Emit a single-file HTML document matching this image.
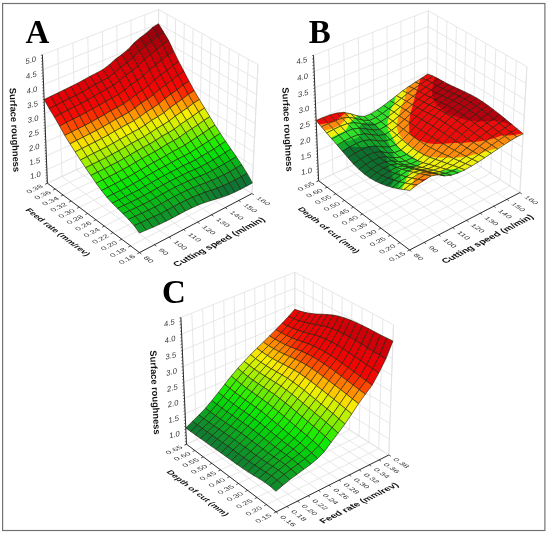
<!DOCTYPE html><html><head><meta charset="utf-8"><style>html,body{margin:0;padding:0;background:#fff;}svg{display:block;}</style></head><body><svg width="550" height="534" viewBox="0 0 550 534"><rect x="2.6" y="3.5" width="542.3" height="527" fill="#fff" stroke="#727272" stroke-width="1.2"/><g><line x1="47.4" y1="183.2" x2="42.4" y2="54.8" stroke="#e1e1e1" stroke-width="0.8"/><line x1="139.5" y1="252.6" x2="47.4" y2="183.2" stroke="#e1e1e1" stroke-width="0.8"/><line x1="62" y1="176.5" x2="57.8" y2="48.8" stroke="#e1e1e1" stroke-width="0.8"/><line x1="154.4" y1="244.8" x2="62" y2="176.5" stroke="#e1e1e1" stroke-width="0.8"/><line x1="76.3" y1="169.9" x2="72.9" y2="42.9" stroke="#e1e1e1" stroke-width="0.8"/><line x1="169.1" y1="237.1" x2="76.3" y2="169.9" stroke="#e1e1e1" stroke-width="0.8"/><line x1="90.4" y1="163.4" x2="87.8" y2="37.1" stroke="#e1e1e1" stroke-width="0.8"/><line x1="183.5" y1="229.5" x2="90.4" y2="163.4" stroke="#e1e1e1" stroke-width="0.8"/><line x1="104.3" y1="157" x2="102.4" y2="31.4" stroke="#e1e1e1" stroke-width="0.8"/><line x1="197.6" y1="222.1" x2="104.3" y2="157" stroke="#e1e1e1" stroke-width="0.8"/><line x1="118" y1="150.7" x2="116.8" y2="25.8" stroke="#e1e1e1" stroke-width="0.8"/><line x1="211.5" y1="214.8" x2="118" y2="150.7" stroke="#e1e1e1" stroke-width="0.8"/><line x1="131.4" y1="144.5" x2="131" y2="20.3" stroke="#e1e1e1" stroke-width="0.8"/><line x1="225.2" y1="207.6" x2="131.4" y2="144.5" stroke="#e1e1e1" stroke-width="0.8"/><line x1="144.7" y1="138.4" x2="144.9" y2="14.9" stroke="#e1e1e1" stroke-width="0.8"/><line x1="238.7" y1="200.6" x2="144.7" y2="138.4" stroke="#e1e1e1" stroke-width="0.8"/><line x1="157.7" y1="132.4" x2="158.6" y2="9.5" stroke="#e1e1e1" stroke-width="0.8"/><line x1="251.9" y1="193.6" x2="157.7" y2="132.4" stroke="#e1e1e1" stroke-width="0.8"/><line x1="251.9" y1="193.6" x2="258" y2="64.6" stroke="#e1e1e1" stroke-width="0.8"/><line x1="139.5" y1="252.6" x2="251.9" y2="193.6" stroke="#e1e1e1" stroke-width="0.8"/><line x1="242.8" y1="187.7" x2="248.4" y2="59.2" stroke="#e1e1e1" stroke-width="0.8"/><line x1="130.6" y1="245.9" x2="242.8" y2="187.7" stroke="#e1e1e1" stroke-width="0.8"/><line x1="233.8" y1="181.8" x2="238.8" y2="54" stroke="#e1e1e1" stroke-width="0.8"/><line x1="121.7" y1="239.2" x2="233.8" y2="181.8" stroke="#e1e1e1" stroke-width="0.8"/><line x1="224.9" y1="176" x2="229.4" y2="48.7" stroke="#e1e1e1" stroke-width="0.8"/><line x1="113" y1="232.6" x2="224.9" y2="176" stroke="#e1e1e1" stroke-width="0.8"/><line x1="216.1" y1="170.3" x2="220.2" y2="43.6" stroke="#e1e1e1" stroke-width="0.8"/><line x1="104.4" y1="226.1" x2="216.1" y2="170.3" stroke="#e1e1e1" stroke-width="0.8"/><line x1="207.5" y1="164.7" x2="211" y2="38.5" stroke="#e1e1e1" stroke-width="0.8"/><line x1="95.9" y1="219.8" x2="207.5" y2="164.7" stroke="#e1e1e1" stroke-width="0.8"/><line x1="198.9" y1="159.1" x2="202" y2="33.5" stroke="#e1e1e1" stroke-width="0.8"/><line x1="87.6" y1="213.5" x2="198.9" y2="159.1" stroke="#e1e1e1" stroke-width="0.8"/><line x1="190.5" y1="153.6" x2="193.1" y2="28.6" stroke="#e1e1e1" stroke-width="0.8"/><line x1="79.3" y1="207.2" x2="190.5" y2="153.6" stroke="#e1e1e1" stroke-width="0.8"/><line x1="182.1" y1="148.2" x2="184.3" y2="23.7" stroke="#e1e1e1" stroke-width="0.8"/><line x1="71.2" y1="201.1" x2="182.1" y2="148.2" stroke="#e1e1e1" stroke-width="0.8"/><line x1="173.9" y1="142.9" x2="175.6" y2="18.9" stroke="#e1e1e1" stroke-width="0.8"/><line x1="63.2" y1="195.1" x2="173.9" y2="142.9" stroke="#e1e1e1" stroke-width="0.8"/><line x1="165.8" y1="137.6" x2="167.1" y2="14.2" stroke="#e1e1e1" stroke-width="0.8"/><line x1="55.3" y1="189.1" x2="165.8" y2="137.6" stroke="#e1e1e1" stroke-width="0.8"/><line x1="157.7" y1="132.4" x2="158.6" y2="9.5" stroke="#e1e1e1" stroke-width="0.8"/><line x1="47.4" y1="183.2" x2="157.7" y2="132.4" stroke="#e1e1e1" stroke-width="0.8"/><line x1="47.4" y1="183.2" x2="157.7" y2="132.4" stroke="#e1e1e1" stroke-width="0.8"/><line x1="157.7" y1="132.4" x2="251.9" y2="193.6" stroke="#e1e1e1" stroke-width="0.8"/><line x1="46.9" y1="169.6" x2="157.8" y2="119.3" stroke="#e1e1e1" stroke-width="0.8"/><line x1="157.8" y1="119.3" x2="252.6" y2="179.9" stroke="#e1e1e1" stroke-width="0.8"/><line x1="46.4" y1="155.8" x2="157.9" y2="106.1" stroke="#e1e1e1" stroke-width="0.8"/><line x1="157.9" y1="106.1" x2="253.2" y2="166.1" stroke="#e1e1e1" stroke-width="0.8"/><line x1="45.8" y1="141.9" x2="158" y2="92.8" stroke="#e1e1e1" stroke-width="0.8"/><line x1="158" y1="92.8" x2="253.9" y2="152.1" stroke="#e1e1e1" stroke-width="0.8"/><line x1="45.3" y1="127.8" x2="158.1" y2="79.3" stroke="#e1e1e1" stroke-width="0.8"/><line x1="158.1" y1="79.3" x2="254.6" y2="137.9" stroke="#e1e1e1" stroke-width="0.8"/><line x1="44.7" y1="113.5" x2="158.2" y2="65.6" stroke="#e1e1e1" stroke-width="0.8"/><line x1="158.2" y1="65.6" x2="255.2" y2="123.6" stroke="#e1e1e1" stroke-width="0.8"/><line x1="44.2" y1="99.1" x2="158.3" y2="51.8" stroke="#e1e1e1" stroke-width="0.8"/><line x1="158.3" y1="51.8" x2="255.9" y2="109.1" stroke="#e1e1e1" stroke-width="0.8"/><line x1="43.6" y1="84.5" x2="158.4" y2="37.9" stroke="#e1e1e1" stroke-width="0.8"/><line x1="158.4" y1="37.9" x2="256.6" y2="94.5" stroke="#e1e1e1" stroke-width="0.8"/><line x1="43" y1="69.7" x2="158.5" y2="23.8" stroke="#e1e1e1" stroke-width="0.8"/><line x1="158.5" y1="23.8" x2="257.3" y2="79.6" stroke="#e1e1e1" stroke-width="0.8"/><line x1="42.4" y1="54.8" x2="158.6" y2="9.5" stroke="#e1e1e1" stroke-width="0.8"/><line x1="158.6" y1="9.5" x2="258" y2="64.6" stroke="#e1e1e1" stroke-width="0.8"/><line x1="251.9" y1="193.6" x2="258" y2="64.6" stroke="#e1e1e1" stroke-width="0.8"/></g><g><line x1="47.4" y1="183.2" x2="42.4" y2="54.8" stroke="#1a1a1a" stroke-width="0.9"/><line x1="47.4" y1="183.2" x2="139.5" y2="252.6" stroke="#1a1a1a" stroke-width="0.9"/><line x1="139.5" y1="252.6" x2="251.9" y2="193.6" stroke="#1a1a1a" stroke-width="0.9"/><line x1="47.4" y1="183.2" x2="45.9" y2="183.9" stroke="#1a1a1a" stroke-width="0.55"/><line x1="47.3" y1="180.5" x2="45.8" y2="181.2" stroke="#1a1a1a" stroke-width="0.55"/><line x1="47.2" y1="177.8" x2="45.7" y2="178.5" stroke="#1a1a1a" stroke-width="0.55"/><line x1="47.1" y1="175" x2="45.6" y2="175.7" stroke="#1a1a1a" stroke-width="0.55"/><line x1="47" y1="172.3" x2="45.5" y2="173" stroke="#1a1a1a" stroke-width="0.55"/><line x1="46.9" y1="169.6" x2="45.4" y2="170.3" stroke="#1a1a1a" stroke-width="0.55"/><line x1="46.8" y1="166.8" x2="45.3" y2="167.5" stroke="#1a1a1a" stroke-width="0.55"/><line x1="46.7" y1="164.1" x2="45.2" y2="164.8" stroke="#1a1a1a" stroke-width="0.55"/><line x1="46.6" y1="161.3" x2="45" y2="162" stroke="#1a1a1a" stroke-width="0.55"/><line x1="46.5" y1="158.6" x2="44.9" y2="159.3" stroke="#1a1a1a" stroke-width="0.55"/><line x1="46.4" y1="155.8" x2="44.8" y2="156.5" stroke="#1a1a1a" stroke-width="0.55"/><line x1="46.3" y1="153" x2="44.7" y2="153.7" stroke="#1a1a1a" stroke-width="0.55"/><line x1="46.2" y1="150.3" x2="44.6" y2="150.9" stroke="#1a1a1a" stroke-width="0.55"/><line x1="46" y1="147.5" x2="44.5" y2="148.2" stroke="#1a1a1a" stroke-width="0.55"/><line x1="45.9" y1="144.7" x2="44.4" y2="145.4" stroke="#1a1a1a" stroke-width="0.55"/><line x1="45.8" y1="141.9" x2="44.3" y2="142.6" stroke="#1a1a1a" stroke-width="0.55"/><line x1="45.7" y1="139.1" x2="44.2" y2="139.8" stroke="#1a1a1a" stroke-width="0.55"/><line x1="45.6" y1="136.3" x2="44.1" y2="136.9" stroke="#1a1a1a" stroke-width="0.55"/><line x1="45.5" y1="133.5" x2="43.9" y2="134.1" stroke="#1a1a1a" stroke-width="0.55"/><line x1="45.4" y1="130.6" x2="43.8" y2="131.3" stroke="#1a1a1a" stroke-width="0.55"/><line x1="45.3" y1="127.8" x2="43.7" y2="128.5" stroke="#1a1a1a" stroke-width="0.55"/><line x1="45.2" y1="125" x2="43.6" y2="125.6" stroke="#1a1a1a" stroke-width="0.55"/><line x1="45.1" y1="122.1" x2="43.5" y2="122.8" stroke="#1a1a1a" stroke-width="0.55"/><line x1="44.9" y1="119.3" x2="43.4" y2="119.9" stroke="#1a1a1a" stroke-width="0.55"/><line x1="44.8" y1="116.4" x2="43.3" y2="117.1" stroke="#1a1a1a" stroke-width="0.55"/><line x1="44.7" y1="113.5" x2="43.2" y2="114.2" stroke="#1a1a1a" stroke-width="0.55"/><line x1="44.6" y1="110.7" x2="43" y2="111.3" stroke="#1a1a1a" stroke-width="0.55"/><line x1="44.5" y1="107.8" x2="42.9" y2="108.4" stroke="#1a1a1a" stroke-width="0.55"/><line x1="44.4" y1="104.9" x2="42.8" y2="105.6" stroke="#1a1a1a" stroke-width="0.55"/><line x1="44.3" y1="102" x2="42.7" y2="102.7" stroke="#1a1a1a" stroke-width="0.55"/><line x1="44.2" y1="99.1" x2="42.6" y2="99.8" stroke="#1a1a1a" stroke-width="0.55"/><line x1="44" y1="96.2" x2="42.5" y2="96.9" stroke="#1a1a1a" stroke-width="0.55"/><line x1="43.9" y1="93.3" x2="42.3" y2="93.9" stroke="#1a1a1a" stroke-width="0.55"/><line x1="43.8" y1="90.4" x2="42.2" y2="91" stroke="#1a1a1a" stroke-width="0.55"/><line x1="43.7" y1="87.4" x2="42.1" y2="88.1" stroke="#1a1a1a" stroke-width="0.55"/><line x1="43.6" y1="84.5" x2="42" y2="85.2" stroke="#1a1a1a" stroke-width="0.55"/><line x1="43.5" y1="81.6" x2="41.9" y2="82.2" stroke="#1a1a1a" stroke-width="0.55"/><line x1="43.4" y1="78.6" x2="41.8" y2="79.3" stroke="#1a1a1a" stroke-width="0.55"/><line x1="43.2" y1="75.7" x2="41.6" y2="76.3" stroke="#1a1a1a" stroke-width="0.55"/><line x1="43.1" y1="72.7" x2="41.5" y2="73.4" stroke="#1a1a1a" stroke-width="0.55"/><line x1="43" y1="69.7" x2="41.4" y2="70.4" stroke="#1a1a1a" stroke-width="0.55"/><line x1="42.9" y1="66.8" x2="41.3" y2="67.4" stroke="#1a1a1a" stroke-width="0.55"/><line x1="42.8" y1="63.8" x2="41.2" y2="64.4" stroke="#1a1a1a" stroke-width="0.55"/><line x1="42.7" y1="60.8" x2="41.1" y2="61.4" stroke="#1a1a1a" stroke-width="0.55"/><line x1="42.6" y1="57.8" x2="40.9" y2="58.4" stroke="#1a1a1a" stroke-width="0.55"/><line x1="42.4" y1="54.8" x2="40.8" y2="55.4" stroke="#1a1a1a" stroke-width="0.55"/><line x1="139.5" y1="252.6" x2="137.2" y2="253.8" stroke="#1a1a1a" stroke-width="0.7"/><line x1="130.6" y1="245.9" x2="128.2" y2="247.1" stroke="#1a1a1a" stroke-width="0.7"/><line x1="121.7" y1="239.2" x2="119.4" y2="240.4" stroke="#1a1a1a" stroke-width="0.7"/><line x1="113" y1="232.6" x2="110.7" y2="233.8" stroke="#1a1a1a" stroke-width="0.7"/><line x1="104.4" y1="226.1" x2="102.1" y2="227.3" stroke="#1a1a1a" stroke-width="0.7"/><line x1="95.9" y1="219.8" x2="93.6" y2="220.9" stroke="#1a1a1a" stroke-width="0.7"/><line x1="87.6" y1="213.5" x2="85.3" y2="214.6" stroke="#1a1a1a" stroke-width="0.7"/><line x1="79.3" y1="207.2" x2="77" y2="208.4" stroke="#1a1a1a" stroke-width="0.7"/><line x1="71.2" y1="201.1" x2="68.9" y2="202.2" stroke="#1a1a1a" stroke-width="0.7"/><line x1="63.2" y1="195.1" x2="60.9" y2="196.1" stroke="#1a1a1a" stroke-width="0.7"/><line x1="55.3" y1="189.1" x2="53" y2="190.2" stroke="#1a1a1a" stroke-width="0.7"/><line x1="47.4" y1="183.2" x2="45.2" y2="184.3" stroke="#1a1a1a" stroke-width="0.7"/><line x1="139.5" y1="252.6" x2="141.5" y2="254.1" stroke="#1a1a1a" stroke-width="0.7"/><line x1="154.4" y1="244.8" x2="156.4" y2="246.2" stroke="#1a1a1a" stroke-width="0.7"/><line x1="169.1" y1="237.1" x2="171" y2="238.5" stroke="#1a1a1a" stroke-width="0.7"/><line x1="183.5" y1="229.5" x2="185.4" y2="230.9" stroke="#1a1a1a" stroke-width="0.7"/><line x1="197.6" y1="222.1" x2="199.6" y2="223.5" stroke="#1a1a1a" stroke-width="0.7"/><line x1="211.5" y1="214.8" x2="213.5" y2="216.2" stroke="#1a1a1a" stroke-width="0.7"/><line x1="225.2" y1="207.6" x2="227.2" y2="208.9" stroke="#1a1a1a" stroke-width="0.7"/><line x1="238.7" y1="200.6" x2="240.7" y2="201.9" stroke="#1a1a1a" stroke-width="0.7"/><line x1="251.9" y1="193.6" x2="253.9" y2="194.9" stroke="#1a1a1a" stroke-width="0.7"/></g><g><text transform="matrix(0.969,-0.248,0.000,1.000,40.8,174)" font-family="Liberation Sans, sans-serif" font-size="7.9" font-weight="normal" fill="#333" text-anchor="end" dominant-baseline="central">1.0</text><text transform="matrix(0.969,-0.248,0.000,1.000,40.2,160.2)" font-family="Liberation Sans, sans-serif" font-size="7.9" font-weight="normal" fill="#333" text-anchor="end" dominant-baseline="central">1.5</text><text transform="matrix(0.969,-0.248,0.000,1.000,39.6,146.2)" font-family="Liberation Sans, sans-serif" font-size="7.9" font-weight="normal" fill="#333" text-anchor="end" dominant-baseline="central">2.0</text><text transform="matrix(0.969,-0.248,0.000,1.000,39.1,132.1)" font-family="Liberation Sans, sans-serif" font-size="7.9" font-weight="normal" fill="#333" text-anchor="end" dominant-baseline="central">2.5</text><text transform="matrix(0.969,-0.248,0.000,1.000,38.5,117.8)" font-family="Liberation Sans, sans-serif" font-size="7.9" font-weight="normal" fill="#333" text-anchor="end" dominant-baseline="central">3.0</text><text transform="matrix(0.969,-0.248,0.000,1.000,37.9,103.4)" font-family="Liberation Sans, sans-serif" font-size="7.9" font-weight="normal" fill="#333" text-anchor="end" dominant-baseline="central">3.5</text><text transform="matrix(0.969,-0.248,0.000,1.000,37.3,88.8)" font-family="Liberation Sans, sans-serif" font-size="7.9" font-weight="normal" fill="#333" text-anchor="end" dominant-baseline="central">4.0</text><text transform="matrix(0.969,-0.248,0.000,1.000,36.7,74)" font-family="Liberation Sans, sans-serif" font-size="7.9" font-weight="normal" fill="#333" text-anchor="end" dominant-baseline="central">4.5</text><text transform="matrix(0.969,-0.248,0.000,1.000,36.1,59)" font-family="Liberation Sans, sans-serif" font-size="7.9" font-weight="normal" fill="#333" text-anchor="end" dominant-baseline="central">5.0</text><text transform="matrix(0.885,-0.465,0.623,0.470,134.1,255.5)" font-family="Liberation Sans, sans-serif" font-size="8.4" font-weight="normal" fill="#333" text-anchor="end" dominant-baseline="central">0.16</text><text transform="matrix(0.888,-0.460,0.623,0.470,125.2,248.7)" font-family="Liberation Sans, sans-serif" font-size="8.4" font-weight="normal" fill="#333" text-anchor="end" dominant-baseline="central">0.18</text><text transform="matrix(0.890,-0.456,0.623,0.470,116.3,242)" font-family="Liberation Sans, sans-serif" font-size="8.4" font-weight="normal" fill="#333" text-anchor="end" dominant-baseline="central">0.20</text><text transform="matrix(0.892,-0.451,0.623,0.470,107.6,235.4)" font-family="Liberation Sans, sans-serif" font-size="8.4" font-weight="normal" fill="#333" text-anchor="end" dominant-baseline="central">0.22</text><text transform="matrix(0.895,-0.447,0.623,0.470,99,228.8)" font-family="Liberation Sans, sans-serif" font-size="8.4" font-weight="normal" fill="#333" text-anchor="end" dominant-baseline="central">0.24</text><text transform="matrix(0.897,-0.443,0.623,0.470,90.6,222.4)" font-family="Liberation Sans, sans-serif" font-size="8.4" font-weight="normal" fill="#333" text-anchor="end" dominant-baseline="central">0.26</text><text transform="matrix(0.899,-0.439,0.623,0.470,82.2,216.1)" font-family="Liberation Sans, sans-serif" font-size="8.4" font-weight="normal" fill="#333" text-anchor="end" dominant-baseline="central">0.28</text><text transform="matrix(0.901,-0.434,0.623,0.470,74,209.8)" font-family="Liberation Sans, sans-serif" font-size="8.4" font-weight="normal" fill="#333" text-anchor="end" dominant-baseline="central">0.30</text><text transform="matrix(0.903,-0.430,0.623,0.470,65.9,203.7)" font-family="Liberation Sans, sans-serif" font-size="8.4" font-weight="normal" fill="#333" text-anchor="end" dominant-baseline="central">0.32</text><text transform="matrix(0.905,-0.426,0.623,0.470,57.9,197.6)" font-family="Liberation Sans, sans-serif" font-size="8.4" font-weight="normal" fill="#333" text-anchor="end" dominant-baseline="central">0.34</text><text transform="matrix(0.906,-0.422,0.623,0.470,50,191.6)" font-family="Liberation Sans, sans-serif" font-size="8.4" font-weight="normal" fill="#333" text-anchor="end" dominant-baseline="central">0.36</text><text transform="matrix(0.908,-0.419,0.623,0.470,42.1,185.6)" font-family="Liberation Sans, sans-serif" font-size="8.4" font-weight="normal" fill="#333" text-anchor="end" dominant-baseline="central">0.38</text><text transform="matrix(0.799,0.602,-0.664,0.349,145,256.7)" font-family="Liberation Sans, sans-serif" font-size="8.4" font-weight="normal" fill="#333" text-anchor="start" dominant-baseline="central">80</text><text transform="matrix(0.804,0.594,-0.664,0.349,159.9,248.9)" font-family="Liberation Sans, sans-serif" font-size="8.4" font-weight="normal" fill="#333" text-anchor="start" dominant-baseline="central">90</text><text transform="matrix(0.810,0.587,-0.664,0.349,174.6,241.1)" font-family="Liberation Sans, sans-serif" font-size="8.4" font-weight="normal" fill="#333" text-anchor="start" dominant-baseline="central">100</text><text transform="matrix(0.815,0.579,-0.664,0.349,189,233.5)" font-family="Liberation Sans, sans-serif" font-size="8.4" font-weight="normal" fill="#333" text-anchor="start" dominant-baseline="central">110</text><text transform="matrix(0.820,0.572,-0.664,0.349,203.1,226)" font-family="Liberation Sans, sans-serif" font-size="8.4" font-weight="normal" fill="#333" text-anchor="start" dominant-baseline="central">120</text><text transform="matrix(0.825,0.565,-0.664,0.349,217.1,218.6)" font-family="Liberation Sans, sans-serif" font-size="8.4" font-weight="normal" fill="#333" text-anchor="start" dominant-baseline="central">130</text><text transform="matrix(0.830,0.558,-0.664,0.349,230.8,211.4)" font-family="Liberation Sans, sans-serif" font-size="8.4" font-weight="normal" fill="#333" text-anchor="start" dominant-baseline="central">140</text><text transform="matrix(0.834,0.552,-0.664,0.349,244.3,204.2)" font-family="Liberation Sans, sans-serif" font-size="8.4" font-weight="normal" fill="#333" text-anchor="start" dominant-baseline="central">150</text><text transform="matrix(0.839,0.545,-0.664,0.349,257.5,197.2)" font-family="Liberation Sans, sans-serif" font-size="8.4" font-weight="normal" fill="#333" text-anchor="start" dominant-baseline="central">160</text><text transform="matrix(0.799,0.602,-0.853,0.419,58,232)" font-family="Liberation Sans, sans-serif" font-size="8.6" font-weight="bold" fill="#111" text-anchor="middle" dominant-baseline="central">Feed rate (mm/rev)</text><text transform="matrix(0.885,-0.465,0.779,0.544,219,242)" font-family="Liberation Sans, sans-serif" font-size="9.5" font-weight="bold" fill="#111" text-anchor="middle" dominant-baseline="central">Cutting speed (m/min)</text><text transform="matrix(0.050,1.000,-1.000,0.050,14.5,130)" font-family="Liberation Sans, sans-serif" font-size="9.3" font-weight="bold" fill="#111" text-anchor="middle" dominant-baseline="central">Surface roughness</text></g><g stroke="#1c1c08" stroke-width="0.6" stroke-linejoin="round"><polygon points="157.5,36 163.6,32.1 158.5,23.7 152.5,27.4" fill="#96000e"/><polygon points="162.6,44.5 168.7,40.6 163.6,32.1 157.5,36" fill="#a5000c"/><polygon points="151.5,41.5 157.5,36 152.5,27.4 146.4,32.9" fill="#9c000d"/><polygon points="167.7,55.2 173.7,51.3 168.7,40.6 162.6,44.5" fill="#b9000a"/><polygon points="172.8,65.6 178.8,61.7 173.7,51.3 167.7,55.2" fill="#d50008"/><polygon points="156.6,49.9 162.6,44.5 157.5,36 151.5,41.5" fill="#ac000b"/><polygon points="145.4,46.2 151.5,41.5 146.4,32.9 140.3,37.6" fill="#a3000c"/><polygon points="177.9,75.1 183.9,71.3 178.8,61.7 172.8,65.6" fill="#e40207"/><polygon points="161.6,60.5 167.7,55.2 162.6,44.5 156.6,49.9" fill="#c10009"/><polygon points="183.1,85 189.1,81.2 183.9,71.3 177.9,75.1" fill="#ee0406"/><polygon points="166.8,70.7 172.8,65.6 167.7,55.2 161.6,60.5" fill="#dd0008"/><polygon points="150.5,54.6 156.6,49.9 151.5,41.5 145.4,46.2" fill="#b3000a"/><polygon points="139.2,51.3 145.4,46.2 140.3,37.6 134.1,42.8" fill="#aa000b"/><polygon points="188.2,94.5 194.2,90.7 189.1,81.2 183.1,85" fill="#f81b01"/><polygon points="171.9,80.2 177.9,75.1 172.8,65.6 166.8,70.7" fill="#e70207"/><polygon points="155.6,65 161.6,60.5 156.6,49.9 150.5,54.6" fill="#ca0009"/><polygon points="160.7,75.2 166.8,70.7 161.6,60.5 155.6,65" fill="#e10108"/><polygon points="177,89.9 183.1,85 177.9,75.1 171.9,80.2" fill="#f10505"/><polygon points="144.3,59.7 150.5,54.6 145.4,46.2 139.2,51.3" fill="#bb000a"/><polygon points="193.4,103.2 199.4,99.5 194.2,90.7 188.2,94.5" fill="#ff7400"/><polygon points="133.1,57.9 139.2,51.3 134.1,42.8 128,49.5" fill="#b4000a"/><polygon points="165.8,84.6 171.9,80.2 166.8,70.7 160.7,75.2" fill="#ea0306"/><polygon points="182.2,99.2 188.2,94.5 183.1,85 177,89.9" fill="#fa2900"/><polygon points="149.4,69.9 155.6,65 150.5,54.6 144.3,59.7" fill="#d30009"/><polygon points="198.6,111.9 204.6,108.1 199.4,99.5 193.4,103.2" fill="#fbc700"/><polygon points="138.1,66.1 144.3,59.7 139.2,51.3 133.1,57.9" fill="#c70009"/><polygon points="126.9,62.9 133.1,57.9 128,49.5 121.8,54.5" fill="#c00009"/><polygon points="154.5,80 160.7,75.2 155.6,65 149.4,69.9" fill="#e40107"/><polygon points="170.9,94.2 177,89.9 171.9,80.2 165.8,84.6" fill="#f40b04"/><polygon points="187.4,107.9 193.4,103.2 188.2,94.5 182.2,99.2" fill="#ff8c00"/><polygon points="203.8,120.5 209.8,116.7 204.6,108.1 198.6,111.9" fill="#def000"/><polygon points="143.3,76 149.4,69.9 144.3,59.7 138.1,66.1" fill="#de0008"/><polygon points="159.7,89.2 165.8,84.6 160.7,75.2 154.5,80" fill="#ed0406"/><polygon points="176.1,103.4 182.2,99.2 177,89.9 170.9,94.2" fill="#fd4a00"/><polygon points="131.9,70.9 138.1,66.1 133.1,57.9 126.9,62.9" fill="#d30009"/><polygon points="192.6,116.4 198.6,111.9 193.4,103.2 187.4,107.9" fill="#f8da00"/><polygon points="148.4,85.8 154.5,80 149.4,69.9 143.3,76" fill="#e80207"/><polygon points="120.6,67.4 126.9,62.9 121.8,54.5 115.5,59.1" fill="#c80009"/><polygon points="164.8,98.7 170.9,94.2 165.8,84.6 159.7,89.2" fill="#f61502"/><polygon points="209.1,128.9 215,125.2 209.8,116.7 203.8,120.5" fill="#a4ef00"/><polygon points="181.3,112 187.4,107.9 182.2,99.2 176.1,103.4" fill="#ffa700"/><polygon points="137.1,80.7 143.3,76 138.1,66.1 131.9,70.9" fill="#e20107"/><polygon points="153.5,94.8 159.7,89.2 154.5,80 148.4,85.8" fill="#f10505"/><polygon points="197.8,124.9 203.8,120.5 198.6,111.9 192.6,116.4" fill="#d1f000"/><polygon points="170,107.7 176.1,103.4 170.9,94.2 164.8,98.7" fill="#ff6600"/><polygon points="125.7,75.4 131.9,70.9 126.9,62.9 120.6,67.4" fill="#db0008"/><polygon points="142.2,90.4 148.4,85.8 143.3,76 137.1,80.7" fill="#eb0306"/><polygon points="214.4,137.1 220.3,133.4 215,125.2 209.1,128.9" fill="#63eb00"/><polygon points="186.5,120.4 192.6,116.4 187.4,107.9 181.3,112" fill="#f5f000"/><polygon points="114.4,73 120.6,67.4 115.5,59.1 109.3,64.7" fill="#d10009"/><polygon points="158.7,104 164.8,98.7 159.7,89.2 153.5,94.8" fill="#fa2300"/><polygon points="203.1,133.2 209.1,128.9 203.8,120.5 197.8,124.9" fill="#94ee00"/><polygon points="175.2,116.2 181.3,112 176.1,103.4 170,107.7" fill="#fdbc00"/><polygon points="130.8,84.9 137.1,80.7 131.9,70.9 125.7,75.4" fill="#e50207"/><polygon points="147.3,99.2 153.5,94.8 148.4,85.8 142.2,90.4" fill="#f40e04"/><polygon points="219.7,145 225.6,141.4 220.3,133.4 214.4,137.1" fill="#29ed01"/><polygon points="191.8,128.8 197.8,124.9 192.6,116.4 186.5,120.4" fill="#c2f000"/><polygon points="163.9,112.8 170,107.7 164.8,98.7 158.7,104" fill="#ff8700"/><polygon points="119.5,80.8 125.7,75.4 120.6,67.4 114.4,73" fill="#e00108"/><polygon points="108.1,77.7 114.4,73 109.3,64.7 103,69.5" fill="#db0008"/><polygon points="136,94.5 142.2,90.4 137.1,80.7 130.8,84.9" fill="#ee0406"/><polygon points="208.4,141.3 214.4,137.1 209.1,128.9 203.1,133.2" fill="#54ec00"/><polygon points="180.4,124.5 186.5,120.4 181.3,112 175.2,116.2" fill="#e8f000"/><polygon points="152.5,108.2 158.7,104 153.5,94.8 147.3,99.2" fill="#fd4a00"/><polygon points="169.1,121 175.2,116.2 170,107.7 163.9,112.8" fill="#f9d500"/><polygon points="124.6,90.2 130.8,84.9 125.7,75.4 119.5,80.8" fill="#e80207"/><polygon points="197,137.1 203.1,133.2 197.8,124.9 191.8,128.8" fill="#83ed00"/><polygon points="225,152.7 231,149.1 225.6,141.4 219.7,145" fill="#09e505"/><polygon points="141.1,103.2 147.3,99.2 142.2,90.4 136,94.5" fill="#f71702"/><polygon points="113.2,85.5 119.5,80.8 114.4,73 108.1,77.7" fill="#e40107"/><polygon points="157.7,116.8 163.9,112.8 158.7,104 152.5,108.2" fill="#ffa500"/><polygon points="185.7,132.8 191.8,128.8 186.5,120.4 180.4,124.5" fill="#b4ef00"/><polygon points="213.7,149.1 219.7,145 214.4,137.1 208.4,141.3" fill="#21eb01"/><polygon points="129.7,99.6 136,94.5 130.8,84.9 124.6,90.2" fill="#f10505"/><polygon points="101.7,81.2 108.1,77.7 103,69.5 96.6,72.9" fill="#df0008"/><polygon points="174.3,129.2 180.4,124.5 175.2,116.2 169.1,121" fill="#d8f000"/><polygon points="202.3,145.1 208.4,141.3 203.1,133.2 197,137.1" fill="#44ed00"/><polygon points="146.3,112 152.5,108.2 147.3,99.2 141.1,103.2" fill="#ff6200"/><polygon points="230.4,160.3 236.3,156.8 231,149.1 225,152.7" fill="#05d00e"/><polygon points="118.3,94.7 124.6,90.2 119.5,80.8 113.2,85.5" fill="#eb0306"/><polygon points="162.9,124.9 169.1,121 163.9,112.8 157.7,116.8" fill="#f6ec00"/><polygon points="191,141 197,137.1 191.8,128.8 185.7,132.8" fill="#75ec00"/><polygon points="134.9,108.1 141.1,103.2 136,94.5 129.7,99.6" fill="#fa2200"/><polygon points="219,156.5 225,152.7 219.7,145 213.7,149.1" fill="#05e206"/><polygon points="106.8,89.1 113.2,85.5 108.1,77.7 101.7,81.2" fill="#e60207"/><polygon points="151.5,120.5 157.7,116.8 152.5,108.2 146.3,112" fill="#feb600"/><polygon points="179.6,137.2 185.7,132.8 180.4,124.5 174.3,129.2" fill="#a1ee00"/><polygon points="123.4,104 129.7,99.6 124.6,90.2 118.3,94.7" fill="#f40c04"/><polygon points="207.7,152.7 213.7,149.1 208.4,141.3 202.3,145.1" fill="#1ae902"/><polygon points="235.8,168.2 241.7,164.8 236.3,156.8 230.4,160.3" fill="#09b41b"/><polygon points="95.3,84.6 101.7,81.2 96.6,72.9 90.2,76.2" fill="#e00008"/><polygon points="168.1,132.9 174.3,129.2 169.1,121 162.9,124.9" fill="#c9f000"/><polygon points="140,116.6 146.3,112 141.1,103.2 134.9,108.1" fill="#ff7b00"/><polygon points="196.3,148.8 202.3,145.1 197,137.1 191,141" fill="#38ed00"/><polygon points="111.9,98.2 118.3,94.7 113.2,85.5 106.8,89.1" fill="#ed0406"/><polygon points="224.4,163.9 230.4,160.3 225,152.7 219,156.5" fill="#05cc0f"/><polygon points="128.6,112.4 134.9,108.1 129.7,99.6 123.4,104" fill="#fc4100"/><polygon points="156.7,128.5 162.9,124.9 157.7,116.8 151.5,120.5" fill="#eef000"/><polygon points="184.8,145.2 191,141 185.7,132.8 179.6,137.2" fill="#65eb00"/><polygon points="213,160 219,156.5 213.7,149.1 207.7,152.7" fill="#05de08"/><polygon points="241.2,176.7 247.1,173.4 241.7,164.8 235.8,168.2" fill="#0f942a"/><polygon points="100.4,92.5 106.8,89.1 101.7,81.2 95.3,84.6" fill="#e70207"/><polygon points="145.2,124.9 151.5,120.5 146.3,112 140,116.6" fill="#fbc800"/><polygon points="173.4,140.8 179.6,137.2 174.3,129.2 168.1,132.9" fill="#91ee00"/><polygon points="117.1,107.5 123.4,104 118.3,94.7 111.9,98.2" fill="#f61303"/><polygon points="201.6,156.2 207.7,152.7 202.3,145.1 196.3,148.8" fill="#15e803"/><polygon points="133.8,120.8 140,116.6 134.9,108.1 128.6,112.4" fill="#ff9600"/><polygon points="88.9,88.3 95.3,84.6 90.2,76.2 83.8,79.8" fill="#e10108"/><polygon points="229.8,171.7 235.8,168.2 230.4,160.3 224.4,163.9" fill="#0ab11d"/><polygon points="161.9,136.3 168.1,132.9 162.9,124.9 156.7,128.5" fill="#c2f000"/><polygon points="190.1,152.7 196.3,148.8 191,141 184.8,145.2" fill="#2cee00"/><polygon points="246.5,186.2 252.4,182.9 247.1,173.4 241.2,176.7" fill="#0e7634"/><polygon points="105.5,101.6 111.9,98.2 106.8,89.1 100.4,92.5" fill="#ee0406"/><polygon points="122.2,115.9 128.6,112.4 123.4,104 117.1,107.5" fill="#fe5600"/><polygon points="150.5,132.7 156.7,128.5 151.5,120.5 145.2,124.9" fill="#e3f000"/><polygon points="218.4,167.2 224.4,163.9 219,156.5 213,160" fill="#05c911"/><polygon points="178.7,148.6 184.8,145.2 179.6,137.2 173.4,140.8" fill="#57ec00"/><polygon points="139,128.9 145.2,124.9 140,116.6 133.8,120.8" fill="#f8dc00"/><polygon points="207,163.3 213,160 207.7,152.7 201.6,156.2" fill="#05db09"/><polygon points="94,96.3 100.4,92.5 95.3,84.6 88.9,88.3" fill="#e80207"/><polygon points="235.2,180 241.2,176.7 235.8,168.2 229.8,171.7" fill="#0f922a"/><polygon points="167.2,144.1 173.4,140.8 168.1,132.9 161.9,136.3" fill="#89ed00"/><polygon points="110.7,110.9 117.1,107.5 111.9,98.2 105.5,101.6" fill="#f71702"/><polygon points="195.5,159.9 201.6,156.2 196.3,148.8 190.1,152.7" fill="#0fe704"/><polygon points="127.4,124.2 133.8,120.8 128.6,112.4 122.2,115.9" fill="#ffa500"/><polygon points="82.4,92 88.9,88.3 83.8,79.8 77.3,83.3" fill="#e20107"/><polygon points="155.7,140.4 161.9,136.3 156.7,128.5 150.5,132.7" fill="#b6f000"/><polygon points="223.8,174.8 229.8,171.7 224.4,163.9 218.4,167.2" fill="#0bae1e"/><polygon points="184,156 190.1,152.7 184.8,145.2 178.7,148.6" fill="#26ec01"/><polygon points="99.1,105.3 105.5,101.6 100.4,92.5 94,96.3" fill="#ef0405"/><polygon points="240.6,189.3 246.5,186.2 241.2,176.7 235.2,180" fill="#0e7535"/><polygon points="144.2,136.6 150.5,132.7 145.2,124.9 139,128.9" fill="#d7f000"/><polygon points="115.9,119.3 122.2,115.9 117.1,107.5 110.7,110.9" fill="#fe6100"/><polygon points="212.4,170.4 218.4,167.2 213,160 207,163.3" fill="#05c711"/><polygon points="172.5,151.7 178.7,148.6 173.4,140.8 167.2,144.1" fill="#51ec00"/><polygon points="132.6,132.3 139,128.9 133.8,120.8 127.4,124.2" fill="#f6e800"/><polygon points="87.5,100 94,96.3 88.9,88.3 82.4,92" fill="#e90306"/><polygon points="200.9,166.7 207,163.3 201.6,156.2 195.5,159.9" fill="#05d80a"/><polygon points="161,148 167.2,144.1 161.9,136.3 155.7,140.4" fill="#7fed00"/><polygon points="229.2,183 235.2,180 229.8,171.7 223.8,174.8" fill="#0f912b"/><polygon points="104.3,114.7 110.7,110.9 105.5,101.6 99.1,105.3" fill="#f81c01"/><polygon points="189.4,162.9 195.5,159.9 190.1,152.7 184,156" fill="#0be604"/><polygon points="121.1,127.6 127.4,124.2 122.2,115.9 115.9,119.3" fill="#ffaf00"/><polygon points="149.4,144.2 155.7,140.4 150.5,132.7 144.2,136.6" fill="#a8ef00"/><polygon points="75.9,95.4 82.4,92 77.3,83.3 70.8,86.6" fill="#e30107"/><polygon points="217.8,177.8 223.8,174.8 218.4,167.2 212.4,170.4" fill="#0bad1f"/><polygon points="177.8,159 184,156 178.7,148.6 172.5,151.7" fill="#24ec01"/><polygon points="92.7,109 99.1,105.3 94,96.3 87.5,100" fill="#f10505"/><polygon points="137.9,140 144.2,136.6 139,128.9 132.6,132.3" fill="#cff000"/><polygon points="109.5,123.1 115.9,119.3 110.7,110.9 104.3,114.7" fill="#ff6e00"/><polygon points="234.6,192.2 240.6,189.3 235.2,180 229.2,183" fill="#0e7535"/><polygon points="166.3,155.5 172.5,151.7 167.2,144.1 161,148" fill="#4aec00"/><polygon points="206.3,173.5 212.4,170.4 207,163.3 200.9,166.7" fill="#05c612"/><polygon points="126.3,135.7 132.6,132.3 127.4,124.2 121.1,127.6" fill="#f5f000"/><polygon points="81,103.5 87.5,100 82.4,92 75.9,95.4" fill="#ea0306"/><polygon points="154.7,151.7 161,148 155.7,140.4 149.4,144.2" fill="#73ec00"/><polygon points="194.8,169.5 200.9,166.7 195.5,159.9 189.4,162.9" fill="#05d70b"/><polygon points="97.8,118.4 104.3,114.7 99.1,105.3 92.7,109" fill="#fa2200"/><polygon points="223.2,185.8 229.2,183 223.8,174.8 217.8,177.8" fill="#0f912b"/><polygon points="114.6,131.3 121.1,127.6 115.9,119.3 109.5,123.1" fill="#fdb900"/><polygon points="183.2,165.7 189.4,162.9 184,156 177.8,159" fill="#0be604"/><polygon points="143.1,147.5 149.4,144.2 144.2,136.6 137.9,140" fill="#9fee00"/><polygon points="69.3,98.7 75.9,95.4 70.8,86.6 64.2,89.8" fill="#e40207"/><polygon points="171.6,162.5 177.8,159 172.5,151.7 166.3,155.5" fill="#22eb01"/><polygon points="86.1,112.5 92.7,109 87.5,100 81,103.5" fill="#f20505"/><polygon points="211.7,180.5 217.8,177.8 212.4,170.4 206.3,173.5" fill="#0bad1e"/><polygon points="131.5,143.4 137.9,140 132.6,132.3 126.3,135.7" fill="#caf000"/><polygon points="103,126.8 109.5,123.1 104.3,114.7 97.8,118.4" fill="#ff7c00"/><polygon points="160,159 166.3,155.5 161,148 154.7,151.7" fill="#40ed00"/><polygon points="228.7,194.8 234.6,192.2 229.2,183 223.2,185.8" fill="#0e7634"/><polygon points="200.2,176 206.3,173.5 200.9,166.7 194.8,169.5" fill="#05c712"/><polygon points="119.8,139.4 126.3,135.7 121.1,127.6 114.6,131.3" fill="#eff000"/><polygon points="74.4,106.9 81,103.5 75.9,95.4 69.3,98.7" fill="#eb0306"/><polygon points="148.4,155.1 154.7,151.7 149.4,144.2 143.1,147.5" fill="#6ceb00"/><polygon points="91.3,122 97.8,118.4 92.7,109 86.1,112.5" fill="#fb2d00"/><polygon points="188.6,172.1 194.8,169.5 189.4,162.9 183.2,165.7" fill="#05d80a"/><polygon points="108.2,135 114.6,131.3 109.5,123.1 103,126.8" fill="#fcc400"/><polygon points="217.2,188.3 223.2,185.8 217.8,177.8 211.7,180.5" fill="#0f932a"/><polygon points="136.7,151 143.1,147.5 137.9,140 131.5,143.4" fill="#99ee00"/><polygon points="177,169 183.2,165.7 177.8,159 171.6,162.5" fill="#0ae504"/><polygon points="62.7,101.9 69.3,98.7 64.2,89.8 57.6,93" fill="#e50207"/><polygon points="79.6,115.9 86.1,112.5 81,103.5 74.4,106.9" fill="#f30805"/><polygon points="165.3,165.9 171.6,162.5 166.3,155.5 160,159" fill="#1eea02"/><polygon points="125.1,147.1 131.5,143.4 126.3,135.7 119.8,139.4" fill="#c4f000"/><polygon points="96.5,130.4 103,126.8 97.8,118.4 91.3,122" fill="#ff8800"/><polygon points="205.6,182.9 211.7,180.5 206.3,173.5 200.2,176" fill="#0bb01d"/><polygon points="153.7,162.4 160,159 154.7,151.7 148.4,155.1" fill="#39ed00"/><polygon points="113.4,143.1 119.8,139.4 114.6,131.3 108.2,135" fill="#e7f000"/><polygon points="222.6,197 228.7,194.8 223.2,185.8 217.2,188.3" fill="#0e7833"/><polygon points="67.8,110.2 74.4,106.9 69.3,98.7 62.7,101.9" fill="#ec0406"/><polygon points="194,178.5 200.2,176 194.8,169.5 188.6,172.1" fill="#05c911"/><polygon points="142,158.6 148.4,155.1 143.1,147.5 136.7,151" fill="#66eb00"/><polygon points="84.8,125.4 91.3,122 86.1,112.5 79.6,115.9" fill="#fb3700"/><polygon points="182.4,175.1 188.6,172.1 183.2,165.7 177,169" fill="#05d90a"/><polygon points="101.7,138.6 108.2,135 103,126.8 96.5,130.4" fill="#face00"/><polygon points="130.3,154.7 136.7,151 131.5,143.4 125.1,147.1" fill="#91ee00"/><polygon points="170.7,172.2 177,169 171.6,162.5 165.3,165.9" fill="#08e505"/><polygon points="56,105.3 62.7,101.9 57.6,93 50.9,96.2" fill="#e50207"/><polygon points="211.1,190.4 217.2,188.3 211.7,180.5 205.6,182.9" fill="#0f9728"/><polygon points="73,119.2 79.6,115.9 74.4,106.9 67.8,110.2" fill="#f40b04"/><polygon points="159,169.2 165.3,165.9 160,159 153.7,162.4" fill="#1be902"/><polygon points="118.6,150.9 125.1,147.1 119.8,139.4 113.4,143.1" fill="#bcf000"/><polygon points="89.9,133.7 96.5,130.4 91.3,122 84.8,125.4" fill="#ff9100"/><polygon points="147.3,165.9 153.7,162.4 148.4,155.1 142,158.6" fill="#34ee00"/><polygon points="199.5,185.1 205.6,182.9 200.2,176 194,178.5" fill="#09b51b"/><polygon points="106.9,146.7 113.4,143.1 108.2,135 101.7,138.6" fill="#e0f000"/><polygon points="61.1,113.6 67.8,110.2 62.7,101.9 56,105.3" fill="#ed0406"/><polygon points="135.6,162.3 142,158.6 136.7,151 130.3,154.7" fill="#5eeb00"/><polygon points="78.1,128.7 84.8,125.4 79.6,115.9 73,119.2" fill="#fc3f00"/><polygon points="187.8,181.2 194,178.5 188.6,172.1 182.4,175.1" fill="#05cb10"/><polygon points="216.6,198.9 222.6,197 217.2,188.3 211.1,190.4" fill="#0f7c32"/><polygon points="95.1,141.9 101.7,138.6 96.5,130.4 89.9,133.7" fill="#f9d500"/><polygon points="176.1,178.2 182.4,175.1 177,169 170.7,172.2" fill="#05d80a"/><polygon points="123.9,158.5 130.3,154.7 125.1,147.1 118.6,150.9" fill="#88ed00"/><polygon points="49.3,108.8 56,105.3 50.9,96.2 44.2,99.6" fill="#e60207"/><polygon points="164.4,175.5 170.7,172.2 165.3,165.9 159,169.2" fill="#06e405"/><polygon points="66.3,122.5 73,119.2 67.8,110.2 61.1,113.6" fill="#f40d04"/><polygon points="112.1,154.4 118.6,150.9 113.4,143.1 106.9,146.7" fill="#b3ef00"/><polygon points="152.7,172.7 159,169.2 153.7,162.4 147.3,165.9" fill="#18e903"/><polygon points="83.3,137.1 89.9,133.7 84.8,125.4 78.1,128.7" fill="#ff9800"/><polygon points="205,192.4 211.1,190.4 205.6,182.9 199.5,185.1" fill="#0f9d26"/><polygon points="140.9,169.7 147.3,165.9 142,158.6 135.6,162.3" fill="#2cee00"/><polygon points="100.3,150 106.9,146.7 101.7,138.6 95.1,141.9" fill="#dcf000"/><polygon points="54.4,117.1 61.1,113.6 56,105.3 49.3,108.8" fill="#ee0406"/><polygon points="193.3,187.6 199.5,185.1 194,178.5 187.8,181.2" fill="#08b918"/><polygon points="129.2,166.1 135.6,162.3 130.3,154.7 123.9,158.5" fill="#54ec00"/><polygon points="71.5,132 78.1,128.7 73,119.2 66.3,122.5" fill="#fd4700"/><polygon points="181.5,184.1 187.8,181.2 182.4,175.1 176.1,178.2" fill="#05cc0f"/><polygon points="88.5,145.2 95.1,141.9 89.9,133.7 83.3,137.1" fill="#f8da00"/><polygon points="117.4,162.1 123.9,158.5 118.6,150.9 112.1,154.4" fill="#7fed00"/><polygon points="169.8,181.3 176.1,178.2 170.7,172.2 164.4,175.5" fill="#05d80a"/><polygon points="210.4,200.7 216.6,198.9 211.1,190.4 205,192.4" fill="#0f842f"/><polygon points="158,178.9 164.4,175.5 159,169.2 152.7,172.7" fill="#05e305"/><polygon points="59.6,126 66.3,122.5 61.1,113.6 54.4,117.1" fill="#f51103"/><polygon points="105.6,157.8 112.1,154.4 106.9,146.7 100.3,150" fill="#aeef00"/><polygon points="146.2,176.4 152.7,172.7 147.3,165.9 140.9,169.7" fill="#14e803"/><polygon points="76.7,140.4 83.3,137.1 78.1,128.7 71.5,132" fill="#ff9e00"/><polygon points="134.5,173.4 140.9,169.7 135.6,162.3 129.2,166.1" fill="#27ed01"/><polygon points="198.8,194.7 205,192.4 199.5,185.1 193.3,187.6" fill="#0ea323"/><polygon points="93.7,153.3 100.3,150 95.1,141.9 88.5,145.2" fill="#d8f000"/><polygon points="122.7,169.7 129.2,166.1 123.9,158.5 117.4,162.1" fill="#4cec00"/><polygon points="64.8,135.5 71.5,132 66.3,122.5 59.6,126" fill="#fd4f00"/><polygon points="187,190.3 193.3,187.6 187.8,181.2 181.5,184.1" fill="#07bc17"/><polygon points="175.2,187.1 181.5,184.1 176.1,178.2 169.8,181.3" fill="#05cc0f"/><polygon points="81.9,148.5 88.5,145.2 83.3,137.1 76.7,140.4" fill="#f8df00"/><polygon points="110.8,165.5 117.4,162.1 112.1,154.4 105.6,157.8" fill="#7aec00"/><polygon points="163.4,184.7 169.8,181.3 164.4,175.5 158,178.9" fill="#05d70b"/><polygon points="151.6,182.6 158,178.9 152.7,172.7 146.2,176.4" fill="#05e107"/><polygon points="204.3,202.7 210.4,200.7 205,192.4 198.8,194.7" fill="#0f8b2d"/><polygon points="139.8,180.2 146.2,176.4 140.9,169.7 134.5,173.4" fill="#0fe704"/><polygon points="99,161.1 105.6,157.8 100.3,150 93.7,153.3" fill="#aaef00"/><polygon points="70,143.9 76.7,140.4 71.5,132 64.8,135.5" fill="#ffa500"/><polygon points="128,177.1 134.5,173.4 129.2,166.1 122.7,169.7" fill="#23ec01"/><polygon points="87.1,156.6 93.7,153.3 88.5,145.2 81.9,148.5" fill="#d6f000"/><polygon points="192.5,197.2 198.8,194.7 193.3,187.6 187,190.3" fill="#0da821"/><polygon points="116.1,173.1 122.7,169.7 117.4,162.1 110.8,165.5" fill="#46ed00"/><polygon points="180.7,193.3 187,190.3 181.5,184.1 175.2,187.1" fill="#07be16"/><polygon points="75.2,151.9 81.9,148.5 76.7,140.4 70,143.9" fill="#f7e500"/><polygon points="168.9,190.5 175.2,187.1 169.8,181.3 163.4,184.7" fill="#05cc10"/><polygon points="104.2,168.8 110.8,165.5 105.6,157.8 99,161.1" fill="#76ec00"/><polygon points="157,188.3 163.4,184.7 158,178.9 151.6,182.6" fill="#05d50c"/><polygon points="145.2,186.3 151.6,182.6 146.2,176.4 139.8,180.2" fill="#05dd08"/><polygon points="133.3,183.8 139.8,180.2 134.5,173.4 128,177.1" fill="#0be604"/><polygon points="92.3,164.4 99,161.1 93.7,153.3 87.1,156.6" fill="#a7ef00"/><polygon points="198,205.1 204.3,202.7 198.8,194.7 192.5,197.2" fill="#0f902b"/><polygon points="121.4,180.5 128,177.1 122.7,169.7 116.1,173.1" fill="#20eb02"/><polygon points="80.4,160 87.1,156.6 81.9,148.5 75.2,151.9" fill="#d2f000"/><polygon points="109.5,176.5 116.1,173.1 110.8,165.5 104.2,168.8" fill="#43ed00"/><polygon points="186.2,200.1 192.5,197.2 187,190.3 180.7,193.3" fill="#0cab20"/><polygon points="174.4,196.5 180.7,193.3 175.2,187.1 168.9,190.5" fill="#07be16"/><polygon points="162.5,194 168.9,190.5 163.4,184.7 157,188.3" fill="#05ca10"/><polygon points="97.6,172.1 104.2,168.8 99,161.1 92.3,164.4" fill="#73ec00"/><polygon points="150.6,192 157,188.3 151.6,182.6 145.2,186.3" fill="#05d20d"/><polygon points="138.7,189.9 145.2,186.3 139.8,180.2 133.3,183.8" fill="#05db09"/><polygon points="126.8,187.3 133.3,183.8 128,177.1 121.4,180.5" fill="#09e505"/><polygon points="85.6,167.8 92.3,164.4 87.1,156.6 80.4,160" fill="#a3ef00"/><polygon points="114.8,183.8 121.4,180.5 116.1,173.1 109.5,176.5" fill="#1eea02"/><polygon points="191.7,207.9 198,205.1 192.5,197.2 186.2,200.1" fill="#0f942a"/><polygon points="102.9,179.8 109.5,176.5 104.2,168.8 97.6,172.1" fill="#40ed00"/><polygon points="179.9,203.3 186.2,200.1 180.7,193.3 174.4,196.5" fill="#0cac1f"/><polygon points="167.9,200 174.4,196.5 168.9,190.5 162.5,194" fill="#07bd17"/><polygon points="156,197.6 162.5,194 157,188.3 150.6,192" fill="#05c811"/><polygon points="144.1,195.5 150.6,192 145.2,186.3 138.7,189.9" fill="#05cf0e"/><polygon points="90.9,175.5 97.6,172.1 92.3,164.4 85.6,167.8" fill="#70ec00"/><polygon points="132.1,193.3 138.7,189.9 133.3,183.8 126.8,187.3" fill="#05d90a"/><polygon points="120.2,190.6 126.8,187.3 121.4,180.5 114.8,183.8" fill="#07e505"/><polygon points="108.2,187.2 114.8,183.8 109.5,176.5 102.9,179.8" fill="#1dea02"/><polygon points="185.4,211 191.7,207.9 186.2,200.1 179.9,203.3" fill="#0f9529"/><polygon points="96.2,183.2 102.9,179.8 97.6,172.1 90.9,175.5" fill="#3ded00"/><polygon points="173.5,206.7 179.9,203.3 174.4,196.5 167.9,200" fill="#0cab20"/><polygon points="161.5,203.6 167.9,200 162.5,194 156,197.6" fill="#08ba18"/><polygon points="149.5,201.1 156,197.6 150.6,192 144.1,195.5" fill="#05c612"/><polygon points="137.5,198.9 144.1,195.5 138.7,189.9 132.1,193.3" fill="#05ce0e"/><polygon points="125.5,196.6 132.1,193.3 126.8,187.3 120.2,190.6" fill="#05d80a"/><polygon points="113.5,193.9 120.2,190.6 114.8,183.8 108.2,187.2" fill="#06e405"/><polygon points="101.5,190.5 108.2,187.2 102.9,179.8 96.2,183.2" fill="#1cea02"/><polygon points="179,214.4 185.4,211 179.9,203.3 173.5,206.7" fill="#0f9529"/><polygon points="167,210.2 173.5,206.7 167.9,200 161.5,203.6" fill="#0ca920"/><polygon points="155,207 161.5,203.6 156,197.6 149.5,201.1" fill="#08b819"/><polygon points="143,204.4 149.5,201.1 144.1,195.5 137.5,198.9" fill="#05c513"/><polygon points="130.9,202.1 137.5,198.9 132.1,193.3 125.5,196.6" fill="#05ce0f"/><polygon points="118.9,199.8 125.5,196.6 120.2,190.6 113.5,193.9" fill="#05d80a"/><polygon points="106.8,197.2 113.5,193.9 108.2,187.2 101.5,190.5" fill="#05e405"/><polygon points="172.5,217.9 179,214.4 173.5,206.7 167,210.2" fill="#0f942a"/><polygon points="160.5,213.6 167,210.2 161.5,203.6 155,207" fill="#0da821"/><polygon points="148.4,210.2 155,207 149.5,201.1 143,204.4" fill="#09b819"/><polygon points="136.4,207.5 143,204.4 137.5,198.9 130.9,202.1" fill="#05c513"/><polygon points="124.3,205.2 130.9,202.1 125.5,196.6 118.9,199.8" fill="#05ce0f"/><polygon points="112.2,203.1 118.9,199.8 113.5,193.9 106.8,197.2" fill="#05d70a"/><polygon points="166,221.2 172.5,217.9 167,210.2 160.5,213.6" fill="#0f932a"/><polygon points="153.9,216.7 160.5,213.6 155,207 148.4,210.2" fill="#0da821"/><polygon points="141.8,213.3 148.4,210.2 143,204.4 136.4,207.5" fill="#08b919"/><polygon points="129.7,210.6 136.4,207.5 130.9,202.1 124.3,205.2" fill="#05c612"/><polygon points="117.6,208.4 124.3,205.2 118.9,199.8 112.2,203.1" fill="#05ce0e"/><polygon points="159.5,224.3 166,221.2 160.5,213.6 153.9,216.7" fill="#0f942a"/><polygon points="147.3,219.7 153.9,216.7 148.4,210.2 141.8,213.3" fill="#0ca920"/><polygon points="135.2,216.3 141.8,213.3 136.4,207.5 129.7,210.6" fill="#08ba18"/><polygon points="123,213.7 129.7,210.6 124.3,205.2 117.6,208.4" fill="#05c712"/><polygon points="152.9,227.3 159.5,224.3 153.9,216.7 147.3,219.7" fill="#0f9629"/><polygon points="140.7,222.7 147.3,219.7 141.8,213.3 135.2,216.3" fill="#0cac1f"/><polygon points="128.5,219.3 135.2,216.3 129.7,210.6 123,213.7" fill="#07bc17"/><polygon points="146.2,230.1 152.9,227.3 147.3,219.7 140.7,222.7" fill="#0f9828"/><polygon points="134,225.6 140.7,222.7 135.2,216.3 128.5,219.3" fill="#0baf1e"/><polygon points="139.5,233 146.2,230.1 140.7,222.7 134,225.6" fill="#0f9b27"/></g><g><line x1="318.6" y1="180.7" x2="313.5" y2="55.2" stroke="#e1e1e1" stroke-width="0.8"/><line x1="409.6" y1="250" x2="318.6" y2="180.7" stroke="#e1e1e1" stroke-width="0.8"/><line x1="332.9" y1="174.2" x2="328.7" y2="49.3" stroke="#e1e1e1" stroke-width="0.8"/><line x1="424.2" y1="242.4" x2="332.9" y2="174.2" stroke="#e1e1e1" stroke-width="0.8"/><line x1="347" y1="167.8" x2="343.6" y2="43.5" stroke="#e1e1e1" stroke-width="0.8"/><line x1="438.6" y1="234.9" x2="347" y2="167.8" stroke="#e1e1e1" stroke-width="0.8"/><line x1="360.8" y1="161.4" x2="358.3" y2="37.8" stroke="#e1e1e1" stroke-width="0.8"/><line x1="452.7" y1="227.6" x2="360.8" y2="161.4" stroke="#e1e1e1" stroke-width="0.8"/><line x1="374.5" y1="155.2" x2="372.8" y2="32.2" stroke="#e1e1e1" stroke-width="0.8"/><line x1="466.6" y1="220.3" x2="374.5" y2="155.2" stroke="#e1e1e1" stroke-width="0.8"/><line x1="387.9" y1="149.1" x2="387" y2="26.7" stroke="#e1e1e1" stroke-width="0.8"/><line x1="480.2" y1="213.2" x2="387.9" y2="149.1" stroke="#e1e1e1" stroke-width="0.8"/><line x1="401.1" y1="143" x2="401" y2="21.3" stroke="#e1e1e1" stroke-width="0.8"/><line x1="493.7" y1="206.2" x2="401.1" y2="143" stroke="#e1e1e1" stroke-width="0.8"/><line x1="414.2" y1="137.1" x2="414.7" y2="16" stroke="#e1e1e1" stroke-width="0.8"/><line x1="506.9" y1="199.3" x2="414.2" y2="137.1" stroke="#e1e1e1" stroke-width="0.8"/><line x1="427" y1="131.2" x2="428.3" y2="10.7" stroke="#e1e1e1" stroke-width="0.8"/><line x1="519.9" y1="192.6" x2="427" y2="131.2" stroke="#e1e1e1" stroke-width="0.8"/><line x1="519.9" y1="192.6" x2="526.9" y2="66.7" stroke="#e1e1e1" stroke-width="0.8"/><line x1="409.6" y1="250" x2="519.9" y2="192.6" stroke="#e1e1e1" stroke-width="0.8"/><line x1="510" y1="186" x2="516.4" y2="60.7" stroke="#e1e1e1" stroke-width="0.8"/><line x1="399.9" y1="242.6" x2="510" y2="186" stroke="#e1e1e1" stroke-width="0.8"/><line x1="500.3" y1="179.6" x2="506" y2="54.9" stroke="#e1e1e1" stroke-width="0.8"/><line x1="390.3" y1="235.3" x2="500.3" y2="179.6" stroke="#e1e1e1" stroke-width="0.8"/><line x1="490.7" y1="173.3" x2="495.8" y2="49.1" stroke="#e1e1e1" stroke-width="0.8"/><line x1="380.9" y1="228.2" x2="490.7" y2="173.3" stroke="#e1e1e1" stroke-width="0.8"/><line x1="481.2" y1="167" x2="485.7" y2="43.3" stroke="#e1e1e1" stroke-width="0.8"/><line x1="371.6" y1="221.1" x2="481.2" y2="167" stroke="#e1e1e1" stroke-width="0.8"/><line x1="471.9" y1="160.8" x2="475.8" y2="37.7" stroke="#e1e1e1" stroke-width="0.8"/><line x1="362.4" y1="214.1" x2="471.9" y2="160.8" stroke="#e1e1e1" stroke-width="0.8"/><line x1="462.6" y1="154.7" x2="466" y2="32.1" stroke="#e1e1e1" stroke-width="0.8"/><line x1="353.4" y1="207.2" x2="462.6" y2="154.7" stroke="#e1e1e1" stroke-width="0.8"/><line x1="453.5" y1="148.7" x2="456.4" y2="26.7" stroke="#e1e1e1" stroke-width="0.8"/><line x1="344.5" y1="200.5" x2="453.5" y2="148.7" stroke="#e1e1e1" stroke-width="0.8"/><line x1="444.6" y1="142.8" x2="446.9" y2="21.3" stroke="#e1e1e1" stroke-width="0.8"/><line x1="335.8" y1="193.8" x2="444.6" y2="142.8" stroke="#e1e1e1" stroke-width="0.8"/><line x1="435.7" y1="137" x2="437.5" y2="16" stroke="#e1e1e1" stroke-width="0.8"/><line x1="327.1" y1="187.2" x2="435.7" y2="137" stroke="#e1e1e1" stroke-width="0.8"/><line x1="427" y1="131.2" x2="428.3" y2="10.7" stroke="#e1e1e1" stroke-width="0.8"/><line x1="318.6" y1="180.7" x2="427" y2="131.2" stroke="#e1e1e1" stroke-width="0.8"/><line x1="318.6" y1="180.7" x2="427" y2="131.2" stroke="#e1e1e1" stroke-width="0.8"/><line x1="427" y1="131.2" x2="519.9" y2="192.6" stroke="#e1e1e1" stroke-width="0.8"/><line x1="318" y1="165.8" x2="427.2" y2="116.8" stroke="#e1e1e1" stroke-width="0.8"/><line x1="427.2" y1="116.8" x2="520.7" y2="177.6" stroke="#e1e1e1" stroke-width="0.8"/><line x1="317.4" y1="150.7" x2="427.3" y2="102.3" stroke="#e1e1e1" stroke-width="0.8"/><line x1="427.3" y1="102.3" x2="521.6" y2="162.5" stroke="#e1e1e1" stroke-width="0.8"/><line x1="316.8" y1="135.3" x2="427.5" y2="87.5" stroke="#e1e1e1" stroke-width="0.8"/><line x1="427.5" y1="87.5" x2="522.4" y2="147.1" stroke="#e1e1e1" stroke-width="0.8"/><line x1="316.1" y1="119.8" x2="427.6" y2="72.6" stroke="#e1e1e1" stroke-width="0.8"/><line x1="427.6" y1="72.6" x2="523.3" y2="131.5" stroke="#e1e1e1" stroke-width="0.8"/><line x1="315.5" y1="104" x2="427.8" y2="57.4" stroke="#e1e1e1" stroke-width="0.8"/><line x1="427.8" y1="57.4" x2="524.2" y2="115.7" stroke="#e1e1e1" stroke-width="0.8"/><line x1="314.8" y1="87.9" x2="428" y2="42.1" stroke="#e1e1e1" stroke-width="0.8"/><line x1="428" y1="42.1" x2="525.1" y2="99.6" stroke="#e1e1e1" stroke-width="0.8"/><line x1="314.2" y1="71.7" x2="428.1" y2="26.5" stroke="#e1e1e1" stroke-width="0.8"/><line x1="428.1" y1="26.5" x2="526" y2="83.3" stroke="#e1e1e1" stroke-width="0.8"/><line x1="313.5" y1="55.2" x2="428.3" y2="10.7" stroke="#e1e1e1" stroke-width="0.8"/><line x1="428.3" y1="10.7" x2="526.9" y2="66.7" stroke="#e1e1e1" stroke-width="0.8"/><line x1="519.9" y1="192.6" x2="526.9" y2="66.7" stroke="#e1e1e1" stroke-width="0.8"/></g><g><line x1="318.6" y1="180.7" x2="313.5" y2="55.2" stroke="#1a1a1a" stroke-width="0.9"/><line x1="318.6" y1="180.7" x2="409.6" y2="250" stroke="#1a1a1a" stroke-width="0.9"/><line x1="409.6" y1="250" x2="519.9" y2="192.6" stroke="#1a1a1a" stroke-width="0.9"/><line x1="318.6" y1="180.7" x2="317.1" y2="181.4" stroke="#1a1a1a" stroke-width="0.55"/><line x1="318.5" y1="177.8" x2="317" y2="178.5" stroke="#1a1a1a" stroke-width="0.55"/><line x1="318.4" y1="174.8" x2="316.9" y2="175.5" stroke="#1a1a1a" stroke-width="0.55"/><line x1="318.2" y1="171.8" x2="316.7" y2="172.5" stroke="#1a1a1a" stroke-width="0.55"/><line x1="318.1" y1="168.8" x2="316.6" y2="169.5" stroke="#1a1a1a" stroke-width="0.55"/><line x1="318" y1="165.8" x2="316.5" y2="166.5" stroke="#1a1a1a" stroke-width="0.55"/><line x1="317.9" y1="162.8" x2="316.4" y2="163.5" stroke="#1a1a1a" stroke-width="0.55"/><line x1="317.8" y1="159.8" x2="316.2" y2="160.5" stroke="#1a1a1a" stroke-width="0.55"/><line x1="317.6" y1="156.8" x2="316.1" y2="157.4" stroke="#1a1a1a" stroke-width="0.55"/><line x1="317.5" y1="153.7" x2="316" y2="154.4" stroke="#1a1a1a" stroke-width="0.55"/><line x1="317.4" y1="150.7" x2="315.9" y2="151.4" stroke="#1a1a1a" stroke-width="0.55"/><line x1="317.3" y1="147.6" x2="315.7" y2="148.3" stroke="#1a1a1a" stroke-width="0.55"/><line x1="317.1" y1="144.6" x2="315.6" y2="145.2" stroke="#1a1a1a" stroke-width="0.55"/><line x1="317" y1="141.5" x2="315.5" y2="142.2" stroke="#1a1a1a" stroke-width="0.55"/><line x1="316.9" y1="138.4" x2="315.4" y2="139.1" stroke="#1a1a1a" stroke-width="0.55"/><line x1="316.8" y1="135.3" x2="315.2" y2="136" stroke="#1a1a1a" stroke-width="0.55"/><line x1="316.6" y1="132.2" x2="315.1" y2="132.9" stroke="#1a1a1a" stroke-width="0.55"/><line x1="316.5" y1="129.1" x2="315" y2="129.8" stroke="#1a1a1a" stroke-width="0.55"/><line x1="316.4" y1="126" x2="314.8" y2="126.7" stroke="#1a1a1a" stroke-width="0.55"/><line x1="316.3" y1="122.9" x2="314.7" y2="123.6" stroke="#1a1a1a" stroke-width="0.55"/><line x1="316.1" y1="119.8" x2="314.6" y2="120.4" stroke="#1a1a1a" stroke-width="0.55"/><line x1="316" y1="116.6" x2="314.4" y2="117.3" stroke="#1a1a1a" stroke-width="0.55"/><line x1="315.9" y1="113.5" x2="314.3" y2="114.1" stroke="#1a1a1a" stroke-width="0.55"/><line x1="315.7" y1="110.3" x2="314.2" y2="111" stroke="#1a1a1a" stroke-width="0.55"/><line x1="315.6" y1="107.2" x2="314.1" y2="107.8" stroke="#1a1a1a" stroke-width="0.55"/><line x1="315.5" y1="104" x2="313.9" y2="104.6" stroke="#1a1a1a" stroke-width="0.55"/><line x1="315.4" y1="100.8" x2="313.8" y2="101.4" stroke="#1a1a1a" stroke-width="0.55"/><line x1="315.2" y1="97.6" x2="313.7" y2="98.2" stroke="#1a1a1a" stroke-width="0.55"/><line x1="315.1" y1="94.4" x2="313.5" y2="95" stroke="#1a1a1a" stroke-width="0.55"/><line x1="315" y1="91.2" x2="313.4" y2="91.8" stroke="#1a1a1a" stroke-width="0.55"/><line x1="314.8" y1="87.9" x2="313.3" y2="88.6" stroke="#1a1a1a" stroke-width="0.55"/><line x1="314.7" y1="84.7" x2="313.1" y2="85.3" stroke="#1a1a1a" stroke-width="0.55"/><line x1="314.6" y1="81.5" x2="313" y2="82.1" stroke="#1a1a1a" stroke-width="0.55"/><line x1="314.4" y1="78.2" x2="312.9" y2="78.8" stroke="#1a1a1a" stroke-width="0.55"/><line x1="314.3" y1="74.9" x2="312.7" y2="75.6" stroke="#1a1a1a" stroke-width="0.55"/><line x1="314.2" y1="71.7" x2="312.6" y2="72.3" stroke="#1a1a1a" stroke-width="0.55"/><line x1="314" y1="68.4" x2="312.4" y2="69" stroke="#1a1a1a" stroke-width="0.55"/><line x1="313.9" y1="65.1" x2="312.3" y2="65.7" stroke="#1a1a1a" stroke-width="0.55"/><line x1="313.8" y1="61.8" x2="312.2" y2="62.4" stroke="#1a1a1a" stroke-width="0.55"/><line x1="313.6" y1="58.5" x2="312" y2="59.1" stroke="#1a1a1a" stroke-width="0.55"/><line x1="313.5" y1="55.2" x2="311.9" y2="55.8" stroke="#1a1a1a" stroke-width="0.55"/><line x1="409.6" y1="250" x2="407.3" y2="251.2" stroke="#1a1a1a" stroke-width="0.7"/><line x1="399.9" y1="242.6" x2="397.6" y2="243.8" stroke="#1a1a1a" stroke-width="0.7"/><line x1="390.3" y1="235.3" x2="388" y2="236.5" stroke="#1a1a1a" stroke-width="0.7"/><line x1="380.9" y1="228.2" x2="378.6" y2="229.3" stroke="#1a1a1a" stroke-width="0.7"/><line x1="371.6" y1="221.1" x2="369.3" y2="222.2" stroke="#1a1a1a" stroke-width="0.7"/><line x1="362.4" y1="214.1" x2="360.2" y2="215.2" stroke="#1a1a1a" stroke-width="0.7"/><line x1="353.4" y1="207.2" x2="351.2" y2="208.3" stroke="#1a1a1a" stroke-width="0.7"/><line x1="344.5" y1="200.5" x2="342.3" y2="201.5" stroke="#1a1a1a" stroke-width="0.7"/><line x1="335.8" y1="193.8" x2="333.5" y2="194.9" stroke="#1a1a1a" stroke-width="0.7"/><line x1="327.1" y1="187.2" x2="324.9" y2="188.3" stroke="#1a1a1a" stroke-width="0.7"/><line x1="318.6" y1="180.7" x2="316.4" y2="181.8" stroke="#1a1a1a" stroke-width="0.7"/><line x1="409.6" y1="250" x2="411.5" y2="251.5" stroke="#1a1a1a" stroke-width="0.7"/><line x1="424.2" y1="242.4" x2="426.1" y2="243.8" stroke="#1a1a1a" stroke-width="0.7"/><line x1="438.6" y1="234.9" x2="440.5" y2="236.3" stroke="#1a1a1a" stroke-width="0.7"/><line x1="452.7" y1="227.6" x2="454.6" y2="229" stroke="#1a1a1a" stroke-width="0.7"/><line x1="466.6" y1="220.3" x2="468.5" y2="221.7" stroke="#1a1a1a" stroke-width="0.7"/><line x1="480.2" y1="213.2" x2="482.2" y2="214.6" stroke="#1a1a1a" stroke-width="0.7"/><line x1="493.7" y1="206.2" x2="495.6" y2="207.5" stroke="#1a1a1a" stroke-width="0.7"/><line x1="506.9" y1="199.3" x2="508.8" y2="200.6" stroke="#1a1a1a" stroke-width="0.7"/><line x1="519.9" y1="192.6" x2="521.8" y2="193.8" stroke="#1a1a1a" stroke-width="0.7"/></g><g><text transform="matrix(0.969,-0.246,0.000,1.000,311.9,170.1)" font-family="Liberation Sans, sans-serif" font-size="7.9" font-weight="normal" fill="#333" text-anchor="end" dominant-baseline="central">1.0</text><text transform="matrix(0.969,-0.246,0.000,1.000,311.3,155)" font-family="Liberation Sans, sans-serif" font-size="7.9" font-weight="normal" fill="#333" text-anchor="end" dominant-baseline="central">1.5</text><text transform="matrix(0.969,-0.246,0.000,1.000,310.6,139.6)" font-family="Liberation Sans, sans-serif" font-size="7.9" font-weight="normal" fill="#333" text-anchor="end" dominant-baseline="central">2.0</text><text transform="matrix(0.969,-0.246,0.000,1.000,310,124)" font-family="Liberation Sans, sans-serif" font-size="7.9" font-weight="normal" fill="#333" text-anchor="end" dominant-baseline="central">2.5</text><text transform="matrix(0.969,-0.246,0.000,1.000,309.3,108.2)" font-family="Liberation Sans, sans-serif" font-size="7.9" font-weight="normal" fill="#333" text-anchor="end" dominant-baseline="central">3.0</text><text transform="matrix(0.969,-0.246,0.000,1.000,308.6,92.2)" font-family="Liberation Sans, sans-serif" font-size="7.9" font-weight="normal" fill="#333" text-anchor="end" dominant-baseline="central">3.5</text><text transform="matrix(0.969,-0.246,0.000,1.000,307.9,75.9)" font-family="Liberation Sans, sans-serif" font-size="7.9" font-weight="normal" fill="#333" text-anchor="end" dominant-baseline="central">4.0</text><text transform="matrix(0.969,-0.246,0.000,1.000,307.2,59.3)" font-family="Liberation Sans, sans-serif" font-size="7.9" font-weight="normal" fill="#333" text-anchor="end" dominant-baseline="central">4.5</text><text transform="matrix(0.887,-0.462,0.621,0.472,404.3,252.8)" font-family="Liberation Sans, sans-serif" font-size="8.4" font-weight="normal" fill="#333" text-anchor="end" dominant-baseline="central">0.15</text><text transform="matrix(0.889,-0.457,0.621,0.472,394.6,245.3)" font-family="Liberation Sans, sans-serif" font-size="8.4" font-weight="normal" fill="#333" text-anchor="end" dominant-baseline="central">0.20</text><text transform="matrix(0.892,-0.452,0.621,0.472,385,238)" font-family="Liberation Sans, sans-serif" font-size="8.4" font-weight="normal" fill="#333" text-anchor="end" dominant-baseline="central">0.25</text><text transform="matrix(0.894,-0.447,0.621,0.472,375.6,230.8)" font-family="Liberation Sans, sans-serif" font-size="8.4" font-weight="normal" fill="#333" text-anchor="end" dominant-baseline="central">0.30</text><text transform="matrix(0.897,-0.443,0.621,0.472,366.3,223.7)" font-family="Liberation Sans, sans-serif" font-size="8.4" font-weight="normal" fill="#333" text-anchor="end" dominant-baseline="central">0.35</text><text transform="matrix(0.899,-0.438,0.621,0.472,357.2,216.7)" font-family="Liberation Sans, sans-serif" font-size="8.4" font-weight="normal" fill="#333" text-anchor="end" dominant-baseline="central">0.40</text><text transform="matrix(0.901,-0.433,0.621,0.472,348.2,209.8)" font-family="Liberation Sans, sans-serif" font-size="8.4" font-weight="normal" fill="#333" text-anchor="end" dominant-baseline="central">0.45</text><text transform="matrix(0.903,-0.429,0.621,0.472,339.3,203)" font-family="Liberation Sans, sans-serif" font-size="8.4" font-weight="normal" fill="#333" text-anchor="end" dominant-baseline="central">0.50</text><text transform="matrix(0.905,-0.424,0.621,0.472,330.5,196.2)" font-family="Liberation Sans, sans-serif" font-size="8.4" font-weight="normal" fill="#333" text-anchor="end" dominant-baseline="central">0.55</text><text transform="matrix(0.908,-0.420,0.621,0.472,321.9,189.6)" font-family="Liberation Sans, sans-serif" font-size="8.4" font-weight="normal" fill="#333" text-anchor="end" dominant-baseline="central">0.60</text><text transform="matrix(0.910,-0.416,0.621,0.472,313.4,183.1)" font-family="Liberation Sans, sans-serif" font-size="8.4" font-weight="normal" fill="#333" text-anchor="end" dominant-baseline="central">0.65</text><text transform="matrix(0.796,0.606,-0.665,0.347,415,254.1)" font-family="Liberation Sans, sans-serif" font-size="8.4" font-weight="normal" fill="#333" text-anchor="start" dominant-baseline="central">80</text><text transform="matrix(0.801,0.598,-0.665,0.347,429.6,246.5)" font-family="Liberation Sans, sans-serif" font-size="8.4" font-weight="normal" fill="#333" text-anchor="start" dominant-baseline="central">90</text><text transform="matrix(0.806,0.591,-0.665,0.347,444,238.9)" font-family="Liberation Sans, sans-serif" font-size="8.4" font-weight="normal" fill="#333" text-anchor="start" dominant-baseline="central">100</text><text transform="matrix(0.812,0.584,-0.665,0.347,458.1,231.5)" font-family="Liberation Sans, sans-serif" font-size="8.4" font-weight="normal" fill="#333" text-anchor="start" dominant-baseline="central">110</text><text transform="matrix(0.816,0.577,-0.665,0.347,472,224.2)" font-family="Liberation Sans, sans-serif" font-size="8.4" font-weight="normal" fill="#333" text-anchor="start" dominant-baseline="central">120</text><text transform="matrix(0.821,0.571,-0.665,0.347,485.7,217)" font-family="Liberation Sans, sans-serif" font-size="8.4" font-weight="normal" fill="#333" text-anchor="start" dominant-baseline="central">130</text><text transform="matrix(0.826,0.564,-0.665,0.347,499.1,210)" font-family="Liberation Sans, sans-serif" font-size="8.4" font-weight="normal" fill="#333" text-anchor="start" dominant-baseline="central">140</text><text transform="matrix(0.830,0.558,-0.665,0.347,512.4,203)" font-family="Liberation Sans, sans-serif" font-size="8.4" font-weight="normal" fill="#333" text-anchor="start" dominant-baseline="central">150</text><text transform="matrix(0.834,0.551,-0.665,0.347,525.4,196.2)" font-family="Liberation Sans, sans-serif" font-size="8.4" font-weight="normal" fill="#333" text-anchor="start" dominant-baseline="central">160</text><text transform="matrix(0.796,0.606,-0.854,0.416,329,230)" font-family="Liberation Sans, sans-serif" font-size="8.6" font-weight="bold" fill="#111" text-anchor="middle" dominant-baseline="central">Depth of cut (mm)</text><text transform="matrix(0.887,-0.462,0.776,0.549,487.5,239)" font-family="Liberation Sans, sans-serif" font-size="9.5" font-weight="bold" fill="#111" text-anchor="middle" dominant-baseline="central">Cutting speed (m/min)</text><text transform="matrix(0.050,1.000,-1.000,0.050,287.3,129.5)" font-family="Liberation Sans, sans-serif" font-size="9.3" font-weight="bold" fill="#111" text-anchor="middle" dominant-baseline="central">Surface roughness</text></g><g stroke="#1c1c08" stroke-width="0.6" stroke-linejoin="round"><polygon points="426.7,80.1 432.9,76 427.6,74.1 421.4,78.2" fill="#ec0c0c"/><polygon points="420.5,84.3 426.7,80.1 421.4,78.2 415.2,82.2" fill="#ff8a10" stroke="none"/><polygon points="420.5,84.3 426.7,80.1 421.4,78.2 420.2,79 419.1,83.8" fill="#ec0c0c" stroke="none"/><polygon points="420.5,84.3 426.7,80.1 421.4,78.2 415.2,82.2" fill="none"/><polygon points="432,82.9 438.2,78.7 432.9,76 426.7,80.1" fill="#ec0c0c" stroke="none"/><polygon points="434.1,81.5 438.2,78.7 434.9,77" fill="#b4000f" stroke="none"/><polygon points="432,82.9 438.2,78.7 432.9,76 426.7,80.1" fill="none"/><polygon points="414.2,88.7 420.5,84.3 415.2,82.2 408.9,86.4" fill="#ff8a10" stroke="none"/><polygon points="418.6,85.6 420.5,84.3 419.1,83.8" fill="#ec0c0c" stroke="none"/><polygon points="414.2,88.7 420.5,84.3 415.2,82.2 408.9,86.4" fill="none"/><polygon points="425.7,87.1 432,82.9 426.7,80.1 420.5,84.3" fill="#ec0c0c"/><polygon points="437.3,85.9 443.6,81.7 438.2,78.7 432,82.9" fill="#ec0c0c" stroke="none"/><polygon points="437.3,85.9 443.6,81.7 438.2,78.7 434.1,81.5 433.5,83.7" fill="#b4000f" stroke="none"/><polygon points="437.3,85.9 443.6,81.7 438.2,78.7 432,82.9" fill="none"/><polygon points="407.9,93.3 414.2,88.7 408.9,86.4 402.6,90.8" fill="#f0f00f" stroke="none"/><polygon points="407.9,93.3 414.2,88.7 408.9,86.4 406.5,88.1 405.9,92.4" fill="#ff8a10" stroke="none"/><polygon points="407.9,93.3 414.2,88.7 408.9,86.4 402.6,90.8" fill="none"/><polygon points="419.5,91.6 425.7,87.1 420.5,84.3 414.2,88.7" fill="#ff8a10" stroke="none"/><polygon points="419.5,91.6 425.7,87.1 420.5,84.3 418.6,85.6 417,90.2" fill="#ec0c0c" stroke="none"/><polygon points="419.5,91.6 425.7,87.1 420.5,84.3 414.2,88.7" fill="none"/><polygon points="401.5,98.4 407.9,93.3 402.6,90.8 396.3,95.7" fill="#f0f00f" stroke="none"/><polygon points="405.6,95.1 407.9,93.3 405.9,92.4" fill="#ff8a10" stroke="none"/><polygon points="401.5,98.4 407.9,93.3 402.6,90.8 396.3,95.7" fill="none"/><polygon points="431.1,90.2 437.3,85.9 432,82.9 425.7,87.1" fill="#ec0c0c" stroke="none"/><polygon points="432,89.5 437.3,85.9 433.5,83.7" fill="#b4000f" stroke="none"/><polygon points="431.1,90.2 437.3,85.9 432,82.9 425.7,87.1" fill="none"/><polygon points="442.7,88.7 449,84.5 443.6,81.7 437.3,85.9" fill="#b4000f"/><polygon points="413.1,96.3 419.5,91.6 414.2,88.7 407.9,93.3" fill="#ff8a10" stroke="none"/><polygon points="415.5,94.5 419.5,91.6 417,90.2" fill="#ec0c0c" stroke="none"/><polygon points="413.1,96.3 419.5,91.6 414.2,88.7 407.9,93.3" fill="none"/><polygon points="395.1,103.6 401.5,98.4 396.3,95.7 389.9,100.7" fill="#2ee02a" stroke="none"/><polygon points="395.1,103.6 401.5,98.4 396.3,95.7 396,95.9 394.1,103" fill="#f0f00f" stroke="none"/><polygon points="395.1,103.6 401.5,98.4 396.3,95.7 389.9,100.7" fill="none"/><polygon points="424.8,94.6 431.1,90.2 425.7,87.1 419.5,91.6" fill="#ec0c0c"/><polygon points="406.8,101.5 413.1,96.3 407.9,93.3 401.5,98.4" fill="#f0f00f" stroke="none"/><polygon points="406.8,101.5 413.1,96.3 407.9,93.3 405.6,95.1 404.2,100" fill="#ff8a10" stroke="none"/><polygon points="406.8,101.5 413.1,96.3 407.9,93.3 401.5,98.4" fill="none"/><polygon points="436.5,93 442.7,88.7 437.3,85.9 431.1,90.2" fill="#ec0c0c" stroke="none"/><polygon points="436.5,93 442.7,88.7 437.3,85.9 432,89.5 432.1,90.7" fill="#b4000f" stroke="none"/><polygon points="436.5,93 442.7,88.7 437.3,85.9 431.1,90.2" fill="none"/><polygon points="388.7,108.7 395.1,103.6 389.9,100.7 383.5,105.6" fill="#2ee02a" stroke="none"/><polygon points="393.2,105.1 395.1,103.6 394.1,103" fill="#f0f00f" stroke="none"/><polygon points="388.7,108.7 395.1,103.6 389.9,100.7 383.5,105.6" fill="none"/><polygon points="448.2,91.3 454.4,87.1 449,84.5 442.7,88.7" fill="#b4000f"/><polygon points="418.4,99.4 424.8,94.6 419.5,91.6 413.1,96.3" fill="#ff8a10" stroke="none"/><polygon points="418.4,99.4 424.8,94.6 419.5,91.6 415.5,94.5 414.9,97.3" fill="#ec0c0c" stroke="none"/><polygon points="418.4,99.4 424.8,94.6 419.5,91.6 413.1,96.3" fill="none"/><polygon points="400.4,106.9 406.8,101.5 401.5,98.4 395.1,103.6" fill="#f0f00f" stroke="none"/><polygon points="402,105.5 406.8,101.5 404.2,100" fill="#ff8a10" stroke="none"/><polygon points="400.4,106.9 406.8,101.5 401.5,98.4 395.1,103.6" fill="none"/><polygon points="430.2,97.4 436.5,93 431.1,90.2 424.8,94.6" fill="#ec0c0c" stroke="none"/><polygon points="432.2,96 436.5,93 432.1,90.7" fill="#b4000f" stroke="none"/><polygon points="430.2,97.4 436.5,93 431.1,90.2 424.8,94.6" fill="none"/><polygon points="382.3,113.5 388.7,108.7 383.5,105.6 377.1,110" fill="#2ee02a"/><polygon points="412.1,104.7 418.4,99.4 413.1,96.3 406.8,101.5" fill="#ff8a10" stroke="none"/><polygon points="412.9,104 418.4,99.4 414.9,97.3" fill="#ec0c0c" stroke="none"/><polygon points="412.1,104.7 418.4,99.4 413.1,96.3 406.8,101.5" fill="none"/><polygon points="441.9,95.6 448.2,91.3 442.7,88.7 436.5,93" fill="#b4000f"/><polygon points="394,112.2 400.4,106.9 395.1,103.6 388.7,108.7" fill="#2ee02a" stroke="none"/><polygon points="394,112.2 400.4,106.9 395.1,103.6 393.2,105.1 390.6,110" fill="#f0f00f" stroke="none"/><polygon points="394,112.2 400.4,106.9 395.1,103.6 388.7,108.7" fill="none"/><polygon points="423.8,102.2 430.2,97.4 424.8,94.6 418.4,99.4" fill="#ec0c0c"/><polygon points="453.7,93.8 459.9,89.6 454.4,87.1 448.2,91.3" fill="#b4000f"/><polygon points="375.8,117.6 382.3,113.5 377.1,110 370.6,113.9" fill="#2ee02a"/><polygon points="405.7,110.2 412.1,104.7 406.8,101.5 400.4,106.9" fill="#f0f00f" stroke="none"/><polygon points="405.7,110.2 412.1,104.7 406.8,101.5 402,105.5 401.3,107.5" fill="#ff8a10" stroke="none"/><polygon points="405.7,110.2 412.1,104.7 406.8,101.5 400.4,106.9" fill="none"/><polygon points="435.6,100 441.9,95.6 436.5,93 430.2,97.4" fill="#ec0c0c" stroke="none"/><polygon points="435.6,100 441.9,95.6 436.5,93 432.2,96 433.5,99" fill="#b4000f" stroke="none"/><polygon points="435.6,100 441.9,95.6 436.5,93 430.2,97.4" fill="none"/><polygon points="387.5,117.2 394,112.2 388.7,108.7 382.3,113.5" fill="#2ee02a" stroke="none"/><polygon points="389.1,116 394,112.2 390.6,110" fill="#f0f00f" stroke="none"/><polygon points="387.5,117.2 394,112.2 388.7,108.7 382.3,113.5" fill="none"/><polygon points="417.4,107.6 423.8,102.2 418.4,99.4 412.1,104.7" fill="#ff8a10" stroke="none"/><polygon points="417.4,107.6 423.8,102.2 418.4,99.4 412.9,104 412.8,105.1" fill="#ec0c0c" stroke="none"/><polygon points="417.4,107.6 423.8,102.2 418.4,99.4 412.1,104.7" fill="none"/><polygon points="447.4,98.1 453.7,93.8 448.2,91.3 441.9,95.6" fill="#b4000f"/><polygon points="399.2,115.9 405.7,110.2 400.4,106.9 394,112.2" fill="#f0f00f" stroke="none"/><polygon points="399.2,115.9 405.7,110.2 401.3,107.5 398.7,115.5" fill="#ff8a10" stroke="none"/><polygon points="399.2,115.9 405.7,110.2 400.4,106.9 394,112.2" fill="none"/><polygon points="369.2,120.6 375.8,117.6 370.6,113.9 364.1,116.6" fill="#2ee02a"/><polygon points="429.2,104.9 435.6,100 430.2,97.4 423.8,102.2" fill="#ec0c0c" stroke="none"/><polygon points="434.3,101 435.6,100 433.5,99" fill="#b4000f" stroke="none"/><polygon points="429.2,104.9 435.6,100 430.2,97.4 423.8,102.2" fill="none"/><polygon points="459.2,96.4 465.5,92.2 459.9,89.6 453.7,93.8" fill="#b4000f"/><polygon points="381,121.7 387.5,117.2 382.3,113.5 375.8,117.6" fill="#2ee02a"/><polygon points="411,113.5 417.4,107.6 412.1,104.7 405.7,110.2" fill="#ff8a10" stroke="none"/><polygon points="411,113.5 417.4,107.6 412.8,105.1 410.5,113.2" fill="#ec0c0c" stroke="none"/><polygon points="411,113.5 417.4,107.6 412.1,104.7 405.7,110.2" fill="none"/><polygon points="392.8,121.2 399.2,115.9 394,112.2 387.5,117.2" fill="#2ee02a" stroke="none"/><polygon points="392.8,121.2 399.2,115.9 394,112.2 389.1,116 388.5,118" fill="#f0f00f" stroke="none"/><polygon points="398.4,116.5 399.2,115.9 398.7,115.5" fill="#ff8a10" stroke="none"/><polygon points="392.8,121.2 399.2,115.9 394,112.2 387.5,117.2" fill="none"/><polygon points="441.1,102.6 447.4,98.1 441.9,95.6 435.6,100" fill="#b4000f"/><polygon points="422.8,110.5 429.2,104.9 423.8,102.2 417.4,107.6" fill="#ec0c0c"/><polygon points="404.5,119.4 411,113.5 405.7,110.2 399.2,115.9" fill="#ff8a10" stroke="none"/><polygon points="410.3,114.1 411,113.5 410.5,113.2" fill="#ec0c0c" stroke="none"/><polygon points="404.5,119.4 411,113.5 405.7,110.2 399.2,115.9" fill="none"/><polygon points="452.9,100.7 459.2,96.4 453.7,93.8 447.4,98.1" fill="#b4000f"/><polygon points="374.4,124.9 381,121.7 375.8,117.6 369.2,120.6" fill="#12a52c" stroke="none"/><polygon points="375.7,124.3 381,121.7 375.8,117.6 369.2,120.6 371.1,122.1" fill="#2ee02a" stroke="none"/><polygon points="374.4,124.9 381,121.7 375.8,117.6 369.2,120.6" fill="none"/><polygon points="386.2,126 392.8,121.2 387.5,117.2 381,121.7" fill="#2ee02a" stroke="none"/><polygon points="387.1,125.4 392.8,121.2 388.5,118" fill="#f0f00f" stroke="none"/><polygon points="386.2,126 392.8,121.2 387.5,117.2 381,121.7" fill="none"/><polygon points="362.6,120.2 369.2,120.6 364.1,116.6 357.4,115.8" fill="#2ee02a"/><polygon points="434.7,107.6 441.1,102.6 435.6,100 429.2,104.9" fill="#ec0c0c" stroke="none"/><polygon points="437.5,105.4 441.1,102.6 435.6,100 434.3,101" fill="#b4000f" stroke="none"/><polygon points="434.7,107.6 441.1,102.6 435.6,100 429.2,104.9" fill="none"/><polygon points="464.8,99.2 471.1,94.9 465.5,92.2 459.2,96.4" fill="#b4000f"/><polygon points="416.4,116.5 422.8,110.5 417.4,107.6 411,113.5" fill="#ec0c0c"/><polygon points="398.1,125.2 404.5,119.4 399.2,115.9 392.8,121.2" fill="#f0f00f" stroke="none"/><polygon points="398.1,125.2 404.5,119.4 399.2,115.9 398.4,116.5 397,124.3" fill="#ff8a10" stroke="none"/><polygon points="398.1,125.2 404.5,119.4 399.2,115.9 392.8,121.2" fill="none"/><polygon points="446.6,105.3 452.9,100.7 447.4,98.1 441.1,102.6" fill="#b4000f"/><polygon points="428.3,113.3 434.7,107.6 429.2,104.9 422.8,110.5" fill="#ec0c0c"/><polygon points="409.9,122.9 416.4,116.5 411,113.5 404.5,119.4" fill="#ff8a10" stroke="none"/><polygon points="409.9,122.9 416.4,116.5 411,113.5 410.3,114.1 409,122.4" fill="#ec0c0c" stroke="none"/><polygon points="409.9,122.9 416.4,116.5 411,113.5 404.5,119.4" fill="none"/><polygon points="379.7,129.6 386.2,126 381,121.7 374.4,124.9" fill="#12a52c" stroke="none"/><polygon points="379.7,129.6 386.2,126 381,121.7 375.7,124.3 379.6,129.6" fill="#2ee02a" stroke="none"/><polygon points="379.7,129.6 386.2,126 381,121.7 374.4,124.9" fill="none"/><polygon points="458.5,103.6 464.8,99.2 459.2,96.4 452.9,100.7" fill="#b4000f"/><polygon points="367.8,125 374.4,124.9 369.2,120.6 362.6,120.2" fill="#12a52c" stroke="none"/><polygon points="371.1,122.1 369.2,120.6 362.6,120.2 365.2,122.6" fill="#2ee02a" stroke="none"/><polygon points="367.8,125 374.4,124.9 369.2,120.6 362.6,120.2" fill="none"/><polygon points="391.5,130.4 398.1,125.2 392.8,121.2 386.2,126" fill="#2ee02a" stroke="none"/><polygon points="391.5,130.4 398.1,125.2 392.8,121.2 387.1,125.4 386.8,126.5" fill="#f0f00f" stroke="none"/><polygon points="396.4,126.5 398.1,125.2 397,124.3" fill="#ff8a10" stroke="none"/><polygon points="391.5,130.4 398.1,125.2 392.8,121.2 386.2,126" fill="none"/><polygon points="440.2,110.4 446.6,105.3 441.1,102.6 434.7,107.6" fill="#ec0c0c" stroke="none"/><polygon points="441.5,109.3 446.6,105.3 441.1,102.6 437.5,105.4" fill="#b4000f" stroke="none"/><polygon points="440.2,110.4 446.6,105.3 441.1,102.6 434.7,107.6" fill="none"/><polygon points="470.5,102.4 476.8,98.1 471.1,94.9 464.8,99.2" fill="#b4000f"/><polygon points="421.8,119.7 428.3,113.3 422.8,110.5 416.4,116.5" fill="#ec0c0c"/><polygon points="403.4,129.2 409.9,122.9 404.5,119.4 398.1,125.2" fill="#ff8a10" stroke="none"/><polygon points="409,123.8 409.9,122.9 409,122.4" fill="#ec0c0c" stroke="none"/><polygon points="403.4,129.2 409.9,122.9 404.5,119.4 398.1,125.2" fill="none"/><polygon points="355.8,118.5 362.6,120.2 357.4,115.8 350.6,113.7" fill="#2ee02a" stroke="none"/><polygon points="357.4,115.8 350.6,113.7 354.9,117.7" fill="#f0f00f" stroke="none"/><polygon points="355.8,118.5 362.6,120.2 357.4,115.8 350.6,113.7" fill="none"/><polygon points="452.1,108.2 458.5,103.6 452.9,100.7 446.6,105.3" fill="#b4000f"/><polygon points="385,134.5 391.5,130.4 386.2,126 379.7,129.6" fill="#12a52c" stroke="none"/><polygon points="385.3,134.3 391.5,130.4 386.2,126 379.7,129.6 379.7,129.7" fill="#2ee02a" stroke="none"/><polygon points="389.2,131.9 391.5,130.4 386.8,126.5" fill="#f0f00f" stroke="none"/><polygon points="385,134.5 391.5,130.4 386.2,126 379.7,129.6" fill="none"/><polygon points="415.3,126.5 421.8,119.7 416.4,116.5 409.9,122.9" fill="#ec0c0c"/><polygon points="373,130.1 379.7,129.6 374.4,124.9 367.8,125" fill="#12a52c" stroke="none"/><polygon points="379.7,129.6 379.7,129.6 379.6,129.6" fill="#2ee02a" stroke="none"/><polygon points="373,130.1 379.7,129.6 374.4,124.9 367.8,125" fill="none"/><polygon points="433.7,116.3 440.2,110.4 434.7,107.6 428.3,113.3" fill="#ec0c0c"/><polygon points="396.9,135.1 403.4,129.2 398.1,125.2 391.5,130.4" fill="#f0f00f" stroke="none"/><polygon points="398.7,133.4 403.4,129.2 398.1,125.2 396.4,126.5" fill="#ff8a10" stroke="none"/><polygon points="396.9,135.1 403.4,129.2 398.1,125.2 391.5,130.4" fill="none"/><polygon points="464.1,106.8 470.5,102.4 464.8,99.2 458.5,103.6" fill="#b4000f"/><polygon points="476.1,106 482.4,101.6 476.8,98.1 470.5,102.4" fill="#b4000f"/><polygon points="361,123.6 367.8,125 362.6,120.2 355.8,118.5" fill="#12a52c" stroke="none"/><polygon points="361,123.6 361.8,123.8 365.2,122.6 362.6,120.2 355.8,118.5" fill="#2ee02a" stroke="none"/><polygon points="361,123.6 367.8,125 362.6,120.2 355.8,118.5" fill="none"/><polygon points="445.7,113.4 452.1,108.2 446.6,105.3 440.2,110.4" fill="#ec0c0c" stroke="none"/><polygon points="446.5,112.8 452.1,108.2 446.6,105.3 441.5,109.3" fill="#b4000f" stroke="none"/><polygon points="445.7,113.4 452.1,108.2 446.6,105.3 440.2,110.4" fill="none"/><polygon points="408.8,133.4 415.3,126.5 409.9,122.9 403.4,129.2" fill="#ff8a10" stroke="none"/><polygon points="409.3,132.8 415.3,126.5 409.9,122.9 409,123.8" fill="#ec0c0c" stroke="none"/><polygon points="408.8,133.4 415.3,126.5 409.9,122.9 403.4,129.2" fill="none"/><polygon points="427.3,122.9 433.7,116.3 428.3,113.3 421.8,119.7" fill="#ec0c0c"/><polygon points="390.3,139.7 396.9,135.1 391.5,130.4 385,134.5" fill="#12a52c" stroke="none"/><polygon points="390.3,139.7 396.9,135.1 391.5,130.4 385.3,134.3 385.8,135.3" fill="#2ee02a" stroke="none"/><polygon points="392.9,137.9 396.9,135.1 391.5,130.4 389.2,131.9" fill="#f0f00f" stroke="none"/><polygon points="390.3,139.7 396.9,135.1 391.5,130.4 385,134.5" fill="none"/><polygon points="457.8,111.5 464.1,106.8 458.5,103.6 452.1,108.2" fill="#b4000f"/><polygon points="378.3,135.5 385,134.5 379.7,129.6 373,130.1" fill="#12a52c" stroke="none"/><polygon points="379.7,129.7 379.7,129.6 379.7,129.6" fill="#2ee02a" stroke="none"/><polygon points="378.3,135.5 385,134.5 379.7,129.6 373,130.1" fill="none"/><polygon points="349,117.4 355.8,118.5 350.6,113.7 343.8,112.4" fill="#2ee02a" stroke="none"/><polygon points="349,117.4 354.4,118.3 354.9,117.7 350.6,113.7 343.8,112.4" fill="#f0f00f" stroke="none"/><polygon points="349.1,113.4 343.8,112.4 347.5,116" fill="#ff8a10" stroke="none"/><polygon points="345.2,112.7 343.8,112.4 344.8,113.4" fill="#ec0c0c" stroke="none"/><polygon points="349,117.4 355.8,118.5 350.6,113.7 343.8,112.4" fill="none"/><polygon points="402.3,139.8 408.8,133.4 403.4,129.2 396.9,135.1" fill="#f0f00f" stroke="none"/><polygon points="402.9,139.2 408.8,133.4 403.4,129.2 398.7,133.4" fill="#ff8a10" stroke="none"/><polygon points="402.3,139.8 408.8,133.4 403.4,129.2 396.9,135.1" fill="none"/><polygon points="420.8,130.1 427.3,122.9 421.8,119.7 415.3,126.5" fill="#ec0c0c"/><polygon points="439.3,119.4 445.7,113.4 440.2,110.4 433.7,116.3" fill="#ec0c0c"/><polygon points="469.8,110.5 476.1,106 470.5,102.4 464.1,106.8" fill="#b4000f"/><polygon points="366.3,129 373,130.1 367.8,125 361,123.6" fill="#12a52c" stroke="none"/><polygon points="361.8,123.8 361,123.6 361.4,124" fill="#2ee02a" stroke="none"/><polygon points="366.3,129 373,130.1 367.8,125 361,123.6" fill="none"/><polygon points="481.8,109.9 488.1,105.6 482.4,101.6 476.1,106" fill="#b4000f"/><polygon points="414.2,137.4 420.8,130.1 415.3,126.5 408.8,133.4" fill="#ff8a10" stroke="none"/><polygon points="414.2,137.4 420.8,130.1 415.3,126.5 409.3,132.8 411.3,135.2" fill="#ec0c0c" stroke="none"/><polygon points="414.2,137.4 420.8,130.1 415.3,126.5 408.8,133.4" fill="none"/><polygon points="451.3,116.8 457.8,111.5 452.1,108.2 445.7,113.4" fill="#ec0c0c" stroke="none"/><polygon points="452.7,115.7 457.8,111.5 452.1,108.2 446.5,112.8" fill="#b4000f" stroke="none"/><polygon points="451.3,116.8 457.8,111.5 452.1,108.2 445.7,113.4" fill="none"/><polygon points="432.8,126.2 439.3,119.4 433.7,116.3 427.3,122.9" fill="#ec0c0c"/><polygon points="395.7,145 402.3,139.8 396.9,135.1 390.3,139.7" fill="#2ee02a" stroke="none"/><polygon points="396.3,144.6 402.3,139.8 396.9,135.1 392.9,137.9" fill="#f0f00f" stroke="none"/><polygon points="395.7,145 402.3,139.8 396.9,135.1 390.3,139.7" fill="none"/><polygon points="383.7,141.2 390.3,139.7 385,134.5 378.3,135.5" fill="#12a52c" stroke="none"/><polygon points="387.4,140.4 390.3,139.7 385.8,135.3" fill="#2ee02a" stroke="none"/><polygon points="383.7,141.2 390.3,139.7 385,134.5 378.3,135.5" fill="none"/><polygon points="354.2,122.7 361,123.6 355.8,118.5 349,117.4" fill="#2ee02a" stroke="none"/><polygon points="354.4,118.3 349,117.4 351.9,120.4" fill="#f0f00f" stroke="none"/><polygon points="354.2,122.7 361,123.6 355.8,118.5 349,117.4" fill="none"/><polygon points="463.4,115.3 469.8,110.5 464.1,106.8 457.8,111.5" fill="#b4000f"/><polygon points="407.7,144.4 414.2,137.4 408.8,133.4 402.3,139.8" fill="#f0f00f" stroke="none"/><polygon points="407.8,144.2 414.2,137.4 408.8,133.4 402.9,139.2" fill="#ff8a10" stroke="none"/><polygon points="414,137.7 414.2,137.4 411.3,135.2" fill="#ec0c0c" stroke="none"/><polygon points="407.7,144.4 414.2,137.4 408.8,133.4 402.3,139.8" fill="none"/><polygon points="426.3,133.6 432.8,126.2 427.3,122.9 420.8,130.1" fill="#ec0c0c"/><polygon points="371.6,134.7 378.3,135.5 373,130.1 366.3,129" fill="#12a52c"/><polygon points="444.9,122.9 451.3,116.8 445.7,113.4 439.3,119.4" fill="#ec0c0c"/><polygon points="475.5,114.5 481.8,109.9 476.1,106 469.8,110.5" fill="#b4000f"/><polygon points="342.1,118.3 349,117.4 343.8,112.4 336.9,113" fill="#f0f00f" stroke="none"/><polygon points="342.1,118.3 345.9,117.8 347.5,116 343.8,112.4 336.9,113" fill="#ff8a10" stroke="none"/><polygon points="344.8,113.4 343.8,112.4 336.9,113 340.6,116.7" fill="#ec0c0c" stroke="none"/><polygon points="342.1,118.3 349,117.4 343.8,112.4 336.9,113" fill="none"/><polygon points="487.6,114.2 493.9,109.9 488.1,105.6 481.8,109.9" fill="#b4000f"/><polygon points="419.7,141.2 426.3,133.6 420.8,130.1 414.2,137.4" fill="#ff8a10" stroke="none"/><polygon points="420.1,140.7 426.3,133.6 420.8,130.1 414.2,137.4 417.3,139.6" fill="#ec0c0c" stroke="none"/><polygon points="419.7,141.2 426.3,133.6 420.8,130.1 414.2,137.4" fill="none"/><polygon points="389.1,147.1 395.7,145 390.3,139.7 383.7,141.2" fill="#12a52c" stroke="none"/><polygon points="390.2,146.8 395.7,145 390.3,139.7 387.4,140.4" fill="#2ee02a" stroke="none"/><polygon points="389.1,147.1 395.7,145 390.3,139.7 383.7,141.2" fill="none"/><polygon points="401.1,150.1 407.7,144.4 402.3,139.8 395.7,145" fill="#2ee02a" stroke="none"/><polygon points="401.2,150 407.7,144.4 402.3,139.8 396.3,144.6" fill="#f0f00f" stroke="none"/><polygon points="401.1,150.1 407.7,144.4 402.3,139.8 395.7,145" fill="none"/><polygon points="457,120.6 463.4,115.3 457.8,111.5 451.3,116.8" fill="#ec0c0c" stroke="none"/><polygon points="459.9,118.2 463.4,115.3 457.8,111.5 452.7,115.7" fill="#b4000f" stroke="none"/><polygon points="457,120.6 463.4,115.3 457.8,111.5 451.3,116.8" fill="none"/><polygon points="438.3,129.7 444.9,122.9 439.3,119.4 432.8,126.2" fill="#ec0c0c"/><polygon points="359.5,128.2 366.3,129 361,123.6 354.2,122.7" fill="#12a52c" stroke="none"/><polygon points="361.4,124 361,123.6 354.2,122.7 358.9,127.5" fill="#2ee02a" stroke="none"/><polygon points="359.5,128.2 366.3,129 361,123.6 354.2,122.7" fill="none"/><polygon points="469.1,119.3 475.5,114.5 469.8,110.5 463.4,115.3" fill="#b4000f"/><polygon points="377,140.8 383.7,141.2 378.3,135.5 371.6,134.7" fill="#12a52c"/><polygon points="413.1,148.5 419.7,141.2 414.2,137.4 407.7,144.4" fill="#f0f00f" stroke="none"/><polygon points="413.8,147.7 419.7,141.2 414.2,137.4 407.8,144.2" fill="#ff8a10" stroke="none"/><polygon points="417.3,139.6 414.2,137.4 414,137.7" fill="#ec0c0c" stroke="none"/><polygon points="413.1,148.5 419.7,141.2 414.2,137.4 407.7,144.4" fill="none"/><polygon points="347.4,123.6 354.2,122.7 349,117.4 342.1,118.3" fill="#2ee02a" stroke="none"/><polygon points="347.4,123.6 349.7,123.3 351.9,120.4 349,117.4 342.1,118.3" fill="#f0f00f" stroke="none"/><polygon points="345.9,117.8 342.1,118.3 344.5,120.7" fill="#ff8a10" stroke="none"/><polygon points="347.4,123.6 354.2,122.7 349,117.4 342.1,118.3" fill="none"/><polygon points="481.2,118.7 487.6,114.2 481.8,109.9 475.5,114.5" fill="#b4000f"/><polygon points="431.8,137.1 438.3,129.7 432.8,126.2 426.3,133.6" fill="#ec0c0c"/><polygon points="450.5,126.6 457,120.6 451.3,116.8 444.9,122.9" fill="#ec0c0c"/><polygon points="493.4,118.6 499.7,114.4 493.9,109.9 487.6,114.2" fill="#b4000f"/><polygon points="394.5,152.7 401.1,150.1 395.7,145 389.1,147.1" fill="#12a52c" stroke="none"/><polygon points="394.5,152.7 401.1,150.1 395.7,145 390.2,146.8 391.6,149.7" fill="#2ee02a" stroke="none"/><polygon points="394.5,152.7 401.1,150.1 395.7,145 389.1,147.1" fill="none"/><polygon points="335.2,120.6 342.1,118.3 336.9,113 330,114.9" fill="#ff8a10" stroke="none"/><polygon points="335.2,120.6 337.8,119.7 340.6,116.7 336.9,113 330,114.9" fill="#ec0c0c" stroke="none"/><polygon points="335.2,120.6 342.1,118.3 336.9,113 330,114.9" fill="none"/><polygon points="406.5,154.5 413.1,148.5 407.7,144.4 401.1,150.1" fill="#2ee02a" stroke="none"/><polygon points="407.3,153.7 413.1,148.5 407.7,144.4 401.2,150" fill="#f0f00f" stroke="none"/><polygon points="406.5,154.5 413.1,148.5 407.7,144.4 401.1,150.1" fill="none"/><polygon points="364.8,133.9 371.6,134.7 366.3,129 359.5,128.2" fill="#12a52c"/><polygon points="425.2,144.7 431.8,137.1 426.3,133.6 419.7,141.2" fill="#ff8a10" stroke="none"/><polygon points="426.7,143 431.8,137.1 426.3,133.6 420.1,140.7" fill="#ec0c0c" stroke="none"/><polygon points="425.2,144.7 431.8,137.1 426.3,133.6 419.7,141.2" fill="none"/><polygon points="462.6,124.6 469.1,119.3 463.4,115.3 457,120.6" fill="#ec0c0c" stroke="none"/><polygon points="468,120.2 469.1,119.3 463.4,115.3 459.9,118.2" fill="#b4000f" stroke="none"/><polygon points="462.6,124.6 469.1,119.3 463.4,115.3 457,120.6" fill="none"/><polygon points="382.3,147 389.1,147.1 383.7,141.2 377,140.8" fill="#12a52c"/><polygon points="444,133.3 450.5,126.6 444.9,122.9 438.3,129.7" fill="#ec0c0c"/><polygon points="474.8,123.6 481.2,118.7 475.5,114.5 469.1,119.3" fill="#ec0c0c" stroke="none"/><polygon points="477.6,121.4 481.2,118.7 475.5,114.5 469.1,119.3 470.6,120.5" fill="#b4000f" stroke="none"/><polygon points="474.8,123.6 481.2,118.7 475.5,114.5 469.1,119.3" fill="none"/><polygon points="352.6,129.1 359.5,128.2 354.2,122.7 347.4,123.6" fill="#12a52c" stroke="none"/><polygon points="352.6,129.1 358.6,128.3 358.9,127.5 354.2,122.7 347.4,123.6" fill="#2ee02a" stroke="none"/><polygon points="349.7,123.3 347.4,123.6 348.9,125.2" fill="#f0f00f" stroke="none"/><polygon points="352.6,129.1 359.5,128.2 354.2,122.7 347.4,123.6" fill="none"/><polygon points="418.6,151.9 425.2,144.7 419.7,141.2 413.1,148.5" fill="#f0f00f" stroke="none"/><polygon points="419.1,151.5 425.2,144.7 419.7,141.2 413.8,147.7" fill="#ff8a10" stroke="none"/><polygon points="418.6,151.9 425.2,144.7 419.7,141.2 413.1,148.5" fill="none"/><polygon points="487,123.1 493.4,118.6 487.6,114.2 481.2,118.7" fill="#ec0c0c" stroke="none"/><polygon points="489.7,121.2 493.4,118.6 487.6,114.2 481.2,118.7 484.5,121.2" fill="#b4000f" stroke="none"/><polygon points="487,123.1 493.4,118.6 487.6,114.2 481.2,118.7" fill="none"/><polygon points="340.5,126.2 347.4,123.6 342.1,118.3 335.2,120.6" fill="#f0f00f" stroke="none"/><polygon points="344.5,120.7 342.1,118.3 335.2,120.6 339.7,125.4" fill="#ff8a10" stroke="none"/><polygon points="337.8,119.7 335.2,120.6 336,121.3" fill="#ec0c0c" stroke="none"/><polygon points="340.5,126.2 347.4,123.6 342.1,118.3 335.2,120.6" fill="none"/><polygon points="437.4,140.5 444,133.3 438.3,129.7 431.8,137.1" fill="#ec0c0c"/><polygon points="456.2,130.5 462.6,124.6 457,120.6 450.5,126.6" fill="#ec0c0c"/><polygon points="499.2,123.2 505.5,119.2 499.7,114.4 493.4,118.6" fill="#ec0c0c" stroke="none"/><polygon points="501.6,121.6 505.5,119.2 499.7,114.4 493.4,118.6 496,120.7" fill="#b4000f" stroke="none"/><polygon points="499.2,123.2 505.5,119.2 499.7,114.4 493.4,118.6" fill="none"/><polygon points="399.9,157.4 406.5,154.5 401.1,150.1 394.5,152.7" fill="#2ee02a"/><polygon points="370.2,139.9 377,140.8 371.6,134.7 364.8,133.9" fill="#12a52c"/><polygon points="328.3,123.6 335.2,120.6 330,114.9 323.1,117.6" fill="#ff8a10" stroke="none"/><polygon points="330.1,122.8 335.2,120.6 330,114.9 323.1,117.6 327.8,123" fill="#ec0c0c" stroke="none"/><polygon points="328.3,123.6 335.2,120.6 330,114.9 323.1,117.6" fill="none"/><polygon points="412,158 418.6,151.9 413.1,148.5 406.5,154.5" fill="#2ee02a" stroke="none"/><polygon points="413.1,157 418.6,151.9 413.1,148.5 407.3,153.7" fill="#f0f00f" stroke="none"/><polygon points="412,158 418.6,151.9 413.1,148.5 406.5,154.5" fill="none"/><polygon points="387.8,152.8 394.5,152.7 389.1,147.1 382.3,147" fill="#12a52c" stroke="none"/><polygon points="393,152.7 394.5,152.7 391.6,149.7" fill="#2ee02a" stroke="none"/><polygon points="387.8,152.8 394.5,152.7 389.1,147.1 382.3,147" fill="none"/><polygon points="468.4,128.8 474.8,123.6 469.1,119.3 462.6,124.6" fill="#ec0c0c" stroke="none"/><polygon points="470.6,120.5 469.1,119.3 468,120.2" fill="#b4000f" stroke="none"/><polygon points="468.4,128.8 474.8,123.6 469.1,119.3 462.6,124.6" fill="none"/><polygon points="430.8,147.8 437.4,140.5 431.8,137.1 425.2,144.7" fill="#ff8a10" stroke="none"/><polygon points="434.3,143.9 437.4,140.5 431.8,137.1 426.7,143" fill="#ec0c0c" stroke="none"/><polygon points="430.8,147.8 437.4,140.5 431.8,137.1 425.2,144.7" fill="none"/><polygon points="449.6,137 456.2,130.5 450.5,126.6 444,133.3" fill="#ec0c0c"/><polygon points="358,134.8 364.8,133.9 359.5,128.2 352.6,129.1" fill="#12a52c" stroke="none"/><polygon points="358,134.8 360.7,134.4 358.6,128.3 352.6,129.1" fill="#2ee02a" stroke="none"/><polygon points="358,134.8 364.8,133.9 359.5,128.2 352.6,129.1" fill="none"/><polygon points="480.6,127.9 487,123.1 481.2,118.7 474.8,123.6" fill="#ec0c0c" stroke="none"/><polygon points="484.5,121.2 481.2,118.7 477.6,121.4" fill="#b4000f" stroke="none"/><polygon points="480.6,127.9 487,123.1 481.2,118.7 474.8,123.6" fill="none"/><polygon points="345.8,131.8 352.6,129.1 347.4,123.6 340.5,126.2" fill="#2ee02a" stroke="none"/><polygon points="348.9,125.2 347.4,123.6 340.5,126.2 344.9,130.9" fill="#f0f00f" stroke="none"/><polygon points="345.8,131.8 352.6,129.1 347.4,123.6 340.5,126.2" fill="none"/><polygon points="492.8,127.5 499.2,123.2 493.4,118.6 487,123.1" fill="#ec0c0c" stroke="none"/><polygon points="496,120.7 493.4,118.6 489.7,121.2" fill="#b4000f" stroke="none"/><polygon points="492.8,127.5 499.2,123.2 493.4,118.6 487,123.1" fill="none"/><polygon points="375.6,146.1 382.3,147 377,140.8 370.2,139.9" fill="#12a52c"/><polygon points="424.2,154.8 430.8,147.8 425.2,144.7 418.6,151.9" fill="#f0f00f" stroke="none"/><polygon points="424.2,154.8 430.8,147.8 425.2,144.7 419.1,151.5 420.8,153.1" fill="#ff8a10" stroke="none"/><polygon points="424.2,154.8 430.8,147.8 425.2,144.7 418.6,151.9" fill="none"/><polygon points="333.6,129.5 340.5,126.2 335.2,120.6 328.3,123.6" fill="#f0f00f" stroke="none"/><polygon points="339.7,125.4 335.2,120.6 328.3,123.6 332.7,128.4" fill="#ff8a10" stroke="none"/><polygon points="336,121.3 335.2,120.6 330.1,122.8" fill="#ec0c0c" stroke="none"/><polygon points="333.6,129.5 340.5,126.2 335.2,120.6 328.3,123.6" fill="none"/><polygon points="505,127.8 511.3,124 505.5,119.2 499.2,123.2" fill="#ec0c0c" stroke="none"/><polygon points="509.9,124.9 511.3,124 505.5,119.2 501.6,121.6" fill="#b4000f" stroke="none"/><polygon points="505,127.8 511.3,124 505.5,119.2 499.2,123.2" fill="none"/><polygon points="461.9,134.6 468.4,128.8 462.6,124.6 456.2,130.5" fill="#ec0c0c"/><polygon points="405.4,161.2 412,158 406.5,154.5 399.9,157.4" fill="#2ee02a"/><polygon points="443,143.8 449.6,137 444,133.3 437.4,140.5" fill="#ff8a10" stroke="none"/><polygon points="443.1,143.8 449.6,137 444,133.3 437.4,140.5 443,143.8" fill="#ec0c0c" stroke="none"/><polygon points="443,143.8 449.6,137 444,133.3 437.4,140.5" fill="none"/><polygon points="321.4,126.8 328.3,123.6 323.1,117.6 316.2,120.5" fill="#ff8a10" stroke="none"/><polygon points="327.8,123 323.1,117.6 316.2,120.5 319.6,124.6" fill="#ec0c0c" stroke="none"/><polygon points="321.4,126.8 328.3,123.6 323.1,117.6 316.2,120.5" fill="none"/><polygon points="393.2,157.8 399.9,157.4 394.5,152.7 387.8,152.8" fill="#12a52c" stroke="none"/><polygon points="395,157.7 399.9,157.4 394.5,152.7 393,152.7" fill="#2ee02a" stroke="none"/><polygon points="393.2,157.8 399.9,157.4 394.5,152.7 387.8,152.8" fill="none"/><polygon points="474.1,133.1 480.6,127.9 474.8,123.6 468.4,128.8" fill="#ec0c0c"/><polygon points="363.3,140.7 370.2,139.9 364.8,133.9 358,134.8" fill="#12a52c" stroke="none"/><polygon points="360.7,134.4 358,134.8 359.5,136.5" fill="#2ee02a" stroke="none"/><polygon points="363.3,140.7 370.2,139.9 364.8,133.9 358,134.8" fill="none"/><polygon points="417.6,160.7 424.2,154.8 418.6,151.9 412,158" fill="#2ee02a" stroke="none"/><polygon points="417.7,160.6 424.2,154.8 418.6,151.9 413.1,157" fill="#f0f00f" stroke="none"/><polygon points="423.6,155.4 424.2,154.8 420.8,153.1" fill="#ff8a10" stroke="none"/><polygon points="417.6,160.7 424.2,154.8 418.6,151.9 412,158" fill="none"/><polygon points="436.4,150.7 443,143.8 437.4,140.5 430.8,147.8" fill="#ff8a10" stroke="none"/><polygon points="443,143.8 437.4,140.5 434.3,143.9" fill="#ec0c0c" stroke="none"/><polygon points="436.4,150.7 443,143.8 437.4,140.5 430.8,147.8" fill="none"/><polygon points="455.3,140.7 461.9,134.6 456.2,130.5 449.6,137" fill="#ec0c0c"/><polygon points="486.4,132.2 492.8,127.5 487,123.1 480.6,127.9" fill="#ec0c0c"/><polygon points="351.1,137.6 358,134.8 352.6,129.1 345.8,131.8" fill="#2ee02a"/><polygon points="381,151.9 387.8,152.8 382.3,147 375.6,146.1" fill="#0d6e30" stroke="none"/><polygon points="383.6,152.2 387.8,152.8 382.3,147 375.6,146.1 375.9,146.5" fill="#12a52c" stroke="none"/><polygon points="381,151.9 387.8,152.8 382.3,147 375.6,146.1" fill="none"/><polygon points="338.9,135.3 345.8,131.8 340.5,126.2 333.6,129.5" fill="#2ee02a" stroke="none"/><polygon points="344.9,130.9 340.5,126.2 333.6,129.5 338,134.3" fill="#f0f00f" stroke="none"/><polygon points="338.9,135.3 345.8,131.8 340.5,126.2 333.6,129.5" fill="none"/><polygon points="498.7,132 505,127.8 499.2,123.2 492.8,127.5" fill="#ec0c0c"/><polygon points="326.6,133 333.6,129.5 328.3,123.6 321.4,126.8" fill="#f0f00f" stroke="none"/><polygon points="332.7,128.4 328.3,123.6 321.4,126.8 324.8,130.8" fill="#ff8a10" stroke="none"/><polygon points="326.6,133 333.6,129.5 328.3,123.6 321.4,126.8" fill="none"/><polygon points="510.9,132.4 517.2,128.9 511.3,124 505,127.8" fill="#ec0c0c" stroke="none"/><polygon points="512.6,125.1 511.3,124 509.9,124.9" fill="#b4000f" stroke="none"/><polygon points="510.9,132.4 517.2,128.9 511.3,124 505,127.8" fill="none"/><polygon points="467.6,138.6 474.1,133.1 468.4,128.8 461.9,134.6" fill="#ec0c0c"/><polygon points="429.8,157.3 436.4,150.7 430.8,147.8 424.2,154.8" fill="#f0f00f" stroke="none"/><polygon points="430.3,156.7 436.4,150.7 430.8,147.8 424.2,154.8 428,156.5" fill="#ff8a10" stroke="none"/><polygon points="429.8,157.3 436.4,150.7 430.8,147.8 424.2,154.8" fill="none"/><polygon points="448.7,147.1 455.3,140.7 449.6,137 443,143.8" fill="#ff8a10" stroke="none"/><polygon points="452.9,143.1 455.3,140.7 449.6,137 443.1,143.8" fill="#ec0c0c" stroke="none"/><polygon points="448.7,147.1 455.3,140.7 449.6,137 443,143.8" fill="none"/><polygon points="398.7,161.8 405.4,161.2 399.9,157.4 393.2,157.8" fill="#12a52c" stroke="none"/><polygon points="398.7,161.8 405.4,161.2 399.9,157.4 395,157.7 395.4,159.4" fill="#2ee02a" stroke="none"/><polygon points="398.7,161.8 405.4,161.2 399.9,157.4 393.2,157.8" fill="none"/><polygon points="368.7,146.8 375.6,146.1 370.2,139.9 363.3,140.7" fill="#0d6e30" stroke="none"/><polygon points="374,146.2 375.6,146.1 370.2,139.9 363.3,140.7 368.3,146.4" fill="#12a52c" stroke="none"/><polygon points="368.7,146.8 375.6,146.1 370.2,139.9 363.3,140.7" fill="none"/><polygon points="410.9,163.9 417.6,160.7 412,158 405.4,161.2" fill="#2ee02a"/><polygon points="479.9,137.2 486.4,132.2 480.6,127.9 474.1,133.1" fill="#ec0c0c"/><polygon points="356.4,143.5 363.3,140.7 358,134.8 351.1,137.6" fill="#12a52c" stroke="none"/><polygon points="359.5,136.5 358,134.8 351.1,137.6 353,139.7" fill="#2ee02a" stroke="none"/><polygon points="356.4,143.5 363.3,140.7 358,134.8 351.1,137.6" fill="none"/><polygon points="386.4,156.9 393.2,157.8 387.8,152.8 381,151.9" fill="#0d6e30" stroke="none"/><polygon points="386.6,156.9 393.2,157.8 387.8,152.8 383.6,152.2" fill="#12a52c" stroke="none"/><polygon points="386.4,156.9 393.2,157.8 387.8,152.8 381,151.9" fill="none"/><polygon points="492.3,136.5 498.7,132 492.8,127.5 486.4,132.2" fill="#ec0c0c"/><polygon points="344.2,141.1 351.1,137.6 345.8,131.8 338.9,135.3" fill="#2ee02a"/><polygon points="423.2,162.8 429.8,157.3 424.2,154.8 417.6,160.7" fill="#2ee02a" stroke="none"/><polygon points="423.2,162.8 429.8,157.3 424.2,154.8 417.7,160.6 419.5,161.4" fill="#f0f00f" stroke="none"/><polygon points="428,156.5 424.2,154.8 423.6,155.4" fill="#ff8a10" stroke="none"/><polygon points="423.2,162.8 429.8,157.3 424.2,154.8 417.6,160.7" fill="none"/><polygon points="461.1,144.4 467.6,138.6 461.9,134.6 455.3,140.7" fill="#ff8a10" stroke="none"/><polygon points="462.9,142.8 467.6,138.6 461.9,134.6 455.3,140.7 458.7,142.9" fill="#ec0c0c" stroke="none"/><polygon points="461.1,144.4 467.6,138.6 461.9,134.6 455.3,140.7" fill="none"/><polygon points="331.9,139 338.9,135.3 333.6,129.5 326.6,133" fill="#2ee02a" stroke="none"/><polygon points="338,134.3 333.6,129.5 326.6,133 330.9,137.8" fill="#f0f00f" stroke="none"/><polygon points="331.9,139 338.9,135.3 333.6,129.5 326.6,133" fill="none"/><polygon points="442.1,153.4 448.7,147.1 443,143.8 436.4,150.7" fill="#ff8a10"/><polygon points="504.6,136.3 510.9,132.4 505,127.8 498.7,132" fill="#ff8a10" stroke="none"/><polygon points="505.8,135.6 510.9,132.4 505,127.8 498.7,132 503,135.1" fill="#ec0c0c" stroke="none"/><polygon points="504.6,136.3 510.9,132.4 505,127.8 498.7,132" fill="none"/><polygon points="516.9,136.9 523.2,133.8 517.2,128.9 510.9,132.4" fill="#ff8a10" stroke="none"/><polygon points="522.6,133.3 517.2,128.9 510.9,132.4 514.4,135" fill="#ec0c0c" stroke="none"/><polygon points="516.9,136.9 523.2,133.8 517.2,128.9 510.9,132.4" fill="none"/><polygon points="374.1,152.6 381,151.9 375.6,146.1 368.7,146.8" fill="#0d6e30" stroke="none"/><polygon points="375.9,146.5 375.6,146.1 374,146.2" fill="#12a52c" stroke="none"/><polygon points="374.1,152.6 381,151.9 375.6,146.1 368.7,146.8" fill="none"/><polygon points="473.4,142.5 479.9,137.2 474.1,133.1 467.6,138.6" fill="#ff8a10" stroke="none"/><polygon points="474.2,141.9 479.9,137.2 474.1,133.1 467.6,138.6 472.8,142.1" fill="#ec0c0c" stroke="none"/><polygon points="473.4,142.5 479.9,137.2 474.1,133.1 467.6,138.6" fill="none"/><polygon points="454.5,150.3 461.1,144.4 455.3,140.7 448.7,147.1" fill="#ff8a10" stroke="none"/><polygon points="458.7,142.9 455.3,140.7 452.9,143.1" fill="#ec0c0c" stroke="none"/><polygon points="454.5,150.3 461.1,144.4 455.3,140.7 448.7,147.1" fill="none"/><polygon points="435.5,159.4 442.1,153.4 436.4,150.7 429.8,157.3" fill="#f0f00f" stroke="none"/><polygon points="437.5,157.6 442.1,153.4 436.4,150.7 430.3,156.7" fill="#ff8a10" stroke="none"/><polygon points="435.5,159.4 442.1,153.4 436.4,150.7 429.8,157.3" fill="none"/><polygon points="361.8,149.7 368.7,146.8 363.3,140.7 356.4,143.5" fill="#0d6e30" stroke="none"/><polygon points="368.3,146.4 363.3,140.7 356.4,143.5 359.7,147.3" fill="#12a52c" stroke="none"/><polygon points="361.8,149.7 368.7,146.8 363.3,140.7 356.4,143.5" fill="none"/><polygon points="404.2,164.7 410.9,163.9 405.4,161.2 398.7,161.8" fill="#2ee02a"/><polygon points="485.8,141.3 492.3,136.5 486.4,132.2 479.9,137.2" fill="#ff8a10" stroke="none"/><polygon points="487.5,140 492.3,136.5 486.4,132.2 479.9,137.2 484.4,140.4" fill="#ec0c0c" stroke="none"/><polygon points="485.8,141.3 492.3,136.5 486.4,132.2 479.9,137.2" fill="none"/><polygon points="349.5,147.2 356.4,143.5 351.1,137.6 344.2,141.1" fill="#0d6e30" stroke="none"/><polygon points="350.7,146.6 356.4,143.5 351.1,137.6 344.2,141.1 349.1,146.7" fill="#12a52c" stroke="none"/><polygon points="353,139.7 351.1,137.6 344.2,141.1 344.4,141.4" fill="#2ee02a" stroke="none"/><polygon points="349.5,147.2 356.4,143.5 351.1,137.6 344.2,141.1" fill="none"/><polygon points="416.5,166 423.2,162.8 417.6,160.7 410.9,163.9" fill="#2ee02a" stroke="none"/><polygon points="420.3,164.2 423.2,162.8 419.5,161.4" fill="#f0f00f" stroke="none"/><polygon points="416.5,166 423.2,162.8 417.6,160.7 410.9,163.9" fill="none"/><polygon points="337.2,145.1 344.2,141.1 338.9,135.3 331.9,139" fill="#2ee02a"/><polygon points="391.9,160.9 398.7,161.8 393.2,157.8 386.4,156.9" fill="#0d6e30" stroke="none"/><polygon points="391.9,160.9 398.7,161.8 393.2,157.8 386.6,156.9 386.6,157" fill="#12a52c" stroke="none"/><polygon points="396.2,161.5 398.7,161.8 395.4,159.4" fill="#2ee02a" stroke="none"/><polygon points="391.9,160.9 398.7,161.8 393.2,157.8 386.4,156.9" fill="none"/><polygon points="498.2,140.6 504.6,136.3 498.7,132 492.3,136.5" fill="#ff8a10" stroke="none"/><polygon points="503,135.1 498.7,132 492.3,136.5 494.6,138.1" fill="#ec0c0c" stroke="none"/><polygon points="498.2,140.6 504.6,136.3 498.7,132 492.3,136.5" fill="none"/><polygon points="466.9,148 473.4,142.5 467.6,138.6 461.1,144.4" fill="#ff8a10" stroke="none"/><polygon points="472.8,142.1 467.6,138.6 462.9,142.8" fill="#ec0c0c" stroke="none"/><polygon points="466.9,148 473.4,142.5 467.6,138.6 461.1,144.4" fill="none"/><polygon points="510.6,140.6 516.9,136.9 510.9,132.4 504.6,136.3" fill="#ff8a10" stroke="none"/><polygon points="514.4,135 510.9,132.4 505.8,135.6" fill="#ec0c0c" stroke="none"/><polygon points="510.6,140.6 516.9,136.9 510.9,132.4 504.6,136.3" fill="none"/><polygon points="447.9,156 454.5,150.3 448.7,147.1 442.1,153.4" fill="#ff8a10"/><polygon points="379.6,157.6 386.4,156.9 381,151.9 374.1,152.6" fill="#0d6e30"/><polygon points="428.9,164.4 435.5,159.4 429.8,157.3 423.2,162.8" fill="#f0f00f"/><polygon points="479.3,146.3 485.8,141.3 479.9,137.2 473.4,142.5" fill="#ff8a10" stroke="none"/><polygon points="484.4,140.4 479.9,137.2 474.2,141.9" fill="#ec0c0c" stroke="none"/><polygon points="479.3,146.3 485.8,141.3 479.9,137.2 473.4,142.5" fill="none"/><polygon points="367.3,155.4 374.1,152.6 368.7,146.8 361.8,149.7" fill="#0d6e30"/><polygon points="354.9,153.4 361.8,149.7 356.4,143.5 349.5,147.2" fill="#0d6e30" stroke="none"/><polygon points="359.7,147.3 356.4,143.5 350.7,146.6" fill="#12a52c" stroke="none"/><polygon points="354.9,153.4 361.8,149.7 356.4,143.5 349.5,147.2" fill="none"/><polygon points="342.6,151.4 349.5,147.2 344.2,141.1 337.2,145.1" fill="#0d6e30" stroke="none"/><polygon points="349.1,146.7 344.2,141.1 337.2,145.1 342.1,150.7" fill="#12a52c" stroke="none"/><polygon points="344.4,141.4 344.2,141.1 337.2,145.1 337.6,145.5" fill="#2ee02a" stroke="none"/><polygon points="342.6,151.4 349.5,147.2 344.2,141.1 337.2,145.1" fill="none"/><polygon points="460.3,153.4 466.9,148 461.1,144.4 454.5,150.3" fill="#ff8a10"/><polygon points="491.7,145.2 498.2,140.6 492.3,136.5 485.8,141.3" fill="#ff8a10" stroke="none"/><polygon points="494.6,138.1 492.3,136.5 487.5,140" fill="#ec0c0c" stroke="none"/><polygon points="491.7,145.2 498.2,140.6 492.3,136.5 485.8,141.3" fill="none"/><polygon points="441.2,161.4 447.9,156 442.1,153.4 435.5,159.4" fill="#f0f00f" stroke="none"/><polygon points="445.8,157.8 447.9,156 442.1,153.4 437.5,157.6" fill="#ff8a10" stroke="none"/><polygon points="441.2,161.4 447.9,156 442.1,153.4 435.5,159.4" fill="none"/><polygon points="409.8,166.8 416.5,166 410.9,163.9 404.2,164.7" fill="#2ee02a"/><polygon points="504.2,144.7 510.6,140.6 504.6,136.3 498.2,140.6" fill="#f0f00f" stroke="none"/><polygon points="507.3,142.7 510.6,140.6 504.6,136.3 498.2,140.6 503.6,144.3" fill="#ff8a10" stroke="none"/><polygon points="504.2,144.7 510.6,140.6 504.6,136.3 498.2,140.6" fill="none"/><polygon points="397.4,164 404.2,164.7 398.7,161.8 391.9,160.9" fill="#12a52c" stroke="none"/><polygon points="397.4,164 404.2,164.7 398.7,161.8 396.2,161.5 396.2,163.3" fill="#2ee02a" stroke="none"/><polygon points="397.4,164 404.2,164.7 398.7,161.8 391.9,160.9" fill="none"/><polygon points="422.2,167.5 428.9,164.4 423.2,162.8 416.5,166" fill="#2ee02a" stroke="none"/><polygon points="422.2,167.5 428.9,164.4 423.2,162.8 420.3,164.2 417.9,166.3" fill="#f0f00f" stroke="none"/><polygon points="422.2,167.5 428.9,164.4 423.2,162.8 416.5,166" fill="none"/><polygon points="472.8,151.4 479.3,146.3 473.4,142.5 466.9,148" fill="#ff8a10"/><polygon points="385.1,161.7 391.9,160.9 386.4,156.9 379.6,157.6" fill="#0d6e30" stroke="none"/><polygon points="387,161.5 391.9,160.9 386.6,157" fill="#12a52c" stroke="none"/><polygon points="385.1,161.7 391.9,160.9 386.4,156.9 379.6,157.6" fill="none"/><polygon points="372.7,160.5 379.6,157.6 374.1,152.6 367.3,155.4" fill="#0d6e30"/><polygon points="360.4,159.3 367.3,155.4 361.8,149.7 354.9,153.4" fill="#0d6e30"/><polygon points="453.7,158.6 460.3,153.4 454.5,150.3 447.9,156" fill="#f0f00f" stroke="none"/><polygon points="454.9,157.7 460.3,153.4 454.5,150.3 447.9,156 451.8,157.8" fill="#ff8a10" stroke="none"/><polygon points="453.7,158.6 460.3,153.4 454.5,150.3 447.9,156" fill="none"/><polygon points="348,157.8 354.9,153.4 349.5,147.2 342.6,151.4" fill="#0d6e30"/><polygon points="485.2,149.9 491.7,145.2 485.8,141.3 479.3,146.3" fill="#ff8a10"/><polygon points="434.6,166 441.2,161.4 435.5,159.4 428.9,164.4" fill="#f0f00f"/><polygon points="497.7,149 504.2,144.7 498.2,140.6 491.7,145.2" fill="#f0f00f" stroke="none"/><polygon points="503.6,144.3 498.2,140.6 491.7,145.2 496.8,148.4" fill="#ff8a10" stroke="none"/><polygon points="497.7,149 504.2,144.7 498.2,140.6 491.7,145.2" fill="none"/><polygon points="466.2,156.4 472.8,151.4 466.9,148 460.3,153.4" fill="#ff8a10"/><polygon points="447.1,163.5 453.7,158.6 447.9,156 441.2,161.4" fill="#f0f00f" stroke="none"/><polygon points="451.8,157.8 447.9,156 445.8,157.8" fill="#ff8a10" stroke="none"/><polygon points="447.1,163.5 453.7,158.6 447.9,156 441.2,161.4" fill="none"/><polygon points="415.5,168.4 422.2,167.5 416.5,166 409.8,166.8" fill="#2ee02a" stroke="none"/><polygon points="415.5,168.4 422.2,167.5 417.9,166.3 413.7,168" fill="#f0f00f" stroke="none"/><polygon points="415.5,168.4 422.2,167.5 416.5,166 409.8,166.8" fill="none"/><polygon points="403,166.2 409.8,166.8 404.2,164.7 397.4,164" fill="#2ee02a"/><polygon points="353.4,163.9 360.4,159.3 354.9,153.4 348,157.8" fill="#0d6e30"/><polygon points="478.7,154.7 485.2,149.9 479.3,146.3 472.8,151.4" fill="#f0f00f" stroke="none"/><polygon points="481,153 485.2,149.9 479.3,146.3 472.8,151.4 477.3,153.9" fill="#ff8a10" stroke="none"/><polygon points="478.7,154.7 485.2,149.9 479.3,146.3 472.8,151.4" fill="none"/><polygon points="365.8,164.5 372.7,160.5 367.3,155.4 360.4,159.3" fill="#0d6e30"/><polygon points="390.6,164.9 397.4,164 391.9,160.9 385.1,161.7" fill="#0d6e30" stroke="none"/><polygon points="390.6,164.9 397.4,164 391.9,160.9 387,161.5 387.8,163.3" fill="#12a52c" stroke="none"/><polygon points="396.5,164.1 397.4,164 396.2,163.3" fill="#2ee02a" stroke="none"/><polygon points="390.6,164.9 397.4,164 391.9,160.9 385.1,161.7" fill="none"/><polygon points="378.2,164.8 385.1,161.7 379.6,157.6 372.7,160.5" fill="#0d6e30"/><polygon points="427.9,168.9 434.6,166 428.9,164.4 422.2,167.5" fill="#f0f00f"/><polygon points="491.2,153.4 497.7,149 491.7,145.2 485.2,149.9" fill="#f0f00f" stroke="none"/><polygon points="496.8,148.4 491.7,145.2 485.2,149.9 487,151" fill="#ff8a10" stroke="none"/><polygon points="491.2,153.4 497.7,149 491.7,145.2 485.2,149.9" fill="none"/><polygon points="459.6,161.2 466.2,156.4 460.3,153.4 453.7,158.6" fill="#f0f00f" stroke="none"/><polygon points="465.7,156.8 466.2,156.4 460.3,153.4 454.9,157.7" fill="#ff8a10" stroke="none"/><polygon points="459.6,161.2 466.2,156.4 460.3,153.4 453.7,158.6" fill="none"/><polygon points="440.4,167.6 447.1,163.5 441.2,161.4 434.6,166" fill="#f0f00f"/><polygon points="472.1,159.3 478.7,154.7 472.8,151.4 466.2,156.4" fill="#f0f00f" stroke="none"/><polygon points="477.3,153.9 472.8,151.4 466.2,156.4 466.7,156.6" fill="#ff8a10" stroke="none"/><polygon points="472.1,159.3 478.7,154.7 472.8,151.4 466.2,156.4" fill="none"/><polygon points="358.9,169.3 365.8,164.5 360.4,159.3 353.4,163.9" fill="#0d6e30"/><polygon points="371.3,169 378.2,164.8 372.7,160.5 365.8,164.5" fill="#0d6e30"/><polygon points="452.9,165.5 459.6,161.2 453.7,158.6 447.1,163.5" fill="#f0f00f"/><polygon points="484.7,157.8 491.2,153.4 485.2,149.9 478.7,154.7" fill="#f0f00f" stroke="none"/><polygon points="487,151 485.2,149.9 481,153" fill="#ff8a10" stroke="none"/><polygon points="484.7,157.8 491.2,153.4 485.2,149.9 478.7,154.7" fill="none"/><polygon points="383.7,168.4 390.6,164.9 385.1,161.7 378.2,164.8" fill="#0d6e30" stroke="none"/><polygon points="388.2,166.1 390.6,164.9 387.8,163.3" fill="#12a52c" stroke="none"/><polygon points="383.7,168.4 390.6,164.9 385.1,161.7 378.2,164.8" fill="none"/><polygon points="408.7,167.9 415.5,168.4 409.8,166.8 403,166.2" fill="#2ee02a" stroke="none"/><polygon points="413.4,168.3 415.5,168.4 413.7,168" fill="#f0f00f" stroke="none"/><polygon points="408.7,167.9 415.5,168.4 409.8,166.8 403,166.2" fill="none"/><polygon points="396.2,167.4 403,166.2 397.4,164 390.6,164.9" fill="#12a52c" stroke="none"/><polygon points="397.2,167.2 403,166.2 397.4,164 396.5,164.1" fill="#2ee02a" stroke="none"/><polygon points="396.2,167.4 403,166.2 397.4,164 390.6,164.9" fill="none"/><polygon points="421.2,169.8 427.9,168.9 422.2,167.5 415.5,168.4" fill="#f0f00f"/><polygon points="465.5,163.7 472.1,159.3 466.2,156.4 459.6,161.2" fill="#f0f00f" stroke="none"/><polygon points="466.7,156.6 466.2,156.4 465.7,156.8" fill="#ff8a10" stroke="none"/><polygon points="465.5,163.7 472.1,159.3 466.2,156.4 459.6,161.2" fill="none"/><polygon points="433.7,170.3 440.4,167.6 434.6,166 427.9,168.9" fill="#f0f00f"/><polygon points="364.3,174 371.3,169 365.8,164.5 358.9,169.3" fill="#0d6e30"/><polygon points="478.1,162.1 484.7,157.8 478.7,154.7 472.1,159.3" fill="#f0f00f"/><polygon points="446.2,169.3 452.9,165.5 447.1,163.5 440.4,167.6" fill="#f0f00f"/><polygon points="376.8,172.7 383.7,168.4 378.2,164.8 371.3,169" fill="#0d6e30"/><polygon points="389.3,171.2 396.2,167.4 390.6,164.9 383.7,168.4" fill="#0d6e30" stroke="none"/><polygon points="390.6,170.5 396.2,167.4 390.6,164.9 388.2,166.1" fill="#12a52c" stroke="none"/><polygon points="389.3,171.2 396.2,167.4 390.6,164.9 383.7,168.4" fill="none"/><polygon points="458.8,167.7 465.5,163.7 459.6,161.2 452.9,165.5" fill="#f0f00f"/><polygon points="401.8,169.3 408.7,167.9 403,166.2 396.2,167.4" fill="#12a52c" stroke="none"/><polygon points="401.8,169.3 408.7,167.9 403,166.2 397.2,167.2 397.3,167.8" fill="#2ee02a" stroke="none"/><polygon points="401.8,169.3 408.7,167.9 403,166.2 396.2,167.4" fill="none"/><polygon points="414.4,169.4 421.2,169.8 415.5,168.4 408.7,167.9" fill="#2ee02a" stroke="none"/><polygon points="414.4,169.4 421.2,169.8 415.5,168.4 413.4,168.3 412.3,168.8" fill="#f0f00f" stroke="none"/><polygon points="414.4,169.4 421.2,169.8 415.5,168.4 408.7,167.9" fill="none"/><polygon points="426.9,171.3 433.7,170.3 427.9,168.9 421.2,169.8" fill="#f0f00f" stroke="none"/><polygon points="426.9,171.3 429.7,170.9 425.8,171" fill="#ff8a10" stroke="none"/><polygon points="426.9,171.3 433.7,170.3 427.9,168.9 421.2,169.8" fill="none"/><polygon points="471.5,166.1 478.1,162.1 472.1,159.3 465.5,163.7" fill="#f0f00f"/><polygon points="369.8,177.9 376.8,172.7 371.3,169 364.3,174" fill="#0d6e30"/><polygon points="439.5,171.9 446.2,169.3 440.4,167.6 433.7,170.3" fill="#f0f00f"/><polygon points="382.3,175.7 389.3,171.2 383.7,168.4 376.8,172.7" fill="#0d6e30"/><polygon points="452.2,171.1 458.8,167.7 452.9,165.5 446.2,169.3" fill="#2ee02a" stroke="none"/><polygon points="456.5,168.8 458.8,167.7 452.9,165.5 446.2,169.3 447.6,169.7" fill="#f0f00f" stroke="none"/><polygon points="452.2,171.1 458.8,167.7 452.9,165.5 446.2,169.3" fill="none"/><polygon points="394.9,173.5 401.8,169.3 396.2,167.4 389.3,171.2" fill="#0d6e30" stroke="none"/><polygon points="394.9,173.5 401.8,169.3 396.2,167.4 390.6,170.5 391.5,172.1" fill="#12a52c" stroke="none"/><polygon points="399.4,170.8 401.8,169.3 397.3,167.8" fill="#2ee02a" stroke="none"/><polygon points="394.9,173.5 401.8,169.3 396.2,167.4 389.3,171.2" fill="none"/><polygon points="464.8,169.8 471.5,166.1 465.5,163.7 458.8,167.7" fill="#f0f00f"/><polygon points="407.5,171 414.4,169.4 408.7,167.9 401.8,169.3" fill="#2ee02a" stroke="none"/><polygon points="411.6,170 414.4,169.4 412.3,168.8" fill="#f0f00f" stroke="none"/><polygon points="407.5,171 414.4,169.4 408.7,167.9 401.8,169.3" fill="none"/><polygon points="375.4,181.1 382.3,175.7 376.8,172.7 369.8,177.9" fill="#0d6e30"/><polygon points="420.2,170.7 426.9,171.3 421.2,169.8 414.4,169.4" fill="#f0f00f" stroke="none"/><polygon points="425.3,171.1 426.9,171.3 425.8,171" fill="#ff8a10" stroke="none"/><polygon points="420.2,170.7 426.9,171.3 421.2,169.8 414.4,169.4" fill="none"/><polygon points="432.8,172.7 439.5,171.9 433.7,170.3 426.9,171.3" fill="#f0f00f" stroke="none"/><polygon points="432.8,172.7 434,172.6 429.7,170.9 426.9,171.3" fill="#ff8a10" stroke="none"/><polygon points="432.8,172.7 439.5,171.9 433.7,170.3 426.9,171.3" fill="none"/><polygon points="445.4,173.5 452.2,171.1 446.2,169.3 439.5,171.9" fill="#2ee02a" stroke="none"/><polygon points="447.6,169.7 446.2,169.3 439.5,171.9 440.5,172.1" fill="#f0f00f" stroke="none"/><polygon points="445.4,173.5 452.2,171.1 446.2,169.3 439.5,171.9" fill="none"/><polygon points="387.9,178.2 394.9,173.5 389.3,171.2 382.3,175.7" fill="#0d6e30" stroke="none"/><polygon points="391.9,175.5 394.9,173.5 391.5,172.1" fill="#12a52c" stroke="none"/><polygon points="387.9,178.2 394.9,173.5 389.3,171.2 382.3,175.7" fill="none"/><polygon points="458.1,172.9 464.8,169.8 458.8,167.7 452.2,171.1" fill="#2ee02a" stroke="none"/><polygon points="462.1,171 464.8,169.8 458.8,167.7 456.5,168.8" fill="#f0f00f" stroke="none"/><polygon points="458.1,172.9 464.8,169.8 458.8,167.7 452.2,171.1" fill="none"/><polygon points="400.6,175.3 407.5,171 401.8,169.3 394.9,173.5" fill="#12a52c" stroke="none"/><polygon points="400.6,175.3 407.5,171 401.8,169.3 399.4,170.8 400.5,175.3" fill="#2ee02a" stroke="none"/><polygon points="400.6,175.3 407.5,171 401.8,169.3 394.9,173.5" fill="none"/><polygon points="381,183.7 387.9,178.2 382.3,175.7 375.4,181.1" fill="#0d6e30"/><polygon points="413.3,172.4 420.2,170.7 414.4,169.4 407.5,171" fill="#2ee02a" stroke="none"/><polygon points="413.3,172.4 420.2,170.7 414.4,169.4 411.6,170 409.6,171.5" fill="#f0f00f" stroke="none"/><polygon points="413.3,172.4 420.2,170.7 414.4,169.4 407.5,171" fill="none"/><polygon points="426,172.1 432.8,172.7 426.9,171.3 420.2,170.7" fill="#f0f00f" stroke="none"/><polygon points="426,172.1 432.8,172.7 426.9,171.3 425.3,171.1 423.7,171.6" fill="#ff8a10" stroke="none"/><polygon points="426,172.1 432.8,172.7 426.9,171.3 420.2,170.7" fill="none"/><polygon points="438.7,174.3 445.4,173.5 439.5,171.9 432.8,172.7" fill="#2ee02a" stroke="none"/><polygon points="438.7,174.3 441,174 440.5,172.1 439.5,171.9 432.8,172.7" fill="#f0f00f" stroke="none"/><polygon points="434,172.6 432.8,172.7 434.1,173.1" fill="#ff8a10" stroke="none"/><polygon points="438.7,174.3 445.4,173.5 439.5,171.9 432.8,172.7" fill="none"/><polygon points="451.4,175.2 458.1,172.9 452.2,171.1 445.4,173.5" fill="#2ee02a"/><polygon points="393.6,180.2 400.6,175.3 394.9,173.5 387.9,178.2" fill="#0d6e30" stroke="none"/><polygon points="394.1,179.8 400.6,175.3 394.9,173.5 391.9,175.5" fill="#12a52c" stroke="none"/><polygon points="400.5,175.4 400.6,175.3 400.5,175.3" fill="#2ee02a" stroke="none"/><polygon points="393.6,180.2 400.6,175.3 394.9,173.5 387.9,178.2" fill="none"/><polygon points="406.3,176.9 413.3,172.4 407.5,171 400.6,175.3" fill="#2ee02a" stroke="none"/><polygon points="408.3,175.6 413.3,172.4 409.6,171.5" fill="#f0f00f" stroke="none"/><polygon points="406.3,176.9 413.3,172.4 407.5,171 400.6,175.3" fill="none"/><polygon points="386.6,185.8 393.6,180.2 387.9,178.2 381,183.7" fill="#0d6e30"/><polygon points="419.1,173.6 426,172.1 420.2,170.7 413.3,172.4" fill="#f0f00f" stroke="none"/><polygon points="419.1,173.6 426,172.1 423.7,171.6 419,173.6" fill="#ff8a10" stroke="none"/><polygon points="419.1,173.6 426,172.1 420.2,170.7 413.3,172.4" fill="none"/><polygon points="431.9,173.4 438.7,174.3 432.8,172.7 426,172.1" fill="#f0f00f" stroke="none"/><polygon points="431.9,173.4 434.3,173.8 434.1,173.1 432.8,172.7 426,172.1" fill="#ff8a10" stroke="none"/><polygon points="431.9,173.4 438.7,174.3 432.8,172.7 426,172.1" fill="none"/><polygon points="444.7,175.9 451.4,175.2 445.4,173.5 438.7,174.3" fill="#2ee02a" stroke="none"/><polygon points="441,174 438.7,174.3 440.8,174.9" fill="#f0f00f" stroke="none"/><polygon points="444.7,175.9 451.4,175.2 445.4,173.5 438.7,174.3" fill="none"/><polygon points="399.3,181.8 406.3,176.9 400.6,175.3 393.6,180.2" fill="#0d6e30" stroke="none"/><polygon points="399.3,181.8 406.3,176.9 400.6,175.3 394.1,179.8 394.2,180.4" fill="#12a52c" stroke="none"/><polygon points="401,180.7 406.3,176.9 400.6,175.3 400.5,175.4" fill="#2ee02a" stroke="none"/><polygon points="399.3,181.8 406.3,176.9 400.6,175.3 393.6,180.2" fill="none"/><polygon points="412.1,178.2 419.1,173.6 413.3,172.4 406.3,176.9" fill="#2ee02a" stroke="none"/><polygon points="412.1,178.2 419.1,173.6 413.3,172.4 408.3,175.6 407.3,177.1" fill="#f0f00f" stroke="none"/><polygon points="418.7,173.9 419.1,173.6 419,173.6" fill="#ff8a10" stroke="none"/><polygon points="412.1,178.2 419.1,173.6 413.3,172.4 406.3,176.9" fill="none"/><polygon points="392.3,187.4 399.3,181.8 393.6,180.2 386.6,185.8" fill="#0d6e30" stroke="none"/><polygon points="392.3,187.4 399.3,181.8 394.2,180.4 390.2,186.8" fill="#12a52c" stroke="none"/><polygon points="392.3,187.4 399.3,181.8 393.6,180.2 386.6,185.8" fill="none"/><polygon points="425,174.8 431.9,173.4 426,172.1 419.1,173.6" fill="#ff8a10"/><polygon points="437.9,174.8 444.7,175.9 438.7,174.3 431.9,173.4" fill="#2ee02a" stroke="none"/><polygon points="437.9,174.8 441,175.3 440.8,174.9 438.7,174.3 431.9,173.4" fill="#f0f00f" stroke="none"/><polygon points="434.3,173.8 431.9,173.4 434.5,174" fill="#ff8a10" stroke="none"/><polygon points="437.9,174.8 444.7,175.9 438.7,174.3 431.9,173.4" fill="none"/><polygon points="405.1,183.1 412.1,178.2 406.3,176.9 399.3,181.8" fill="#12a52c" stroke="none"/><polygon points="405.1,183.1 412.1,178.2 406.3,176.9 401,180.7 400.5,182.1" fill="#2ee02a" stroke="none"/><polygon points="405.1,183.1 412.1,178.2 407.3,177.1 404.7,183" fill="#f0f00f" stroke="none"/><polygon points="405.1,183.1 412.1,178.2 406.3,176.9 399.3,181.8" fill="none"/><polygon points="418,179.4 425,174.8 419.1,173.6 412.1,178.2" fill="#f0f00f" stroke="none"/><polygon points="418,179.4 425,174.8 419.1,173.6 418.7,173.9 414.2,178.6" fill="#ff8a10" stroke="none"/><polygon points="418,179.4 425,174.8 419.1,173.6 412.1,178.2" fill="none"/><polygon points="398,188.7 405.1,183.1 399.3,181.8 392.3,187.4" fill="#12a52c" stroke="none"/><polygon points="398,188.7 405.1,183.1 400.5,182.1 396.9,188.4" fill="#2ee02a" stroke="none"/><polygon points="404.4,183.7 405.1,183.1 404.7,183" fill="#f0f00f" stroke="none"/><polygon points="398,188.7 405.1,183.1 399.3,181.8 392.3,187.4" fill="none"/><polygon points="431,176 437.9,174.8 431.9,173.4 425,174.8" fill="#f0f00f" stroke="none"/><polygon points="431,176 435.3,175.2 434.5,174 431.9,173.4 425,174.8" fill="#ff8a10" stroke="none"/><polygon points="431,176 437.9,174.8 431.9,173.4 425,174.8" fill="none"/><polygon points="411,184.2 418,179.4 412.1,178.2 405.1,183.1" fill="#f0f00f" stroke="none"/><polygon points="412.8,182.9 418,179.4 414.2,178.6" fill="#ff8a10" stroke="none"/><polygon points="411,184.2 418,179.4 412.1,178.2 405.1,183.1" fill="none"/><polygon points="424,180.4 431,176 425,174.8 418,179.4" fill="#ff8a10" stroke="none"/><polygon points="424,180.4 428.6,177.4 421.8,180" fill="#ec0c0c" stroke="none"/><polygon points="424,180.4 431,176 425,174.8 418,179.4" fill="none"/><polygon points="403.9,189.6 411,184.2 405.1,183.1 398,188.7" fill="#2ee02a" stroke="none"/><polygon points="403.9,189.6 411,184.2 405.1,183.1 404.4,183.7 401.5,189.2" fill="#f0f00f" stroke="none"/><polygon points="403.9,189.6 411,184.2 405.1,183.1 398,188.7" fill="none"/><polygon points="416.9,185 424,180.4 418,179.4 411,184.2" fill="#f0f00f" stroke="none"/><polygon points="416.9,185 424,180.4 418,179.4 412.8,182.9 412.7,184.4" fill="#ff8a10" stroke="none"/><polygon points="421.6,181.9 424,180.4 421.8,180" fill="#ec0c0c" stroke="none"/><polygon points="416.9,185 424,180.4 418,179.4 411,184.2" fill="none"/><polygon points="409.8,190.4 416.9,185 411,184.2 403.9,189.6" fill="#f0f00f" stroke="none"/><polygon points="412.3,188.5 416.9,185 412.7,184.4" fill="#ff8a10" stroke="none"/><polygon points="409.8,190.4 416.9,185 411,184.2 403.9,189.6" fill="none"/></g><g><line x1="186.5" y1="444.2" x2="180.9" y2="317.5" stroke="#e1e1e1" stroke-width="0.8"/><line x1="276.1" y1="511.9" x2="186.5" y2="444.2" stroke="#e1e1e1" stroke-width="0.8"/><line x1="196.8" y1="439.5" x2="191.8" y2="313.2" stroke="#e1e1e1" stroke-width="0.8"/><line x1="286.9" y1="506.5" x2="196.8" y2="439.5" stroke="#e1e1e1" stroke-width="0.8"/><line x1="207" y1="434.9" x2="202.5" y2="308.9" stroke="#e1e1e1" stroke-width="0.8"/><line x1="297.5" y1="501.1" x2="207" y2="434.9" stroke="#e1e1e1" stroke-width="0.8"/><line x1="217.1" y1="430.3" x2="213.2" y2="304.7" stroke="#e1e1e1" stroke-width="0.8"/><line x1="308.1" y1="495.8" x2="217.1" y2="430.3" stroke="#e1e1e1" stroke-width="0.8"/><line x1="227.2" y1="425.7" x2="223.7" y2="300.5" stroke="#e1e1e1" stroke-width="0.8"/><line x1="318.5" y1="490.5" x2="227.2" y2="425.7" stroke="#e1e1e1" stroke-width="0.8"/><line x1="237.1" y1="421.2" x2="234.1" y2="296.3" stroke="#e1e1e1" stroke-width="0.8"/><line x1="328.9" y1="485.3" x2="237.1" y2="421.2" stroke="#e1e1e1" stroke-width="0.8"/><line x1="247" y1="416.7" x2="244.5" y2="292.2" stroke="#e1e1e1" stroke-width="0.8"/><line x1="339.1" y1="480.1" x2="247" y2="416.7" stroke="#e1e1e1" stroke-width="0.8"/><line x1="256.7" y1="412.3" x2="254.7" y2="288.2" stroke="#e1e1e1" stroke-width="0.8"/><line x1="349.2" y1="475" x2="256.7" y2="412.3" stroke="#e1e1e1" stroke-width="0.8"/><line x1="266.4" y1="407.9" x2="264.9" y2="284.1" stroke="#e1e1e1" stroke-width="0.8"/><line x1="359.3" y1="469.9" x2="266.4" y2="407.9" stroke="#e1e1e1" stroke-width="0.8"/><line x1="276" y1="403.5" x2="274.9" y2="280.1" stroke="#e1e1e1" stroke-width="0.8"/><line x1="369.2" y1="464.9" x2="276" y2="403.5" stroke="#e1e1e1" stroke-width="0.8"/><line x1="285.5" y1="399.2" x2="284.9" y2="276.2" stroke="#e1e1e1" stroke-width="0.8"/><line x1="379.1" y1="459.9" x2="285.5" y2="399.2" stroke="#e1e1e1" stroke-width="0.8"/><line x1="294.9" y1="394.9" x2="294.8" y2="272.2" stroke="#e1e1e1" stroke-width="0.8"/><line x1="388.8" y1="455" x2="294.9" y2="394.9" stroke="#e1e1e1" stroke-width="0.8"/><line x1="388.8" y1="455" x2="393.5" y2="324.8" stroke="#e1e1e1" stroke-width="0.8"/><line x1="276.1" y1="511.9" x2="388.8" y2="455" stroke="#e1e1e1" stroke-width="0.8"/><line x1="378.7" y1="448.6" x2="382.9" y2="319.1" stroke="#e1e1e1" stroke-width="0.8"/><line x1="266.5" y1="504.6" x2="378.7" y2="448.6" stroke="#e1e1e1" stroke-width="0.8"/><line x1="368.8" y1="442.2" x2="372.4" y2="313.6" stroke="#e1e1e1" stroke-width="0.8"/><line x1="257" y1="497.5" x2="368.8" y2="442.2" stroke="#e1e1e1" stroke-width="0.8"/><line x1="359.1" y1="436" x2="362.2" y2="308.1" stroke="#e1e1e1" stroke-width="0.8"/><line x1="247.6" y1="490.4" x2="359.1" y2="436" stroke="#e1e1e1" stroke-width="0.8"/><line x1="349.5" y1="429.8" x2="352" y2="302.7" stroke="#e1e1e1" stroke-width="0.8"/><line x1="238.5" y1="483.5" x2="349.5" y2="429.8" stroke="#e1e1e1" stroke-width="0.8"/><line x1="340" y1="423.8" x2="342.1" y2="297.4" stroke="#e1e1e1" stroke-width="0.8"/><line x1="229.4" y1="476.7" x2="340" y2="423.8" stroke="#e1e1e1" stroke-width="0.8"/><line x1="330.7" y1="417.8" x2="332.3" y2="292.2" stroke="#e1e1e1" stroke-width="0.8"/><line x1="220.6" y1="470" x2="330.7" y2="417.8" stroke="#e1e1e1" stroke-width="0.8"/><line x1="321.5" y1="412" x2="322.7" y2="287.1" stroke="#e1e1e1" stroke-width="0.8"/><line x1="211.8" y1="463.4" x2="321.5" y2="412" stroke="#e1e1e1" stroke-width="0.8"/><line x1="312.5" y1="406.2" x2="313.2" y2="282.1" stroke="#e1e1e1" stroke-width="0.8"/><line x1="203.3" y1="456.9" x2="312.5" y2="406.2" stroke="#e1e1e1" stroke-width="0.8"/><line x1="303.7" y1="400.5" x2="303.9" y2="277.1" stroke="#e1e1e1" stroke-width="0.8"/><line x1="194.8" y1="450.5" x2="303.7" y2="400.5" stroke="#e1e1e1" stroke-width="0.8"/><line x1="294.9" y1="394.9" x2="294.8" y2="272.2" stroke="#e1e1e1" stroke-width="0.8"/><line x1="186.5" y1="444.2" x2="294.9" y2="394.9" stroke="#e1e1e1" stroke-width="0.8"/><line x1="186.5" y1="444.2" x2="294.9" y2="394.9" stroke="#e1e1e1" stroke-width="0.8"/><line x1="294.9" y1="394.9" x2="388.8" y2="455" stroke="#e1e1e1" stroke-width="0.8"/><line x1="185.8" y1="429.1" x2="294.9" y2="380.2" stroke="#e1e1e1" stroke-width="0.8"/><line x1="294.9" y1="380.2" x2="389.4" y2="439.4" stroke="#e1e1e1" stroke-width="0.8"/><line x1="185.2" y1="413.7" x2="294.9" y2="365.3" stroke="#e1e1e1" stroke-width="0.8"/><line x1="294.9" y1="365.3" x2="390" y2="423.7" stroke="#e1e1e1" stroke-width="0.8"/><line x1="184.5" y1="398.2" x2="294.9" y2="350.2" stroke="#e1e1e1" stroke-width="0.8"/><line x1="294.9" y1="350.2" x2="390.5" y2="407.7" stroke="#e1e1e1" stroke-width="0.8"/><line x1="183.8" y1="382.4" x2="294.9" y2="335" stroke="#e1e1e1" stroke-width="0.8"/><line x1="294.9" y1="335" x2="391.1" y2="391.5" stroke="#e1e1e1" stroke-width="0.8"/><line x1="183.1" y1="366.5" x2="294.8" y2="319.6" stroke="#e1e1e1" stroke-width="0.8"/><line x1="294.8" y1="319.6" x2="391.7" y2="375.2" stroke="#e1e1e1" stroke-width="0.8"/><line x1="182.4" y1="350.4" x2="294.8" y2="304" stroke="#e1e1e1" stroke-width="0.8"/><line x1="294.8" y1="304" x2="392.3" y2="358.6" stroke="#e1e1e1" stroke-width="0.8"/><line x1="181.7" y1="334" x2="294.8" y2="288.2" stroke="#e1e1e1" stroke-width="0.8"/><line x1="294.8" y1="288.2" x2="392.9" y2="341.8" stroke="#e1e1e1" stroke-width="0.8"/><line x1="180.9" y1="317.5" x2="294.8" y2="272.2" stroke="#e1e1e1" stroke-width="0.8"/><line x1="294.8" y1="272.2" x2="393.5" y2="324.8" stroke="#e1e1e1" stroke-width="0.8"/><line x1="388.8" y1="455" x2="393.5" y2="324.8" stroke="#e1e1e1" stroke-width="0.8"/></g><g><line x1="186.5" y1="444.2" x2="180.9" y2="317.5" stroke="#1a1a1a" stroke-width="0.9"/><line x1="186.5" y1="444.2" x2="276.1" y2="511.9" stroke="#1a1a1a" stroke-width="0.9"/><line x1="276.1" y1="511.9" x2="388.8" y2="455" stroke="#1a1a1a" stroke-width="0.9"/><line x1="186.5" y1="444.2" x2="185" y2="444.9" stroke="#1a1a1a" stroke-width="0.55"/><line x1="186.4" y1="441.2" x2="184.9" y2="441.9" stroke="#1a1a1a" stroke-width="0.55"/><line x1="186.2" y1="438.2" x2="184.8" y2="438.9" stroke="#1a1a1a" stroke-width="0.55"/><line x1="186.1" y1="435.1" x2="184.6" y2="435.8" stroke="#1a1a1a" stroke-width="0.55"/><line x1="186" y1="432.1" x2="184.5" y2="432.8" stroke="#1a1a1a" stroke-width="0.55"/><line x1="185.8" y1="429.1" x2="184.3" y2="429.7" stroke="#1a1a1a" stroke-width="0.55"/><line x1="185.7" y1="426" x2="184.2" y2="426.7" stroke="#1a1a1a" stroke-width="0.55"/><line x1="185.6" y1="422.9" x2="184.1" y2="423.6" stroke="#1a1a1a" stroke-width="0.55"/><line x1="185.4" y1="419.9" x2="183.9" y2="420.5" stroke="#1a1a1a" stroke-width="0.55"/><line x1="185.3" y1="416.8" x2="183.8" y2="417.4" stroke="#1a1a1a" stroke-width="0.55"/><line x1="185.2" y1="413.7" x2="183.7" y2="414.4" stroke="#1a1a1a" stroke-width="0.55"/><line x1="185" y1="410.6" x2="183.5" y2="411.3" stroke="#1a1a1a" stroke-width="0.55"/><line x1="184.9" y1="407.5" x2="183.4" y2="408.2" stroke="#1a1a1a" stroke-width="0.55"/><line x1="184.8" y1="404.4" x2="183.2" y2="405.1" stroke="#1a1a1a" stroke-width="0.55"/><line x1="184.6" y1="401.3" x2="183.1" y2="401.9" stroke="#1a1a1a" stroke-width="0.55"/><line x1="184.5" y1="398.2" x2="183" y2="398.8" stroke="#1a1a1a" stroke-width="0.55"/><line x1="184.3" y1="395" x2="182.8" y2="395.7" stroke="#1a1a1a" stroke-width="0.55"/><line x1="184.2" y1="391.9" x2="182.7" y2="392.5" stroke="#1a1a1a" stroke-width="0.55"/><line x1="184.1" y1="388.7" x2="182.5" y2="389.4" stroke="#1a1a1a" stroke-width="0.55"/><line x1="183.9" y1="385.6" x2="182.4" y2="386.2" stroke="#1a1a1a" stroke-width="0.55"/><line x1="183.8" y1="382.4" x2="182.3" y2="383.1" stroke="#1a1a1a" stroke-width="0.55"/><line x1="183.6" y1="379.2" x2="182.1" y2="379.9" stroke="#1a1a1a" stroke-width="0.55"/><line x1="183.5" y1="376.1" x2="182" y2="376.7" stroke="#1a1a1a" stroke-width="0.55"/><line x1="183.4" y1="372.9" x2="181.8" y2="373.5" stroke="#1a1a1a" stroke-width="0.55"/><line x1="183.2" y1="369.7" x2="181.7" y2="370.3" stroke="#1a1a1a" stroke-width="0.55"/><line x1="183.1" y1="366.5" x2="181.6" y2="367.1" stroke="#1a1a1a" stroke-width="0.55"/><line x1="182.9" y1="363.3" x2="181.4" y2="363.9" stroke="#1a1a1a" stroke-width="0.55"/><line x1="182.8" y1="360.1" x2="181.3" y2="360.7" stroke="#1a1a1a" stroke-width="0.55"/><line x1="182.7" y1="356.8" x2="181.1" y2="357.5" stroke="#1a1a1a" stroke-width="0.55"/><line x1="182.5" y1="353.6" x2="181" y2="354.2" stroke="#1a1a1a" stroke-width="0.55"/><line x1="182.4" y1="350.4" x2="180.8" y2="351" stroke="#1a1a1a" stroke-width="0.55"/><line x1="182.2" y1="347.1" x2="180.7" y2="347.7" stroke="#1a1a1a" stroke-width="0.55"/><line x1="182.1" y1="343.9" x2="180.5" y2="344.5" stroke="#1a1a1a" stroke-width="0.55"/><line x1="181.9" y1="340.6" x2="180.4" y2="341.2" stroke="#1a1a1a" stroke-width="0.55"/><line x1="181.8" y1="337.3" x2="180.3" y2="337.9" stroke="#1a1a1a" stroke-width="0.55"/><line x1="181.7" y1="334" x2="180.1" y2="334.7" stroke="#1a1a1a" stroke-width="0.55"/><line x1="181.5" y1="330.7" x2="180" y2="331.4" stroke="#1a1a1a" stroke-width="0.55"/><line x1="181.4" y1="327.4" x2="179.8" y2="328.1" stroke="#1a1a1a" stroke-width="0.55"/><line x1="181.2" y1="324.1" x2="179.7" y2="324.8" stroke="#1a1a1a" stroke-width="0.55"/><line x1="181.1" y1="320.8" x2="179.5" y2="321.4" stroke="#1a1a1a" stroke-width="0.55"/><line x1="180.9" y1="317.5" x2="179.4" y2="318.1" stroke="#1a1a1a" stroke-width="0.55"/><line x1="276.1" y1="511.9" x2="273.8" y2="513.1" stroke="#1a1a1a" stroke-width="0.7"/><line x1="266.5" y1="504.6" x2="264.2" y2="505.8" stroke="#1a1a1a" stroke-width="0.7"/><line x1="257" y1="497.5" x2="254.7" y2="498.6" stroke="#1a1a1a" stroke-width="0.7"/><line x1="247.6" y1="490.4" x2="245.3" y2="491.5" stroke="#1a1a1a" stroke-width="0.7"/><line x1="238.5" y1="483.5" x2="236.2" y2="484.6" stroke="#1a1a1a" stroke-width="0.7"/><line x1="229.4" y1="476.7" x2="227.2" y2="477.8" stroke="#1a1a1a" stroke-width="0.7"/><line x1="220.6" y1="470" x2="218.3" y2="471" stroke="#1a1a1a" stroke-width="0.7"/><line x1="211.8" y1="463.4" x2="209.6" y2="464.4" stroke="#1a1a1a" stroke-width="0.7"/><line x1="203.3" y1="456.9" x2="201" y2="457.9" stroke="#1a1a1a" stroke-width="0.7"/><line x1="194.8" y1="450.5" x2="192.6" y2="451.5" stroke="#1a1a1a" stroke-width="0.7"/><line x1="186.5" y1="444.2" x2="184.3" y2="445.2" stroke="#1a1a1a" stroke-width="0.7"/><line x1="276.1" y1="511.9" x2="278" y2="513.4" stroke="#1a1a1a" stroke-width="0.7"/><line x1="286.9" y1="506.5" x2="288.8" y2="507.9" stroke="#1a1a1a" stroke-width="0.7"/><line x1="297.5" y1="501.1" x2="299.5" y2="502.5" stroke="#1a1a1a" stroke-width="0.7"/><line x1="308.1" y1="495.8" x2="310" y2="497.2" stroke="#1a1a1a" stroke-width="0.7"/><line x1="318.5" y1="490.5" x2="320.5" y2="491.9" stroke="#1a1a1a" stroke-width="0.7"/><line x1="328.9" y1="485.3" x2="330.8" y2="486.7" stroke="#1a1a1a" stroke-width="0.7"/><line x1="339.1" y1="480.1" x2="341" y2="481.5" stroke="#1a1a1a" stroke-width="0.7"/><line x1="349.2" y1="475" x2="351.2" y2="476.3" stroke="#1a1a1a" stroke-width="0.7"/><line x1="359.3" y1="469.9" x2="361.2" y2="471.3" stroke="#1a1a1a" stroke-width="0.7"/><line x1="369.2" y1="464.9" x2="371.2" y2="466.2" stroke="#1a1a1a" stroke-width="0.7"/><line x1="379.1" y1="459.9" x2="381" y2="461.2" stroke="#1a1a1a" stroke-width="0.7"/><line x1="388.8" y1="455" x2="390.8" y2="456.3" stroke="#1a1a1a" stroke-width="0.7"/></g><g><text transform="matrix(0.969,-0.248,0.000,1.000,179.8,433.4)" font-family="Liberation Sans, sans-serif" font-size="7.9" font-weight="normal" fill="#333" text-anchor="end" dominant-baseline="central">1.0</text><text transform="matrix(0.969,-0.248,0.000,1.000,179.1,418)" font-family="Liberation Sans, sans-serif" font-size="7.9" font-weight="normal" fill="#333" text-anchor="end" dominant-baseline="central">1.5</text><text transform="matrix(0.969,-0.248,0.000,1.000,178.4,402.4)" font-family="Liberation Sans, sans-serif" font-size="7.9" font-weight="normal" fill="#333" text-anchor="end" dominant-baseline="central">2.0</text><text transform="matrix(0.969,-0.248,0.000,1.000,177.7,386.7)" font-family="Liberation Sans, sans-serif" font-size="7.9" font-weight="normal" fill="#333" text-anchor="end" dominant-baseline="central">2.5</text><text transform="matrix(0.969,-0.248,0.000,1.000,177,370.7)" font-family="Liberation Sans, sans-serif" font-size="7.9" font-weight="normal" fill="#333" text-anchor="end" dominant-baseline="central">3.0</text><text transform="matrix(0.969,-0.248,0.000,1.000,176.2,354.6)" font-family="Liberation Sans, sans-serif" font-size="7.9" font-weight="normal" fill="#333" text-anchor="end" dominant-baseline="central">3.5</text><text transform="matrix(0.969,-0.248,0.000,1.000,175.5,338.2)" font-family="Liberation Sans, sans-serif" font-size="7.9" font-weight="normal" fill="#333" text-anchor="end" dominant-baseline="central">4.0</text><text transform="matrix(0.969,-0.248,0.000,1.000,174.7,321.7)" font-family="Liberation Sans, sans-serif" font-size="7.9" font-weight="normal" fill="#333" text-anchor="end" dominant-baseline="central">4.5</text><text transform="matrix(0.893,-0.451,0.622,0.470,270.8,514.7)" font-family="Liberation Sans, sans-serif" font-size="8.4" font-weight="normal" fill="#333" text-anchor="end" dominant-baseline="central">0.15</text><text transform="matrix(0.895,-0.447,0.622,0.470,261.1,507.3)" font-family="Liberation Sans, sans-serif" font-size="8.4" font-weight="normal" fill="#333" text-anchor="end" dominant-baseline="central">0.20</text><text transform="matrix(0.897,-0.443,0.622,0.470,251.7,500.1)" font-family="Liberation Sans, sans-serif" font-size="8.4" font-weight="normal" fill="#333" text-anchor="end" dominant-baseline="central">0.25</text><text transform="matrix(0.898,-0.439,0.622,0.470,242.3,493)" font-family="Liberation Sans, sans-serif" font-size="8.4" font-weight="normal" fill="#333" text-anchor="end" dominant-baseline="central">0.30</text><text transform="matrix(0.900,-0.435,0.622,0.470,233.2,486)" font-family="Liberation Sans, sans-serif" font-size="8.4" font-weight="normal" fill="#333" text-anchor="end" dominant-baseline="central">0.35</text><text transform="matrix(0.902,-0.432,0.622,0.470,224.2,479.2)" font-family="Liberation Sans, sans-serif" font-size="8.4" font-weight="normal" fill="#333" text-anchor="end" dominant-baseline="central">0.40</text><text transform="matrix(0.904,-0.428,0.622,0.470,215.3,472.4)" font-family="Liberation Sans, sans-serif" font-size="8.4" font-weight="normal" fill="#333" text-anchor="end" dominant-baseline="central">0.45</text><text transform="matrix(0.905,-0.424,0.622,0.470,206.6,465.8)" font-family="Liberation Sans, sans-serif" font-size="8.4" font-weight="normal" fill="#333" text-anchor="end" dominant-baseline="central">0.50</text><text transform="matrix(0.907,-0.421,0.622,0.470,198.1,459.3)" font-family="Liberation Sans, sans-serif" font-size="8.4" font-weight="normal" fill="#333" text-anchor="end" dominant-baseline="central">0.55</text><text transform="matrix(0.909,-0.417,0.622,0.470,189.7,452.9)" font-family="Liberation Sans, sans-serif" font-size="8.4" font-weight="normal" fill="#333" text-anchor="end" dominant-baseline="central">0.60</text><text transform="matrix(0.910,-0.414,0.622,0.470,181.4,446.6)" font-family="Liberation Sans, sans-serif" font-size="8.4" font-weight="normal" fill="#333" text-anchor="end" dominant-baseline="central">0.65</text><text transform="matrix(0.798,0.603,-0.669,0.338,281.5,516)" font-family="Liberation Sans, sans-serif" font-size="8.4" font-weight="normal" fill="#333" text-anchor="start" dominant-baseline="central">0.16</text><text transform="matrix(0.803,0.597,-0.669,0.338,292.3,510.5)" font-family="Liberation Sans, sans-serif" font-size="8.4" font-weight="normal" fill="#333" text-anchor="start" dominant-baseline="central">0.18</text><text transform="matrix(0.807,0.591,-0.669,0.338,303,505.1)" font-family="Liberation Sans, sans-serif" font-size="8.4" font-weight="normal" fill="#333" text-anchor="start" dominant-baseline="central">0.20</text><text transform="matrix(0.811,0.585,-0.669,0.338,313.5,499.7)" font-family="Liberation Sans, sans-serif" font-size="8.4" font-weight="normal" fill="#333" text-anchor="start" dominant-baseline="central">0.22</text><text transform="matrix(0.816,0.579,-0.669,0.338,324,494.4)" font-family="Liberation Sans, sans-serif" font-size="8.4" font-weight="normal" fill="#333" text-anchor="start" dominant-baseline="central">0.24</text><text transform="matrix(0.820,0.573,-0.669,0.338,334.4,489.1)" font-family="Liberation Sans, sans-serif" font-size="8.4" font-weight="normal" fill="#333" text-anchor="start" dominant-baseline="central">0.26</text><text transform="matrix(0.824,0.567,-0.669,0.338,344.6,483.9)" font-family="Liberation Sans, sans-serif" font-size="8.4" font-weight="normal" fill="#333" text-anchor="start" dominant-baseline="central">0.28</text><text transform="matrix(0.828,0.561,-0.669,0.338,354.8,478.8)" font-family="Liberation Sans, sans-serif" font-size="8.4" font-weight="normal" fill="#333" text-anchor="start" dominant-baseline="central">0.30</text><text transform="matrix(0.831,0.556,-0.669,0.338,364.8,473.7)" font-family="Liberation Sans, sans-serif" font-size="8.4" font-weight="normal" fill="#333" text-anchor="start" dominant-baseline="central">0.32</text><text transform="matrix(0.835,0.550,-0.669,0.338,374.8,468.6)" font-family="Liberation Sans, sans-serif" font-size="8.4" font-weight="normal" fill="#333" text-anchor="start" dominant-baseline="central">0.34</text><text transform="matrix(0.839,0.544,-0.669,0.338,384.7,463.6)" font-family="Liberation Sans, sans-serif" font-size="8.4" font-weight="normal" fill="#333" text-anchor="start" dominant-baseline="central">0.36</text><text transform="matrix(0.842,0.539,-0.669,0.338,394.4,458.6)" font-family="Liberation Sans, sans-serif" font-size="8.4" font-weight="normal" fill="#333" text-anchor="start" dominant-baseline="central">0.38</text><text transform="matrix(0.798,0.603,-0.857,0.410,198,493)" font-family="Liberation Sans, sans-serif" font-size="8.6" font-weight="bold" fill="#111" text-anchor="middle" dominant-baseline="central">Depth of cut (mm)</text><text transform="matrix(0.893,-0.451,0.781,0.541,359,503)" font-family="Liberation Sans, sans-serif" font-size="9.5" font-weight="bold" fill="#111" text-anchor="middle" dominant-baseline="central">Feed rate (mm/rev)</text><text transform="matrix(0.050,1.000,-1.000,0.050,155,392.5)" font-family="Liberation Sans, sans-serif" font-size="9.3" font-weight="bold" fill="#111" text-anchor="middle" dominant-baseline="central">Surface roughness</text></g><g stroke="#1c1c08" stroke-width="0.6" stroke-linejoin="round"><polygon points="293.8,318.8 300.1,311.1 294.8,309.3 288.5,316.4" fill="#ed0406"/><polygon points="287.5,325.9 293.8,318.8 288.5,316.4 282.3,323.1" fill="#f30904"/><polygon points="281.2,332.7 287.5,325.9 282.3,323.1 275.9,329.6" fill="#f91f01"/><polygon points="274.8,339.2 281.2,332.7 275.9,329.6 269.6,335.9" fill="#fd5300"/><polygon points="299.1,320.8 305.5,312.5 300.1,311.1 293.8,318.8" fill="#ec0306"/><polygon points="268.4,345.6 274.8,339.2 269.6,335.9 263.3,342.1" fill="#ff8800"/><polygon points="292.8,328.4 299.1,320.8 293.8,318.8 287.5,325.9" fill="#f20505"/><polygon points="262.1,352 268.4,345.6 263.3,342.1 256.9,348.3" fill="#fdba00"/><polygon points="286.5,335.5 292.8,328.4 287.5,325.9 281.2,332.7" fill="#f81d01"/><polygon points="280.1,342.1 286.5,335.5 281.2,332.7 274.8,339.2" fill="#fd5200"/><polygon points="255.6,358.6 262.1,352 256.9,348.3 250.5,354.7" fill="#f6e700"/><polygon points="304.5,322.4 310.9,313.5 305.5,312.5 299.1,320.8" fill="#ea0306"/><polygon points="249.2,365.4 255.6,358.6 250.5,354.7 244.1,361.4" fill="#daf000"/><polygon points="273.7,348.7 280.1,342.1 274.8,339.2 268.4,345.6" fill="#ff8900"/><polygon points="298.2,330.4 304.5,322.4 299.1,320.8 292.8,328.4" fill="#f10505"/><polygon points="242.8,372.6 249.2,365.4 244.1,361.4 237.7,368.4" fill="#b3ef00"/><polygon points="267.3,355.5 273.7,348.7 268.4,345.6 262.1,352" fill="#fdbd00"/><polygon points="291.8,338 298.2,330.4 292.8,328.4 286.5,335.5" fill="#f71902"/><polygon points="236.3,380.3 242.8,372.6 237.7,368.4 231.2,376.1" fill="#7dec00"/><polygon points="260.8,362.3 267.3,355.5 262.1,352 255.6,358.6" fill="#f6ec00"/><polygon points="285.4,344.8 291.8,338 286.5,335.5 280.1,342.1" fill="#fd4b00"/><polygon points="229.9,388.4 236.3,380.3 231.2,376.1 224.8,384.2" fill="#42ed00"/><polygon points="254.4,369.2 260.8,362.3 255.6,358.6 249.2,365.4" fill="#d5f000"/><polygon points="223.4,396.5 229.9,388.4 224.8,384.2 218.4,392.4" fill="#17e803"/><polygon points="279,351.6 285.4,344.8 280.1,342.1 273.7,348.7" fill="#ff8600"/><polygon points="310,323.6 316.4,314 310.9,313.5 304.5,322.4" fill="#e70207"/><polygon points="216.9,404.4 223.4,396.5 218.4,392.4 211.9,400.6" fill="#05d80a"/><polygon points="247.9,376.5 254.4,369.2 249.2,365.4 242.8,372.6" fill="#abef00"/><polygon points="303.6,332.1 310,323.6 304.5,322.4 298.2,330.4" fill="#ef0405"/><polygon points="272.5,358.6 279,351.6 273.7,348.7 267.3,355.5" fill="#fdbc00"/><polygon points="210.4,411.9 216.9,404.4 211.9,400.6 205.5,408.2" fill="#07be16"/><polygon points="241.5,384.4 247.9,376.5 242.8,372.6 236.3,380.3" fill="#75ec00"/><polygon points="297.2,340 303.6,332.1 298.2,330.4 291.8,338" fill="#f61403"/><polygon points="266.1,365.7 272.5,358.6 267.3,355.5 260.8,362.3" fill="#f5ee00"/><polygon points="203.9,418.7 210.4,411.9 205.5,408.2 198.9,415.1" fill="#0ea324"/><polygon points="235,392.4 241.5,384.4 236.3,380.3 229.9,388.4" fill="#39ed00"/><polygon points="290.7,347.1 297.2,340 291.8,338 285.4,344.8" fill="#fc3e00"/><polygon points="228.5,400.4 235,392.4 229.9,388.4 223.4,396.5" fill="#13e703"/><polygon points="259.6,372.8 266.1,365.7 260.8,362.3 254.4,369.2" fill="#d2f000"/><polygon points="197.3,424.9 203.9,418.7 198.9,415.1 192.4,421.4" fill="#0f8e2c"/><polygon points="284.3,354.2 290.7,347.1 285.4,344.8 279,351.6" fill="#ff7d00"/><polygon points="222,408.2 228.5,400.4 223.4,396.5 216.9,404.4" fill="#05d60b"/><polygon points="253.1,380.3 259.6,372.8 254.4,369.2 247.9,376.5" fill="#a6ef00"/><polygon points="315.5,324.6 321.9,314.2 316.4,314 310,323.6" fill="#e40207"/><polygon points="277.8,361.5 284.3,354.2 279,351.6 272.5,358.6" fill="#feb700"/><polygon points="190.7,431.5 197.3,424.9 192.4,421.4 185.8,427.9" fill="#0f7c32"/><polygon points="215.5,415.6 222,408.2 216.9,404.4 210.4,411.9" fill="#07bd17"/><polygon points="309,333.6 315.5,324.6 310,323.6 303.6,332.1" fill="#ed0406"/><polygon points="246.6,388.3 253.1,380.3 247.9,376.5 241.5,384.4" fill="#6fec00"/><polygon points="302.6,341.9 309,333.6 303.6,332.1 297.2,340" fill="#f40c04"/><polygon points="271.4,368.9 277.8,361.5 272.5,358.6 266.1,365.7" fill="#f6ec00"/><polygon points="240.1,396.3 246.6,388.3 241.5,384.4 235,392.4" fill="#33ee00"/><polygon points="208.9,422.3 215.5,415.6 210.4,411.9 203.9,418.7" fill="#0ea224"/><polygon points="296.1,349.2 302.6,341.9 297.2,340 290.7,347.1" fill="#fb2c00"/><polygon points="233.6,404.1 240.1,396.3 235,392.4 228.5,400.4" fill="#10e704"/><polygon points="264.9,376.1 271.4,368.9 266.1,365.7 259.6,372.8" fill="#d2f000"/><polygon points="202.3,428.5 208.9,422.3 203.9,418.7 197.3,424.9" fill="#0f8e2c"/><polygon points="227.1,411.8 233.6,404.1 228.5,400.4 222,408.2" fill="#05d50c"/><polygon points="289.7,356.6 296.1,349.2 290.7,347.1 284.3,354.2" fill="#ff7100"/><polygon points="258.4,383.8 264.9,376.1 259.6,372.8 253.1,380.3" fill="#a4ef00"/><polygon points="220.5,419.1 227.1,411.8 222,408.2 215.5,415.6" fill="#07bc17"/><polygon points="195.6,435 202.3,428.5 197.3,424.9 190.7,431.5" fill="#0f7c32"/><polygon points="283.2,364.2 289.7,356.6 284.3,354.2 277.8,361.5" fill="#ffaf00"/><polygon points="251.9,392 258.4,383.8 253.1,380.3 246.6,388.3" fill="#6beb00"/><polygon points="321,325.5 327.5,314.5 321.9,314.2 315.5,324.6" fill="#e10108"/><polygon points="314.6,335.1 321,325.5 315.5,324.6 309,333.6" fill="#ea0306"/><polygon points="245.3,400 251.9,392 246.6,388.3 240.1,396.3" fill="#2fee00"/><polygon points="276.7,371.9 283.2,364.2 277.8,361.5 271.4,368.9" fill="#f6e700"/><polygon points="213.9,425.8 220.5,419.1 215.5,415.6 208.9,422.3" fill="#0ea224"/><polygon points="308.1,343.8 314.6,335.1 309,333.6 302.6,341.9" fill="#f20505"/><polygon points="238.8,407.8 245.3,400 240.1,396.3 233.6,404.1" fill="#0ee604"/><polygon points="270.2,379.4 276.7,371.9 271.4,368.9 264.9,376.1" fill="#d3f000"/><polygon points="301.6,351.4 308.1,343.8 302.6,341.9 296.1,349.2" fill="#f92001"/><polygon points="207.3,432 213.9,425.8 208.9,422.3 202.3,428.5" fill="#0f8f2b"/><polygon points="232.2,415.4 238.8,407.8 233.6,404.1 227.1,411.8" fill="#05d40c"/><polygon points="263.7,387.3 270.2,379.4 264.9,376.1 258.4,383.8" fill="#a4ef00"/><polygon points="295.1,359 301.6,351.4 296.1,349.2 289.7,356.6" fill="#ff6200"/><polygon points="225.6,422.6 232.2,415.4 227.1,411.8 220.5,419.1" fill="#07bc17"/><polygon points="200.6,438.5 207.3,432 202.3,428.5 195.6,435" fill="#0f7d32"/><polygon points="257.1,395.7 263.7,387.3 258.4,383.8 251.9,392" fill="#69eb00"/><polygon points="288.6,367 295.1,359 289.7,356.6 283.2,364.2" fill="#ffa500"/><polygon points="250.6,403.7 257.1,395.7 251.9,392 245.3,400" fill="#2dee00"/><polygon points="219,429.2 225.6,422.6 220.5,419.1 213.9,425.8" fill="#0ea324"/><polygon points="282.1,375 288.6,367 283.2,364.2 276.7,371.9" fill="#f7e200"/><polygon points="326.6,326.8 333.2,315.1 327.5,314.5 321,325.5" fill="#de0008"/><polygon points="320.1,336.9 326.6,326.8 321,325.5 314.6,335.1" fill="#e80207"/><polygon points="313.6,346.1 320.1,336.9 314.6,335.1 308.1,343.8" fill="#f00505"/><polygon points="244,411.4 250.6,403.7 245.3,400 238.8,407.8" fill="#0de604"/><polygon points="275.6,382.7 282.1,375 276.7,371.9 270.2,379.4" fill="#d5f000"/><polygon points="307.1,353.9 313.6,346.1 308.1,343.8 301.6,351.4" fill="#f81a01"/><polygon points="212.3,435.5 219,429.2 213.9,425.8 207.3,432" fill="#0f902b"/><polygon points="237.4,418.9 244,411.4 238.8,407.8 232.2,415.4" fill="#05d40c"/><polygon points="269,390.8 275.6,382.7 270.2,379.4 263.7,387.3" fill="#a4ef00"/><polygon points="300.6,361.8 307.1,353.9 301.6,351.4 295.1,359" fill="#fe5500"/><polygon points="230.8,426.1 237.4,418.9 232.2,415.4 225.6,422.6" fill="#07bd17"/><polygon points="262.4,399.4 269,390.8 263.7,387.3 257.1,395.7" fill="#68eb00"/><polygon points="205.7,442.1 212.3,435.5 207.3,432 200.6,438.5" fill="#0f7d31"/><polygon points="294.1,370 300.6,361.8 295.1,359 288.6,367" fill="#ff9d00"/><polygon points="255.9,407.4 262.4,399.4 257.1,395.7 250.6,403.7" fill="#2cee00"/><polygon points="224.1,432.7 230.8,426.1 225.6,422.6 219,429.2" fill="#0da423"/><polygon points="287.5,378.3 294.1,370 288.6,367 282.1,375" fill="#f8de00"/><polygon points="249.3,415.1 255.9,407.4 250.6,403.7 244,411.4" fill="#0de604"/><polygon points="325.8,339.2 332.3,328.7 326.6,326.8 320.1,336.9" fill="#e60207"/><polygon points="332.3,328.7 338.9,316.2 333.2,315.1 326.6,326.8" fill="#d80008"/><polygon points="319.2,348.8 325.8,339.2 320.1,336.9 313.6,346.1" fill="#ef0405"/><polygon points="281,386.2 287.5,378.3 282.1,375 275.6,382.7" fill="#d6f000"/><polygon points="217.4,439 224.1,432.7 219,429.2 212.3,435.5" fill="#0f912b"/><polygon points="312.7,356.8 319.2,348.8 313.6,346.1 307.1,353.9" fill="#f71602"/><polygon points="242.6,422.5 249.3,415.1 244,411.4 237.4,418.9" fill="#05d40c"/><polygon points="274.4,394.5 281,386.2 275.6,382.7 269,390.8" fill="#a4ef00"/><polygon points="306.2,364.9 312.7,356.8 307.1,353.9 300.6,361.8" fill="#fd4d00"/><polygon points="267.8,403.3 274.4,394.5 269,390.8 262.4,399.4" fill="#66eb00"/><polygon points="236,429.6 242.6,422.5 237.4,418.9 230.8,426.1" fill="#07be16"/><polygon points="210.7,445.7 217.4,439 212.3,435.5 205.7,442.1" fill="#0f7f31"/><polygon points="299.6,373.4 306.2,364.9 300.6,361.8 294.1,370" fill="#ff9900"/><polygon points="261.2,411.3 267.8,403.3 262.4,399.4 255.9,407.4" fill="#2aed00"/><polygon points="229.3,436.2 236,429.6 230.8,426.1 224.1,432.7" fill="#0da522"/><polygon points="293,382 299.6,373.4 294.1,370 287.5,378.3" fill="#f8dd00"/><polygon points="254.6,418.9 261.2,411.3 255.9,407.4 249.3,415.1" fill="#0be604"/><polygon points="331.5,342 338.1,331 332.3,328.7 325.8,339.2" fill="#e50207"/><polygon points="286.4,390.1 293,382 287.5,378.3 281,386.2" fill="#d5f000"/><polygon points="324.9,351.9 331.5,342 325.8,339.2 319.2,348.8" fill="#ee0406"/><polygon points="338.1,331 344.7,317.9 338.9,316.2 332.3,328.7" fill="#d40008"/><polygon points="222.6,442.6 229.3,436.2 224.1,432.7 217.4,439" fill="#0f922a"/><polygon points="247.9,426.2 254.6,418.9 249.3,415.1 242.6,422.5" fill="#05d40c"/><polygon points="318.3,360.1 324.9,351.9 319.2,348.8 312.7,356.8" fill="#f61502"/><polygon points="279.9,398.6 286.4,390.1 281,386.2 274.4,394.5" fill="#a1ee00"/><polygon points="311.8,368.5 318.3,360.1 312.7,356.8 306.2,364.9" fill="#fd4b00"/><polygon points="273.2,407.5 279.9,398.6 274.4,394.5 267.8,403.3" fill="#61eb00"/><polygon points="241.3,433.2 247.9,426.2 242.6,422.5 236,429.6" fill="#07be16"/><polygon points="215.9,449.3 222.6,442.6 217.4,439 210.7,445.7" fill="#0f8031"/><polygon points="305.2,377.2 311.8,368.5 306.2,364.9 299.6,373.4" fill="#ff9a00"/><polygon points="266.6,415.5 273.2,407.5 267.8,403.3 261.2,411.3" fill="#27ed01"/><polygon points="298.6,386 305.2,377.2 299.6,373.4 293,382" fill="#f7e100"/><polygon points="234.6,439.8 241.3,433.2 236,429.6 229.3,436.2" fill="#0da622"/><polygon points="260,423 266.6,415.5 261.2,411.3 254.6,418.9" fill="#09e504"/><polygon points="292,394.3 298.6,386 293,382 286.4,390.1" fill="#d1f000"/><polygon points="337.2,345.2 343.8,333.8 338.1,331 331.5,342" fill="#e40207"/><polygon points="330.6,355.5 337.2,345.2 331.5,342 324.9,351.9" fill="#ee0406"/><polygon points="343.8,333.8 350.5,320.1 344.7,317.9 338.1,331" fill="#d10009"/><polygon points="253.3,430.1 260,423 254.6,418.9 247.9,426.2" fill="#05d30c"/><polygon points="227.8,446.2 234.6,439.8 229.3,436.2 222.6,442.6" fill="#0f932a"/><polygon points="324,363.9 330.6,355.5 324.9,351.9 318.3,360.1" fill="#f61502"/><polygon points="285.4,402.9 292,394.3 286.4,390.1 279.9,398.6" fill="#9aee00"/><polygon points="278.7,411.9 285.4,402.9 279.9,398.6 273.2,407.5" fill="#5aec00"/><polygon points="317.4,372.3 324,363.9 318.3,360.1 311.8,368.5" fill="#fd4e00"/><polygon points="246.6,437 253.3,430.1 247.9,426.2 241.3,433.2" fill="#07be16"/><polygon points="221.1,453 227.8,446.2 222.6,442.6 215.9,449.3" fill="#0f8130"/><polygon points="272.1,419.9 278.7,411.9 273.2,407.5 266.6,415.5" fill="#23ec01"/><polygon points="310.8,381.4 317.4,372.3 311.8,368.5 305.2,377.2" fill="#ff9f00"/><polygon points="304.2,390.3 310.8,381.4 305.2,377.2 298.6,386" fill="#f6e700"/><polygon points="239.8,443.6 246.6,437 241.3,433.2 234.6,439.8" fill="#0da722"/><polygon points="265.4,427.2 272.1,419.9 266.6,415.5 260,423" fill="#06e405"/><polygon points="297.6,398.7 304.2,390.3 298.6,386 292,394.3" fill="#cbf000"/><polygon points="343,348.7 349.7,337 343.8,333.8 337.2,345.2" fill="#e40207"/><polygon points="336.4,359.3 343,348.7 337.2,345.2 330.6,355.5" fill="#ee0406"/><polygon points="290.9,407.4 297.6,398.7 292,394.3 285.4,402.9" fill="#92ee00"/><polygon points="258.7,434.2 265.4,427.2 260,423 253.3,430.1" fill="#05d10d"/><polygon points="329.8,367.8 336.4,359.3 330.6,355.5 324,363.9" fill="#f71702"/><polygon points="349.7,337 356.4,322.7 350.5,320.1 343.8,333.8" fill="#cf0009"/><polygon points="233.1,449.9 239.8,443.6 234.6,439.8 227.8,446.2" fill="#0f942a"/><polygon points="284.2,416.5 290.9,407.4 285.4,402.9 278.7,411.9" fill="#50ec00"/><polygon points="323.1,376.5 329.8,367.8 324,363.9 317.4,372.3" fill="#fe5600"/><polygon points="252,441 258.7,434.2 253.3,430.1 246.6,437" fill="#07bd17"/><polygon points="277.6,424.5 284.2,416.5 278.7,411.9 272.1,419.9" fill="#1eea02"/><polygon points="316.5,385.7 323.1,376.5 317.4,372.3 310.8,381.4" fill="#ffa800"/><polygon points="226.3,456.7 233.1,449.9 227.8,446.2 221.1,453" fill="#0f8130"/><polygon points="309.8,394.9 316.5,385.7 310.8,381.4 304.2,390.3" fill="#f4f000"/><polygon points="270.9,431.6 277.6,424.5 272.1,419.9 265.4,427.2" fill="#05e106"/><polygon points="245.2,447.4 252,441 246.6,437 239.8,443.6" fill="#0da622"/><polygon points="303.2,403.4 309.8,394.9 304.2,390.3 297.6,398.7" fill="#c3f000"/><polygon points="342.2,363.4 348.9,352.5 343,348.7 336.4,359.3" fill="#ef0405"/><polygon points="348.9,352.5 355.6,340.4 349.7,337 343,348.7" fill="#e50207"/><polygon points="296.5,412.1 303.2,403.4 297.6,398.7 290.9,407.4" fill="#87ed00"/><polygon points="264.1,438.4 270.9,431.6 265.4,427.2 258.7,434.2" fill="#05cf0e"/><polygon points="335.6,372 342.2,363.4 336.4,359.3 329.8,367.8" fill="#f81a01"/><polygon points="238.4,453.8 245.2,447.4 239.8,443.6 233.1,449.9" fill="#0f942a"/><polygon points="355.6,340.4 362.3,325.5 356.4,322.7 349.7,337" fill="#ce0009"/><polygon points="289.8,421.3 296.5,412.1 290.9,407.4 284.2,416.5" fill="#44ed00"/><polygon points="328.9,380.8 335.6,372 329.8,367.8 323.1,376.5" fill="#fe6000"/><polygon points="283.1,429.1 289.8,421.3 284.2,416.5 277.6,424.5" fill="#18e903"/><polygon points="257.4,445 264.1,438.4 258.7,434.2 252,441" fill="#08bb18"/><polygon points="322.2,390.2 328.9,380.8 323.1,376.5 316.5,385.7" fill="#ffb200"/><polygon points="231.6,460.5 238.4,453.8 233.1,449.9 226.3,456.7" fill="#0f8230"/><polygon points="315.6,399.5 322.2,390.2 316.5,385.7 309.8,394.9" fill="#ecf000"/><polygon points="276.4,436.1 283.1,429.1 277.6,424.5 270.9,431.6" fill="#05de08"/><polygon points="308.9,408.1 315.6,399.5 309.8,394.9 303.2,403.4" fill="#baf000"/><polygon points="250.6,451.4 257.4,445 252,441 245.2,447.4" fill="#0da622"/><polygon points="348.1,367.6 354.8,356.5 348.9,352.5 342.2,363.4" fill="#f00405"/><polygon points="302.2,416.9 308.9,408.1 303.2,403.4 296.5,412.1" fill="#7bec00"/><polygon points="354.8,356.5 361.5,344 355.6,340.4 348.9,352.5" fill="#e50207"/><polygon points="269.6,442.7 276.4,436.1 270.9,431.6 264.1,438.4" fill="#05cc0f"/><polygon points="341.4,376.3 348.1,367.6 342.2,363.4 335.6,372" fill="#f91e01"/><polygon points="295.5,426.1 302.2,416.9 296.5,412.1 289.8,421.3" fill="#38ed00"/><polygon points="243.8,457.6 250.6,451.4 245.2,447.4 238.4,453.8" fill="#0f942a"/><polygon points="361.5,344 368.3,328.5 362.3,325.5 355.6,340.4" fill="#ce0009"/><polygon points="334.7,385.2 341.4,376.3 335.6,372 328.9,380.8" fill="#ff6c00"/><polygon points="288.7,433.8 295.5,426.1 289.8,421.3 283.1,429.1" fill="#12e703"/><polygon points="328,394.7 334.7,385.2 328.9,380.8 322.2,390.2" fill="#fdbc00"/><polygon points="262.9,449.1 269.6,442.7 264.1,438.4 257.4,445" fill="#08b918"/><polygon points="321.3,404.2 328,394.7 322.2,390.2 315.6,399.5" fill="#e4f000"/><polygon points="237,464.4 243.8,457.6 238.4,453.8 231.6,460.5" fill="#0f8230"/><polygon points="282,440.5 288.7,433.8 283.1,429.1 276.4,436.1" fill="#05da09"/><polygon points="314.6,412.8 321.3,404.2 315.6,399.5 308.9,408.1" fill="#aeef00"/><polygon points="256,455.3 262.9,449.1 257.4,445 250.6,451.4" fill="#0da522"/><polygon points="307.9,421.6 314.6,412.8 308.9,408.1 302.2,416.9" fill="#70ec00"/><polygon points="354,371.9 360.7,360.5 354.8,356.5 348.1,367.6" fill="#f00505"/><polygon points="360.7,360.5 367.5,347.7 361.5,344 354.8,356.5" fill="#e50207"/><polygon points="347.3,380.7 354,371.9 348.1,367.6 341.4,376.3" fill="#fa2200"/><polygon points="275.2,446.9 282,440.5 276.4,436.1 269.6,442.7" fill="#05ca10"/><polygon points="301.1,430.9 307.9,421.6 302.2,416.9 295.5,426.1" fill="#2dee00"/><polygon points="340.6,389.6 347.3,380.7 341.4,376.3 334.7,385.2" fill="#ff7700"/><polygon points="249.2,461.5 256,455.3 250.6,451.4 243.8,457.6" fill="#0f942a"/><polygon points="367.5,347.7 374.4,331.7 368.3,328.5 361.5,344" fill="#ce0009"/><polygon points="294.4,438.4 301.1,430.9 295.5,426.1 288.7,433.8" fill="#0ce604"/><polygon points="333.9,399.3 340.6,389.6 334.7,385.2 328,394.7" fill="#fbc700"/><polygon points="268.4,453.1 275.2,446.9 269.6,442.7 262.9,449.1" fill="#09b719"/><polygon points="327.1,408.9 333.9,399.3 328,394.7 321.3,404.2" fill="#dcf000"/><polygon points="242.4,468.1 249.2,461.5 243.8,457.6 237,464.4" fill="#0f8330"/><polygon points="287.6,444.9 294.4,438.4 288.7,433.8 282,440.5" fill="#05d70b"/><polygon points="320.4,417.5 327.1,408.9 321.3,404.2 314.6,412.8" fill="#a3ee00"/><polygon points="261.6,459.1 268.4,453.1 262.9,449.1 256,455.3" fill="#0da523"/><polygon points="313.6,426.4 320.4,417.5 314.6,412.8 307.9,421.6" fill="#64eb00"/><polygon points="360,376.3 366.7,364.6 360.7,360.5 354,371.9" fill="#f10505"/><polygon points="366.7,364.6 373.6,351.5 367.5,347.7 360.7,360.5" fill="#e60207"/><polygon points="353.2,385.1 360,376.3 354,371.9 347.3,380.7" fill="#fb2d00"/><polygon points="280.8,451 287.6,444.9 282,440.5 275.2,446.9" fill="#05c811"/><polygon points="306.9,435.6 313.6,426.4 307.9,421.6 301.1,430.9" fill="#27ec01"/><polygon points="346.5,394.2 353.2,385.1 347.3,380.7 340.6,389.6" fill="#ff8200"/><polygon points="373.6,351.5 380.5,334.9 374.4,331.7 367.5,347.7" fill="#ce0009"/><polygon points="254.7,465.2 261.6,459.1 256,455.3 249.2,461.5" fill="#0f9529"/><polygon points="300.1,443 306.9,435.6 301.1,430.9 294.4,438.4" fill="#07e405"/><polygon points="339.7,404 346.5,394.2 340.6,389.6 333.9,399.3" fill="#fad200"/><polygon points="333,413.7 339.7,404 333.9,399.3 327.1,408.9" fill="#d3f000"/><polygon points="274,456.9 280.8,451 275.2,446.9 268.4,453.1" fill="#09b71a"/><polygon points="326.2,422.4 333,413.7 327.1,408.9 320.4,417.5" fill="#97ee00"/><polygon points="293.3,449.2 300.1,443 294.4,438.4 287.6,444.9" fill="#05d40c"/><polygon points="247.8,471.8 254.7,465.2 249.2,461.5 242.4,468.1" fill="#0f842f"/><polygon points="319.4,431.3 326.2,422.4 320.4,417.5 313.6,426.4" fill="#58ec00"/><polygon points="366,380.7 372.8,368.7 366.7,364.6 360,376.3" fill="#f20605"/><polygon points="267.1,462.8 274,456.9 268.4,453.1 261.6,459.1" fill="#0da622"/><polygon points="359.2,389.7 366,380.7 360,376.3 353.2,385.1" fill="#fc3a00"/><polygon points="372.8,368.7 379.7,355.2 373.6,351.5 366.7,364.6" fill="#e70207"/><polygon points="312.7,440.6 319.4,431.3 313.6,426.4 306.9,435.6" fill="#20eb02"/><polygon points="286.5,455 293.3,449.2 287.6,444.9 280.8,451" fill="#05c712"/><polygon points="352.5,398.9 359.2,389.7 353.2,385.1 346.5,394.2" fill="#ff8f00"/><polygon points="305.9,447.8 312.7,440.6 306.9,435.6 300.1,443" fill="#05e106"/><polygon points="345.7,408.9 352.5,398.9 346.5,394.2 339.7,404" fill="#f8de00"/><polygon points="379.7,355.2 386.7,338 380.5,334.9 373.6,351.5" fill="#ce0009"/><polygon points="260.2,468.7 267.1,462.8 261.6,459.1 254.7,465.2" fill="#0f9629"/><polygon points="338.9,418.8 345.7,408.9 339.7,404 333,413.7" fill="#caf000"/><polygon points="279.6,460.7 286.5,455 280.8,451 274,456.9" fill="#09b71a"/><polygon points="332.1,427.6 338.9,418.8 333,413.7 326.2,422.4" fill="#8aed00"/><polygon points="299,453.8 305.9,447.8 300.1,443 293.3,449.2" fill="#05d10d"/><polygon points="253.3,475.2 260.2,468.7 254.7,465.2 247.8,471.8" fill="#0f872e"/><polygon points="325.3,436.5 332.1,427.6 326.2,422.4 319.4,431.3" fill="#4bec00"/><polygon points="372.1,385.2 378.9,372.8 372.8,368.7 366,380.7" fill="#f30904"/><polygon points="365.3,394.3 372.1,385.2 366,380.7 359.2,389.7" fill="#fd4800"/><polygon points="318.5,445.8 325.3,436.5 319.4,431.3 312.7,440.6" fill="#19e903"/><polygon points="272.7,466.4 279.6,460.7 274,456.9 267.1,462.8" fill="#0da721"/><polygon points="378.9,372.8 385.9,358.8 379.7,355.2 372.8,368.7" fill="#e70207"/><polygon points="292.2,459.3 299,453.8 293.3,449.2 286.5,455" fill="#05c513"/><polygon points="358.5,403.7 365.3,394.3 359.2,389.7 352.5,398.9" fill="#ff9c00"/><polygon points="311.7,452.9 318.5,445.8 312.7,440.6 305.9,447.8" fill="#05dc08"/><polygon points="351.7,414 358.5,403.7 352.5,398.9 345.7,408.9" fill="#f6eb00"/><polygon points="344.9,424.1 351.7,414 345.7,408.9 338.9,418.8" fill="#bef000"/><polygon points="385.9,358.8 392.9,341 386.7,338 379.7,355.2" fill="#ce0009"/><polygon points="265.8,472.2 272.7,466.4 267.1,462.8 260.2,468.7" fill="#0f9928"/><polygon points="338.1,433.1 344.9,424.1 338.9,418.8 332.1,427.6" fill="#7aec00"/><polygon points="285.3,464.7 292.2,459.3 286.5,455 279.6,460.7" fill="#09b61a"/><polygon points="304.8,458.7 311.7,452.9 305.9,447.8 299,453.8" fill="#05cd0f"/><polygon points="331.2,442.2 338.1,433.1 332.1,427.6 325.3,436.5" fill="#3aed00"/><polygon points="258.9,478.5 265.8,472.2 260.2,468.7 253.3,475.2" fill="#0f8a2d"/><polygon points="324.4,451.6 331.2,442.2 325.3,436.5 318.5,445.8" fill="#0fe704"/><polygon points="278.4,470.2 285.3,464.7 279.6,460.7 272.7,466.4" fill="#0ca921"/><polygon points="298,464 304.8,458.7 299,453.8 292.2,459.3" fill="#06c114"/><polygon points="317.5,458.6 324.4,451.6 318.5,445.8 311.7,452.9" fill="#05d50b"/><polygon points="271.5,475.9 278.4,470.2 272.7,466.4 265.8,472.2" fill="#0f9b27"/><polygon points="310.7,464.2 317.5,458.6 311.7,452.9 304.8,458.7" fill="#05c712"/><polygon points="291.1,469.2 298,464 292.2,459.3 285.3,464.7" fill="#09b51b"/><polygon points="264.5,482.1 271.5,475.9 265.8,472.2 258.9,478.5" fill="#0f8d2c"/><polygon points="303.8,469.3 310.7,464.2 304.8,458.7 298,464" fill="#08ba18"/><polygon points="284.1,474.5 291.1,469.2 285.3,464.7 278.4,470.2" fill="#0ca821"/><polygon points="296.9,474.4 303.8,469.3 298,464 291.1,469.2" fill="#0baf1d"/><polygon points="277.2,480.1 284.1,474.5 278.4,470.2 271.5,475.9" fill="#0f9c27"/><polygon points="270.2,486.2 277.2,480.1 271.5,475.9 264.5,482.1" fill="#0f8f2b"/><polygon points="289.9,479.6 296.9,474.4 291.1,469.2 284.1,474.5" fill="#0da423"/><polygon points="283,485.2 289.9,479.6 284.1,474.5 277.2,480.1" fill="#0f9928"/><polygon points="275.9,491.3 283,485.2 277.2,480.1 270.2,486.2" fill="#0f8c2c"/></g><text x="25.6" y="42.7" font-family="Liberation Serif, serif" font-weight="bold" font-size="33">A</text><text x="308.8" y="42.7" font-family="Liberation Serif, serif" font-weight="bold" font-size="33">B</text><text x="162" y="302.8" font-family="Liberation Serif, serif" font-weight="bold" font-size="33">C</text></svg></body></html>
